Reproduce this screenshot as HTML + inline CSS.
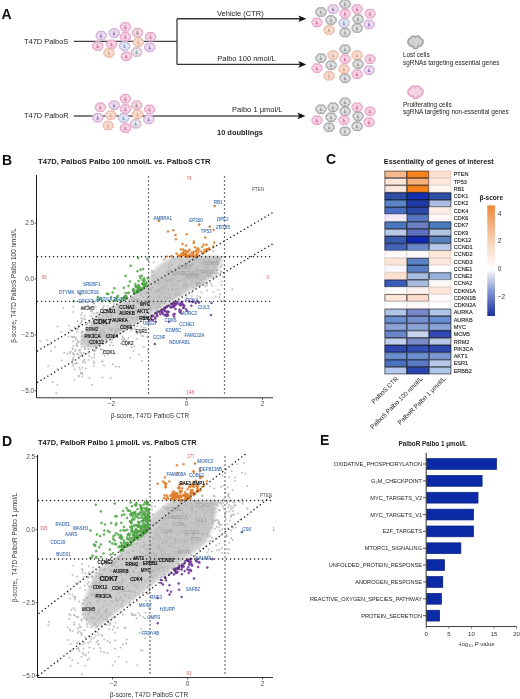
<!DOCTYPE html>
<html><head><meta charset="utf-8"><style>
html,body{margin:0;padding:0;background:#fff;width:520px;height:699px;overflow:hidden}
svg{display:block;filter:blur(0.35px)}
text{font-family:"Liberation Sans",sans-serif}
</style></head><body>
<svg width="520" height="699" viewBox="0 0 520 699">
<defs><filter id="blur1" x="-10%" y="-10%" width="120%" height="120%"><feGaussianBlur stdDeviation="1.6"/></filter></defs>
<rect width="520" height="699" fill="#fff"/>
<text x="1.50" y="19.30" font-size="14" fill="#111" font-weight="bold" text-anchor="start" >A</text><text x="24.00" y="44.00" font-size="7.45" fill="#222" font-weight="normal" text-anchor="start" >T47D PalboS</text><text x="24.00" y="118.30" font-size="7.45" fill="#222" font-weight="normal" text-anchor="start" >T47D PalboR</text><line x1="73.70" y1="41.30" x2="177.00" y2="41.30" stroke="#444" stroke-width="1.3" /><line x1="177.00" y1="18.70" x2="177.00" y2="64.40" stroke="#444" stroke-width="1.35" /><line x1="177.00" y1="18.70" x2="300.00" y2="18.70" stroke="#333" stroke-width="1.35" /><line x1="177.00" y1="64.40" x2="300.00" y2="64.40" stroke="#333" stroke-width="1.35" /><line x1="73.70" y1="115.90" x2="299.00" y2="115.90" stroke="#555" stroke-width="1.5" /><path d="M306.3 18.7 L298.3 15.399999999999999 L300.1 18.7 L298.3 22.0 Z" fill="#111"/><path d="M306.3 64.4 L298.3 61.10000000000001 L300.1 64.4 L298.3 67.7 Z" fill="#111"/><path d="M305.4 115.9 L297.4 112.60000000000001 L299.2 115.9 L297.4 119.2 Z" fill="#111"/><text x="217.00" y="15.90" font-size="7.5" fill="#222" font-weight="normal" text-anchor="start" >Vehicle (CTR)</text><text x="217.30" y="60.60" font-size="7.5" fill="#222" font-weight="normal" text-anchor="start" >Palbo 100 nmol/L</text><text x="232.00" y="112.10" font-size="7.55" fill="#222" font-weight="normal" text-anchor="start" >Palbo 1 μmol/L</text><text x="217.00" y="135.30" font-size="7.46" fill="#222" font-weight="bold" text-anchor="start" >10 doublings</text><path d="M415.50 37.40 A2.60 2.60 0 0 1 420.39 38.43 A2.60 2.60 0 0 1 422.98 41.04 A2.60 2.60 0 0 1 422.08 44.00 A2.60 2.60 0 0 1 418.10 45.93 A2.60 2.60 0 0 1 412.90 45.93 A2.60 2.60 0 0 1 408.92 44.00 A2.60 2.60 0 0 1 408.02 41.04 A2.60 2.60 0 0 1 410.61 38.43 A2.60 2.60 0 0 1 415.50 37.40Z" fill="#d2d2d2" stroke="#a4a4a4" stroke-width="1.6"/><path d="M415.50 87.40 A2.60 2.60 0 0 1 420.39 88.43 A2.60 2.60 0 0 1 422.98 91.04 A2.60 2.60 0 0 1 422.08 94.00 A2.60 2.60 0 0 1 418.10 95.93 A2.60 2.60 0 0 1 412.90 95.93 A2.60 2.60 0 0 1 408.92 94.00 A2.60 2.60 0 0 1 408.02 91.04 A2.60 2.60 0 0 1 410.61 88.43 A2.60 2.60 0 0 1 415.50 87.40Z" fill="#f4d4e4" stroke="#e4a6c6" stroke-width="1.6"/><text x="403.00" y="57.40" font-size="6.4" fill="#222" font-weight="normal" text-anchor="start" >Lost cells</text><text x="403.00" y="64.90" font-size="6.41" fill="#222" font-weight="normal" text-anchor="start" >sgRNAs targeting essential genes</text><text x="403.00" y="106.90" font-size="6.4" fill="#222" font-weight="normal" text-anchor="start" >Proliferating cells</text><text x="403.00" y="114.40" font-size="6.41" fill="#222" font-weight="normal" text-anchor="start" >sgRNA targeting non-essential genes</text><path d="M125.50 23.30 A2.05 2.05 0 0 1 129.04 24.35 A2.05 2.05 0 0 1 130.50 26.90 A2.05 2.05 0 0 1 129.04 29.45 A2.05 2.05 0 0 1 125.50 30.50 A2.05 2.05 0 0 1 121.96 29.45 A2.05 2.05 0 0 1 120.50 26.90 A2.05 2.05 0 0 1 121.96 24.35 A2.05 2.05 0 0 1 125.50 23.30Z" fill="#f6d4e4" stroke="#e8aacb" stroke-width="1.3"/><path d="M125.20 25.20 L124.90 28.20 M124.10 28.30 L126.80 28.30 M125.40 26.80 L126.20 27.50" stroke="#c8488a" stroke-width="0.75" fill="none" stroke-opacity="0.85"/><path d="M101.20 32.00 A2.05 2.05 0 0 1 104.74 33.05 A2.05 2.05 0 0 1 106.20 35.60 A2.05 2.05 0 0 1 104.74 38.15 A2.05 2.05 0 0 1 101.20 39.20 A2.05 2.05 0 0 1 97.66 38.15 A2.05 2.05 0 0 1 96.20 35.60 A2.05 2.05 0 0 1 97.66 33.05 A2.05 2.05 0 0 1 101.20 32.00Z" fill="#eedcf0" stroke="#d4b2da" stroke-width="1.3"/><path d="M100.90 33.90 L100.60 36.90 M99.80 37.00 L102.50 37.00 M101.10 35.50 L101.90 36.20" stroke="#6a4aa8" stroke-width="0.75" fill="none" stroke-opacity="0.85"/><path d="M114.20 29.40 A2.05 2.05 0 0 1 117.74 30.45 A2.05 2.05 0 0 1 119.20 33.00 A2.05 2.05 0 0 1 117.74 35.55 A2.05 2.05 0 0 1 114.20 36.60 A2.05 2.05 0 0 1 110.66 35.55 A2.05 2.05 0 0 1 109.20 33.00 A2.05 2.05 0 0 1 110.66 30.45 A2.05 2.05 0 0 1 114.20 29.40Z" fill="#eedcf0" stroke="#d4b2da" stroke-width="1.3"/><path d="M113.90 31.30 L113.60 34.30 M112.80 34.40 L115.50 34.40 M114.10 32.90 L114.90 33.60" stroke="#6a4aa8" stroke-width="0.75" fill="none" stroke-opacity="0.85"/><path d="M137.60 28.90 A2.05 2.05 0 0 1 141.14 29.95 A2.05 2.05 0 0 1 142.60 32.50 A2.05 2.05 0 0 1 141.14 35.05 A2.05 2.05 0 0 1 137.60 36.10 A2.05 2.05 0 0 1 134.06 35.05 A2.05 2.05 0 0 1 132.60 32.50 A2.05 2.05 0 0 1 134.06 29.95 A2.05 2.05 0 0 1 137.60 28.90Z" fill="#f4d8e2" stroke="#dcb2c6" stroke-width="1.3"/><path d="M137.30 30.80 L137.00 33.80 M136.20 33.90 L138.90 33.90 M137.50 32.40 L138.30 33.10" stroke="#7a5a5a" stroke-width="0.75" fill="none" stroke-opacity="0.85"/><path d="M150.60 33.20 A2.05 2.05 0 0 1 154.14 34.25 A2.05 2.05 0 0 1 155.60 36.80 A2.05 2.05 0 0 1 154.14 39.35 A2.05 2.05 0 0 1 150.60 40.40 A2.05 2.05 0 0 1 147.06 39.35 A2.05 2.05 0 0 1 145.60 36.80 A2.05 2.05 0 0 1 147.06 34.25 A2.05 2.05 0 0 1 150.60 33.20Z" fill="#f6d4e4" stroke="#e8aacb" stroke-width="1.3"/><path d="M150.30 35.10 L150.00 38.10 M149.20 38.20 L151.90 38.20 M150.50 36.70 L151.30 37.40" stroke="#c8488a" stroke-width="0.75" fill="none" stroke-opacity="0.85"/><path d="M125.50 33.20 A2.05 2.05 0 0 1 129.04 34.25 A2.05 2.05 0 0 1 130.50 36.80 A2.05 2.05 0 0 1 129.04 39.35 A2.05 2.05 0 0 1 125.50 40.40 A2.05 2.05 0 0 1 121.96 39.35 A2.05 2.05 0 0 1 120.50 36.80 A2.05 2.05 0 0 1 121.96 34.25 A2.05 2.05 0 0 1 125.50 33.20Z" fill="#f6d4e4" stroke="#e8aacb" stroke-width="1.3"/><path d="M125.20 35.10 L124.90 38.10 M124.10 38.20 L126.80 38.20 M125.40 36.70 L126.20 37.40" stroke="#c8488a" stroke-width="0.75" fill="none" stroke-opacity="0.85"/><path d="M97.80 42.40 A2.05 2.05 0 0 1 101.34 43.45 A2.05 2.05 0 0 1 102.80 46.00 A2.05 2.05 0 0 1 101.34 48.55 A2.05 2.05 0 0 1 97.80 49.60 A2.05 2.05 0 0 1 94.26 48.55 A2.05 2.05 0 0 1 92.80 46.00 A2.05 2.05 0 0 1 94.26 43.45 A2.05 2.05 0 0 1 97.80 42.40Z" fill="#f6d4e4" stroke="#e8aacb" stroke-width="1.3"/><path d="M97.50 44.30 L97.20 47.30 M96.40 47.40 L99.10 47.40 M97.70 45.90 L98.50 46.60" stroke="#c8488a" stroke-width="0.75" fill="none" stroke-opacity="0.85"/><path d="M111.60 40.60 A2.05 2.05 0 0 1 115.14 41.65 A2.05 2.05 0 0 1 116.60 44.20 A2.05 2.05 0 0 1 115.14 46.75 A2.05 2.05 0 0 1 111.60 47.80 A2.05 2.05 0 0 1 108.06 46.75 A2.05 2.05 0 0 1 106.60 44.20 A2.05 2.05 0 0 1 108.06 41.65 A2.05 2.05 0 0 1 111.60 40.60Z" fill="#f6d4e4" stroke="#e8aacb" stroke-width="1.3"/><path d="M111.30 42.50 L111.00 45.50 M110.20 45.60 L112.90 45.60 M111.50 44.10 L112.30 44.80" stroke="#c8488a" stroke-width="0.75" fill="none" stroke-opacity="0.85"/><path d="M124.60 42.40 A2.05 2.05 0 0 1 128.14 43.45 A2.05 2.05 0 0 1 129.60 46.00 A2.05 2.05 0 0 1 128.14 48.55 A2.05 2.05 0 0 1 124.60 49.60 A2.05 2.05 0 0 1 121.06 48.55 A2.05 2.05 0 0 1 119.60 46.00 A2.05 2.05 0 0 1 121.06 43.45 A2.05 2.05 0 0 1 124.60 42.40Z" fill="#e2e6f4" stroke="#c8bcdc" stroke-width="1.3"/><path d="M124.30 44.30 L124.00 47.30 M123.20 47.40 L125.90 47.40 M124.50 45.90 L125.30 46.60" stroke="#4a88c0" stroke-width="0.75" fill="none" stroke-opacity="0.85"/><path d="M138.40 38.50 A2.05 2.05 0 0 1 141.94 39.55 A2.05 2.05 0 0 1 143.40 42.10 A2.05 2.05 0 0 1 141.94 44.65 A2.05 2.05 0 0 1 138.40 45.70 A2.05 2.05 0 0 1 134.86 44.65 A2.05 2.05 0 0 1 133.40 42.10 A2.05 2.05 0 0 1 134.86 39.55 A2.05 2.05 0 0 1 138.40 38.50Z" fill="#f8dcd0" stroke="#ecbcaa" stroke-width="1.3"/><path d="M138.10 40.40 L137.80 43.40 M137.00 43.50 L139.70 43.50 M138.30 42.00 L139.10 42.70" stroke="#c89070" stroke-width="0.75" fill="none" stroke-opacity="0.85"/><path d="M149.70 43.70 A2.05 2.05 0 0 1 153.24 44.75 A2.05 2.05 0 0 1 154.70 47.30 A2.05 2.05 0 0 1 153.24 49.85 A2.05 2.05 0 0 1 149.70 50.90 A2.05 2.05 0 0 1 146.16 49.85 A2.05 2.05 0 0 1 144.70 47.30 A2.05 2.05 0 0 1 146.16 44.75 A2.05 2.05 0 0 1 149.70 43.70Z" fill="#eedcf0" stroke="#d4b2da" stroke-width="1.3"/><path d="M149.40 45.60 L149.10 48.60 M148.30 48.70 L151.00 48.70 M149.60 47.20 L150.40 47.90" stroke="#6a4aa8" stroke-width="0.75" fill="none" stroke-opacity="0.85"/><path d="M109.00 49.30 A2.05 2.05 0 0 1 112.54 50.35 A2.05 2.05 0 0 1 114.00 52.90 A2.05 2.05 0 0 1 112.54 55.45 A2.05 2.05 0 0 1 109.00 56.50 A2.05 2.05 0 0 1 105.46 55.45 A2.05 2.05 0 0 1 104.00 52.90 A2.05 2.05 0 0 1 105.46 50.35 A2.05 2.05 0 0 1 109.00 49.30Z" fill="#f8dcd0" stroke="#ecbcaa" stroke-width="1.3"/><path d="M108.70 51.20 L108.40 54.20 M107.60 54.30 L110.30 54.30 M108.90 52.80 L109.70 53.50" stroke="#c89070" stroke-width="0.75" fill="none" stroke-opacity="0.85"/><path d="M126.30 52.70 A2.05 2.05 0 0 1 129.84 53.75 A2.05 2.05 0 0 1 131.30 56.30 A2.05 2.05 0 0 1 129.84 58.85 A2.05 2.05 0 0 1 126.30 59.90 A2.05 2.05 0 0 1 122.76 58.85 A2.05 2.05 0 0 1 121.30 56.30 A2.05 2.05 0 0 1 122.76 53.75 A2.05 2.05 0 0 1 126.30 52.70Z" fill="#f6d4e4" stroke="#e8aacb" stroke-width="1.3"/><path d="M126.00 54.60 L125.70 57.60 M124.90 57.70 L127.60 57.70 M126.20 56.20 L127.00 56.90" stroke="#c8488a" stroke-width="0.75" fill="none" stroke-opacity="0.85"/><path d="M136.70 48.40 A2.05 2.05 0 0 1 140.24 49.45 A2.05 2.05 0 0 1 141.70 52.00 A2.05 2.05 0 0 1 140.24 54.55 A2.05 2.05 0 0 1 136.70 55.60 A2.05 2.05 0 0 1 133.16 54.55 A2.05 2.05 0 0 1 131.70 52.00 A2.05 2.05 0 0 1 133.16 49.45 A2.05 2.05 0 0 1 136.70 48.40Z" fill="#ece4ee" stroke="#d4b6cc" stroke-width="1.3"/><path d="M136.40 50.30 L136.10 53.30 M135.30 53.40 L138.00 53.40 M136.60 51.90 L137.40 52.60" stroke="#3a8a90" stroke-width="0.75" fill="none" stroke-opacity="0.85"/><path d="M125.50 95.10 A2.05 2.05 0 0 1 129.04 96.15 A2.05 2.05 0 0 1 130.50 98.70 A2.05 2.05 0 0 1 129.04 101.25 A2.05 2.05 0 0 1 125.50 102.30 A2.05 2.05 0 0 1 121.96 101.25 A2.05 2.05 0 0 1 120.50 98.70 A2.05 2.05 0 0 1 121.96 96.15 A2.05 2.05 0 0 1 125.50 95.10Z" fill="#f6d4e4" stroke="#e8aacb" stroke-width="1.3"/><path d="M125.20 97.00 L124.90 100.00 M124.10 100.10 L126.80 100.10 M125.40 98.60 L126.20 99.30" stroke="#c8488a" stroke-width="0.75" fill="none" stroke-opacity="0.85"/><path d="M100.40 103.70 A2.05 2.05 0 0 1 103.94 104.75 A2.05 2.05 0 0 1 105.40 107.30 A2.05 2.05 0 0 1 103.94 109.85 A2.05 2.05 0 0 1 100.40 110.90 A2.05 2.05 0 0 1 96.86 109.85 A2.05 2.05 0 0 1 95.40 107.30 A2.05 2.05 0 0 1 96.86 104.75 A2.05 2.05 0 0 1 100.40 103.70Z" fill="#f6d4e4" stroke="#e8aacb" stroke-width="1.3"/><path d="M100.10 105.60 L99.80 108.60 M99.00 108.70 L101.70 108.70 M100.30 107.20 L101.10 107.90" stroke="#c8488a" stroke-width="0.75" fill="none" stroke-opacity="0.85"/><path d="M114.20 101.60 A2.05 2.05 0 0 1 117.74 102.65 A2.05 2.05 0 0 1 119.20 105.20 A2.05 2.05 0 0 1 117.74 107.75 A2.05 2.05 0 0 1 114.20 108.80 A2.05 2.05 0 0 1 110.66 107.75 A2.05 2.05 0 0 1 109.20 105.20 A2.05 2.05 0 0 1 110.66 102.65 A2.05 2.05 0 0 1 114.20 101.60Z" fill="#eedcf0" stroke="#d4b2da" stroke-width="1.3"/><path d="M113.90 103.50 L113.60 106.50 M112.80 106.60 L115.50 106.60 M114.10 105.10 L114.90 105.80" stroke="#6a4aa8" stroke-width="0.75" fill="none" stroke-opacity="0.85"/><path d="M136.70 101.60 A2.05 2.05 0 0 1 140.24 102.65 A2.05 2.05 0 0 1 141.70 105.20 A2.05 2.05 0 0 1 140.24 107.75 A2.05 2.05 0 0 1 136.70 108.80 A2.05 2.05 0 0 1 133.16 107.75 A2.05 2.05 0 0 1 131.70 105.20 A2.05 2.05 0 0 1 133.16 102.65 A2.05 2.05 0 0 1 136.70 101.60Z" fill="#f4d8e2" stroke="#dcb2c6" stroke-width="1.3"/><path d="M136.40 103.50 L136.10 106.50 M135.30 106.60 L138.00 106.60 M136.60 105.10 L137.40 105.80" stroke="#7a5a5a" stroke-width="0.75" fill="none" stroke-opacity="0.85"/><path d="M149.70 105.80 A2.05 2.05 0 0 1 153.24 106.85 A2.05 2.05 0 0 1 154.70 109.40 A2.05 2.05 0 0 1 153.24 111.95 A2.05 2.05 0 0 1 149.70 113.00 A2.05 2.05 0 0 1 146.16 111.95 A2.05 2.05 0 0 1 144.70 109.40 A2.05 2.05 0 0 1 146.16 106.85 A2.05 2.05 0 0 1 149.70 105.80Z" fill="#f6d4e4" stroke="#e8aacb" stroke-width="1.3"/><path d="M149.40 107.70 L149.10 110.70 M148.30 110.80 L151.00 110.80 M149.60 109.30 L150.40 110.00" stroke="#c8488a" stroke-width="0.75" fill="none" stroke-opacity="0.85"/><path d="M125.50 105.40 A2.05 2.05 0 0 1 129.04 106.45 A2.05 2.05 0 0 1 130.50 109.00 A2.05 2.05 0 0 1 129.04 111.55 A2.05 2.05 0 0 1 125.50 112.60 A2.05 2.05 0 0 1 121.96 111.55 A2.05 2.05 0 0 1 120.50 109.00 A2.05 2.05 0 0 1 121.96 106.45 A2.05 2.05 0 0 1 125.50 105.40Z" fill="#f6d4e4" stroke="#e8aacb" stroke-width="1.3"/><path d="M125.20 107.30 L124.90 110.30 M124.10 110.40 L126.80 110.40 M125.40 108.90 L126.20 109.60" stroke="#c8488a" stroke-width="0.75" fill="none" stroke-opacity="0.85"/><path d="M97.80 114.10 A2.05 2.05 0 0 1 101.34 115.15 A2.05 2.05 0 0 1 102.80 117.70 A2.05 2.05 0 0 1 101.34 120.25 A2.05 2.05 0 0 1 97.80 121.30 A2.05 2.05 0 0 1 94.26 120.25 A2.05 2.05 0 0 1 92.80 117.70 A2.05 2.05 0 0 1 94.26 115.15 A2.05 2.05 0 0 1 97.80 114.10Z" fill="#eedcf0" stroke="#d4b2da" stroke-width="1.3"/><path d="M97.50 116.00 L97.20 119.00 M96.40 119.10 L99.10 119.10 M97.70 117.60 L98.50 118.30" stroke="#6a4aa8" stroke-width="0.75" fill="none" stroke-opacity="0.85"/><path d="M110.80 111.50 A2.05 2.05 0 0 1 114.34 112.55 A2.05 2.05 0 0 1 115.80 115.10 A2.05 2.05 0 0 1 114.34 117.65 A2.05 2.05 0 0 1 110.80 118.70 A2.05 2.05 0 0 1 107.26 117.65 A2.05 2.05 0 0 1 105.80 115.10 A2.05 2.05 0 0 1 107.26 112.55 A2.05 2.05 0 0 1 110.80 111.50Z" fill="#f8dcd0" stroke="#ecbcaa" stroke-width="1.3"/><path d="M110.50 113.40 L110.20 116.40 M109.40 116.50 L112.10 116.50 M110.70 115.00 L111.50 115.70" stroke="#c89070" stroke-width="0.75" fill="none" stroke-opacity="0.85"/><path d="M123.70 114.40 A2.05 2.05 0 0 1 127.24 115.45 A2.05 2.05 0 0 1 128.70 118.00 A2.05 2.05 0 0 1 127.24 120.55 A2.05 2.05 0 0 1 123.70 121.60 A2.05 2.05 0 0 1 120.16 120.55 A2.05 2.05 0 0 1 118.70 118.00 A2.05 2.05 0 0 1 120.16 115.45 A2.05 2.05 0 0 1 123.70 114.40Z" fill="#e2e6f4" stroke="#c8bcdc" stroke-width="1.3"/><path d="M123.40 116.30 L123.10 119.30 M122.30 119.40 L125.00 119.40 M123.60 117.90 L124.40 118.60" stroke="#4a88c0" stroke-width="0.75" fill="none" stroke-opacity="0.85"/><path d="M137.60 110.60 A2.05 2.05 0 0 1 141.14 111.65 A2.05 2.05 0 0 1 142.60 114.20 A2.05 2.05 0 0 1 141.14 116.75 A2.05 2.05 0 0 1 137.60 117.80 A2.05 2.05 0 0 1 134.06 116.75 A2.05 2.05 0 0 1 132.60 114.20 A2.05 2.05 0 0 1 134.06 111.65 A2.05 2.05 0 0 1 137.60 110.60Z" fill="#f8dcd0" stroke="#ecbcaa" stroke-width="1.3"/><path d="M137.30 112.50 L137.00 115.50 M136.20 115.60 L138.90 115.60 M137.50 114.10 L138.30 114.80" stroke="#c89070" stroke-width="0.75" fill="none" stroke-opacity="0.85"/><path d="M148.80 115.80 A2.05 2.05 0 0 1 152.34 116.85 A2.05 2.05 0 0 1 153.80 119.40 A2.05 2.05 0 0 1 152.34 121.95 A2.05 2.05 0 0 1 148.80 123.00 A2.05 2.05 0 0 1 145.26 121.95 A2.05 2.05 0 0 1 143.80 119.40 A2.05 2.05 0 0 1 145.26 116.85 A2.05 2.05 0 0 1 148.80 115.80Z" fill="#eedcf0" stroke="#d4b2da" stroke-width="1.3"/><path d="M148.50 117.70 L148.20 120.70 M147.40 120.80 L150.10 120.80 M148.70 119.30 L149.50 120.00" stroke="#6a4aa8" stroke-width="0.75" fill="none" stroke-opacity="0.85"/><path d="M108.20 121.90 A2.05 2.05 0 0 1 111.74 122.95 A2.05 2.05 0 0 1 113.20 125.50 A2.05 2.05 0 0 1 111.74 128.05 A2.05 2.05 0 0 1 108.20 129.10 A2.05 2.05 0 0 1 104.66 128.05 A2.05 2.05 0 0 1 103.20 125.50 A2.05 2.05 0 0 1 104.66 122.95 A2.05 2.05 0 0 1 108.20 121.90Z" fill="#f8dcd0" stroke="#ecbcaa" stroke-width="1.3"/><path d="M107.90 123.80 L107.60 126.80 M106.80 126.90 L109.50 126.90 M108.10 125.40 L108.90 126.10" stroke="#c89070" stroke-width="0.75" fill="none" stroke-opacity="0.85"/><path d="M125.50 124.40 A2.05 2.05 0 0 1 129.04 125.45 A2.05 2.05 0 0 1 130.50 128.00 A2.05 2.05 0 0 1 129.04 130.55 A2.05 2.05 0 0 1 125.50 131.60 A2.05 2.05 0 0 1 121.96 130.55 A2.05 2.05 0 0 1 120.50 128.00 A2.05 2.05 0 0 1 121.96 125.45 A2.05 2.05 0 0 1 125.50 124.40Z" fill="#f6d4e4" stroke="#e8aacb" stroke-width="1.3"/><path d="M125.20 126.30 L124.90 129.30 M124.10 129.40 L126.80 129.40 M125.40 127.90 L126.20 128.60" stroke="#c8488a" stroke-width="0.75" fill="none" stroke-opacity="0.85"/><path d="M135.80 120.10 A2.05 2.05 0 0 1 139.34 121.15 A2.05 2.05 0 0 1 140.80 123.70 A2.05 2.05 0 0 1 139.34 126.25 A2.05 2.05 0 0 1 135.80 127.30 A2.05 2.05 0 0 1 132.26 126.25 A2.05 2.05 0 0 1 130.80 123.70 A2.05 2.05 0 0 1 132.26 121.15 A2.05 2.05 0 0 1 135.80 120.10Z" fill="#ece4ee" stroke="#d4b6cc" stroke-width="1.3"/><path d="M135.50 122.00 L135.20 125.00 M134.40 125.10 L137.10 125.10 M135.70 123.60 L136.50 124.30" stroke="#3a8a90" stroke-width="0.75" fill="none" stroke-opacity="0.85"/><path d="M345.10 0.40 A2.05 2.05 0 0 1 348.64 1.45 A2.05 2.05 0 0 1 350.10 4.00 A2.05 2.05 0 0 1 348.64 6.55 A2.05 2.05 0 0 1 345.10 7.60 A2.05 2.05 0 0 1 341.56 6.55 A2.05 2.05 0 0 1 340.10 4.00 A2.05 2.05 0 0 1 341.56 1.45 A2.05 2.05 0 0 1 345.10 0.40Z" fill="#dedede" stroke="#aaaaaa" stroke-width="1.3"/><path d="M344.80 2.30 L344.50 5.30 M343.70 5.40 L346.40 5.40 M345.00 3.90 L345.80 4.60" stroke="#808080" stroke-width="0.75" fill="none" stroke-opacity="0.85"/><path d="M321.00 8.40 A2.05 2.05 0 0 1 324.54 9.45 A2.05 2.05 0 0 1 326.00 12.00 A2.05 2.05 0 0 1 324.54 14.55 A2.05 2.05 0 0 1 321.00 15.60 A2.05 2.05 0 0 1 317.46 14.55 A2.05 2.05 0 0 1 316.00 12.00 A2.05 2.05 0 0 1 317.46 9.45 A2.05 2.05 0 0 1 321.00 8.40Z" fill="#dedede" stroke="#aaaaaa" stroke-width="1.3"/><path d="M320.70 10.30 L320.40 13.30 M319.60 13.40 L322.30 13.40 M320.90 11.90 L321.70 12.60" stroke="#808080" stroke-width="0.75" fill="none" stroke-opacity="0.85"/><path d="M333.10 5.40 A2.05 2.05 0 0 1 336.64 6.45 A2.05 2.05 0 0 1 338.10 9.00 A2.05 2.05 0 0 1 336.64 11.55 A2.05 2.05 0 0 1 333.10 12.60 A2.05 2.05 0 0 1 329.56 11.55 A2.05 2.05 0 0 1 328.10 9.00 A2.05 2.05 0 0 1 329.56 6.45 A2.05 2.05 0 0 1 333.10 5.40Z" fill="#eedcf0" stroke="#d4b2da" stroke-width="1.3"/><path d="M332.80 7.30 L332.50 10.30 M331.70 10.40 L334.40 10.40 M333.00 8.90 L333.80 9.60" stroke="#6a4aa8" stroke-width="0.75" fill="none" stroke-opacity="0.85"/><path d="M345.10 10.00 A2.05 2.05 0 0 1 348.64 11.05 A2.05 2.05 0 0 1 350.10 13.60 A2.05 2.05 0 0 1 348.64 16.15 A2.05 2.05 0 0 1 345.10 17.20 A2.05 2.05 0 0 1 341.56 16.15 A2.05 2.05 0 0 1 340.10 13.60 A2.05 2.05 0 0 1 341.56 11.05 A2.05 2.05 0 0 1 345.10 10.00Z" fill="#f6d4e4" stroke="#e8aacb" stroke-width="1.3"/><path d="M344.80 11.90 L344.50 14.90 M343.70 15.00 L346.40 15.00 M345.00 13.50 L345.80 14.20" stroke="#c8488a" stroke-width="0.75" fill="none" stroke-opacity="0.85"/><path d="M357.10 5.40 A2.05 2.05 0 0 1 360.64 6.45 A2.05 2.05 0 0 1 362.10 9.00 A2.05 2.05 0 0 1 360.64 11.55 A2.05 2.05 0 0 1 357.10 12.60 A2.05 2.05 0 0 1 353.56 11.55 A2.05 2.05 0 0 1 352.10 9.00 A2.05 2.05 0 0 1 353.56 6.45 A2.05 2.05 0 0 1 357.10 5.40Z" fill="#f6d4e4" stroke="#e8aacb" stroke-width="1.3"/><path d="M356.80 7.30 L356.50 10.30 M355.70 10.40 L358.40 10.40 M357.00 8.90 L357.80 9.60" stroke="#c8488a" stroke-width="0.75" fill="none" stroke-opacity="0.85"/><path d="M370.10 10.00 A2.05 2.05 0 0 1 373.64 11.05 A2.05 2.05 0 0 1 375.10 13.60 A2.05 2.05 0 0 1 373.64 16.15 A2.05 2.05 0 0 1 370.10 17.20 A2.05 2.05 0 0 1 366.56 16.15 A2.05 2.05 0 0 1 365.10 13.60 A2.05 2.05 0 0 1 366.56 11.05 A2.05 2.05 0 0 1 370.10 10.00Z" fill="#f6d4e4" stroke="#e8aacb" stroke-width="1.3"/><path d="M369.80 11.90 L369.50 14.90 M368.70 15.00 L371.40 15.00 M370.00 13.50 L370.80 14.20" stroke="#c8488a" stroke-width="0.75" fill="none" stroke-opacity="0.85"/><path d="M317.00 18.80 A2.05 2.05 0 0 1 320.54 19.85 A2.05 2.05 0 0 1 322.00 22.40 A2.05 2.05 0 0 1 320.54 24.95 A2.05 2.05 0 0 1 317.00 26.00 A2.05 2.05 0 0 1 313.46 24.95 A2.05 2.05 0 0 1 312.00 22.40 A2.05 2.05 0 0 1 313.46 19.85 A2.05 2.05 0 0 1 317.00 18.80Z" fill="#f6d4e4" stroke="#e8aacb" stroke-width="1.3"/><path d="M316.70 20.70 L316.40 23.70 M315.60 23.80 L318.30 23.80 M316.90 22.30 L317.70 23.00" stroke="#c8488a" stroke-width="0.75" fill="none" stroke-opacity="0.85"/><path d="M331.10 16.40 A2.05 2.05 0 0 1 334.64 17.45 A2.05 2.05 0 0 1 336.10 20.00 A2.05 2.05 0 0 1 334.64 22.55 A2.05 2.05 0 0 1 331.10 23.60 A2.05 2.05 0 0 1 327.56 22.55 A2.05 2.05 0 0 1 326.10 20.00 A2.05 2.05 0 0 1 327.56 17.45 A2.05 2.05 0 0 1 331.10 16.40Z" fill="#dedede" stroke="#aaaaaa" stroke-width="1.3"/><path d="M330.80 18.30 L330.50 21.30 M329.70 21.40 L332.40 21.40 M331.00 19.90 L331.80 20.60" stroke="#808080" stroke-width="0.75" fill="none" stroke-opacity="0.85"/><path d="M344.10 19.40 A2.05 2.05 0 0 1 347.64 20.45 A2.05 2.05 0 0 1 349.10 23.00 A2.05 2.05 0 0 1 347.64 25.55 A2.05 2.05 0 0 1 344.10 26.60 A2.05 2.05 0 0 1 340.56 25.55 A2.05 2.05 0 0 1 339.10 23.00 A2.05 2.05 0 0 1 340.56 20.45 A2.05 2.05 0 0 1 344.10 19.40Z" fill="#e2e6f4" stroke="#c8bcdc" stroke-width="1.3"/><path d="M343.80 21.30 L343.50 24.30 M342.70 24.40 L345.40 24.40 M344.00 22.90 L344.80 23.60" stroke="#4a88c0" stroke-width="0.75" fill="none" stroke-opacity="0.85"/><path d="M358.10 15.40 A2.05 2.05 0 0 1 361.64 16.45 A2.05 2.05 0 0 1 363.10 19.00 A2.05 2.05 0 0 1 361.64 21.55 A2.05 2.05 0 0 1 358.10 22.60 A2.05 2.05 0 0 1 354.56 21.55 A2.05 2.05 0 0 1 353.10 19.00 A2.05 2.05 0 0 1 354.56 16.45 A2.05 2.05 0 0 1 358.10 15.40Z" fill="#dedede" stroke="#aaaaaa" stroke-width="1.3"/><path d="M357.80 17.30 L357.50 20.30 M356.70 20.40 L359.40 20.40 M358.00 18.90 L358.80 19.60" stroke="#808080" stroke-width="0.75" fill="none" stroke-opacity="0.85"/><path d="M369.10 20.80 A2.05 2.05 0 0 1 372.64 21.85 A2.05 2.05 0 0 1 374.10 24.40 A2.05 2.05 0 0 1 372.64 26.95 A2.05 2.05 0 0 1 369.10 28.00 A2.05 2.05 0 0 1 365.56 26.95 A2.05 2.05 0 0 1 364.10 24.40 A2.05 2.05 0 0 1 365.56 21.85 A2.05 2.05 0 0 1 369.10 20.80Z" fill="#eedcf0" stroke="#d4b2da" stroke-width="1.3"/><path d="M368.80 22.70 L368.50 25.70 M367.70 25.80 L370.40 25.80 M369.00 24.30 L369.80 25.00" stroke="#6a4aa8" stroke-width="0.75" fill="none" stroke-opacity="0.85"/><path d="M329.10 26.40 A2.05 2.05 0 0 1 332.64 27.45 A2.05 2.05 0 0 1 334.10 30.00 A2.05 2.05 0 0 1 332.64 32.55 A2.05 2.05 0 0 1 329.10 33.60 A2.05 2.05 0 0 1 325.56 32.55 A2.05 2.05 0 0 1 324.10 30.00 A2.05 2.05 0 0 1 325.56 27.45 A2.05 2.05 0 0 1 329.10 26.40Z" fill="#f8dcd0" stroke="#ecbcaa" stroke-width="1.3"/><path d="M328.80 28.30 L328.50 31.30 M327.70 31.40 L330.40 31.40 M329.00 29.90 L329.80 30.60" stroke="#c89070" stroke-width="0.75" fill="none" stroke-opacity="0.85"/><path d="M345.10 28.90 A2.05 2.05 0 0 1 348.64 29.95 A2.05 2.05 0 0 1 350.10 32.50 A2.05 2.05 0 0 1 348.64 35.05 A2.05 2.05 0 0 1 345.10 36.10 A2.05 2.05 0 0 1 341.56 35.05 A2.05 2.05 0 0 1 340.10 32.50 A2.05 2.05 0 0 1 341.56 29.95 A2.05 2.05 0 0 1 345.10 28.90Z" fill="#dedede" stroke="#aaaaaa" stroke-width="1.3"/><path d="M344.80 30.80 L344.50 33.80 M343.70 33.90 L346.40 33.90 M345.00 32.40 L345.80 33.10" stroke="#808080" stroke-width="0.75" fill="none" stroke-opacity="0.85"/><path d="M357.10 24.40 A2.05 2.05 0 0 1 360.64 25.45 A2.05 2.05 0 0 1 362.10 28.00 A2.05 2.05 0 0 1 360.64 30.55 A2.05 2.05 0 0 1 357.10 31.60 A2.05 2.05 0 0 1 353.56 30.55 A2.05 2.05 0 0 1 352.10 28.00 A2.05 2.05 0 0 1 353.56 25.45 A2.05 2.05 0 0 1 357.10 24.40Z" fill="#dedede" stroke="#aaaaaa" stroke-width="1.3"/><path d="M356.80 26.30 L356.50 29.30 M355.70 29.40 L358.40 29.40 M357.00 27.90 L357.80 28.60" stroke="#808080" stroke-width="0.75" fill="none" stroke-opacity="0.85"/><path d="M345.10 45.50 A2.05 2.05 0 0 1 348.64 46.55 A2.05 2.05 0 0 1 350.10 49.10 A2.05 2.05 0 0 1 348.64 51.65 A2.05 2.05 0 0 1 345.10 52.70 A2.05 2.05 0 0 1 341.56 51.65 A2.05 2.05 0 0 1 340.10 49.10 A2.05 2.05 0 0 1 341.56 46.55 A2.05 2.05 0 0 1 345.10 45.50Z" fill="#dedede" stroke="#aaaaaa" stroke-width="1.3"/><path d="M344.80 47.40 L344.50 50.40 M343.70 50.50 L346.40 50.50 M345.00 49.00 L345.80 49.70" stroke="#808080" stroke-width="0.75" fill="none" stroke-opacity="0.85"/><path d="M321.00 54.50 A2.05 2.05 0 0 1 324.54 55.55 A2.05 2.05 0 0 1 326.00 58.10 A2.05 2.05 0 0 1 324.54 60.65 A2.05 2.05 0 0 1 321.00 61.70 A2.05 2.05 0 0 1 317.46 60.65 A2.05 2.05 0 0 1 316.00 58.10 A2.05 2.05 0 0 1 317.46 55.55 A2.05 2.05 0 0 1 321.00 54.50Z" fill="#dedede" stroke="#aaaaaa" stroke-width="1.3"/><path d="M320.70 56.40 L320.40 59.40 M319.60 59.50 L322.30 59.50 M320.90 58.00 L321.70 58.70" stroke="#808080" stroke-width="0.75" fill="none" stroke-opacity="0.85"/><path d="M333.10 51.50 A2.05 2.05 0 0 1 336.64 52.55 A2.05 2.05 0 0 1 338.10 55.10 A2.05 2.05 0 0 1 336.64 57.65 A2.05 2.05 0 0 1 333.10 58.70 A2.05 2.05 0 0 1 329.56 57.65 A2.05 2.05 0 0 1 328.10 55.10 A2.05 2.05 0 0 1 329.56 52.55 A2.05 2.05 0 0 1 333.10 51.50Z" fill="#f8dcd0" stroke="#ecbcaa" stroke-width="1.3"/><path d="M332.80 53.40 L332.50 56.40 M331.70 56.50 L334.40 56.50 M333.00 55.00 L333.80 55.70" stroke="#c89070" stroke-width="0.75" fill="none" stroke-opacity="0.85"/><path d="M345.10 55.50 A2.05 2.05 0 0 1 348.64 56.55 A2.05 2.05 0 0 1 350.10 59.10 A2.05 2.05 0 0 1 348.64 61.65 A2.05 2.05 0 0 1 345.10 62.70 A2.05 2.05 0 0 1 341.56 61.65 A2.05 2.05 0 0 1 340.10 59.10 A2.05 2.05 0 0 1 341.56 56.55 A2.05 2.05 0 0 1 345.10 55.50Z" fill="#f6d4e4" stroke="#e8aacb" stroke-width="1.3"/><path d="M344.80 57.40 L344.50 60.40 M343.70 60.50 L346.40 60.50 M345.00 59.00 L345.80 59.70" stroke="#c8488a" stroke-width="0.75" fill="none" stroke-opacity="0.85"/><path d="M357.10 51.50 A2.05 2.05 0 0 1 360.64 52.55 A2.05 2.05 0 0 1 362.10 55.10 A2.05 2.05 0 0 1 360.64 57.65 A2.05 2.05 0 0 1 357.10 58.70 A2.05 2.05 0 0 1 353.56 57.65 A2.05 2.05 0 0 1 352.10 55.10 A2.05 2.05 0 0 1 353.56 52.55 A2.05 2.05 0 0 1 357.10 51.50Z" fill="#f8dcd0" stroke="#ecbcaa" stroke-width="1.3"/><path d="M356.80 53.40 L356.50 56.40 M355.70 56.50 L358.40 56.50 M357.00 55.00 L357.80 55.70" stroke="#c89070" stroke-width="0.75" fill="none" stroke-opacity="0.85"/><path d="M370.10 55.50 A2.05 2.05 0 0 1 373.64 56.55 A2.05 2.05 0 0 1 375.10 59.10 A2.05 2.05 0 0 1 373.64 61.65 A2.05 2.05 0 0 1 370.10 62.70 A2.05 2.05 0 0 1 366.56 61.65 A2.05 2.05 0 0 1 365.10 59.10 A2.05 2.05 0 0 1 366.56 56.55 A2.05 2.05 0 0 1 370.10 55.50Z" fill="#f6d4e4" stroke="#e8aacb" stroke-width="1.3"/><path d="M369.80 57.40 L369.50 60.40 M368.70 60.50 L371.40 60.50 M370.00 59.00 L370.80 59.70" stroke="#c8488a" stroke-width="0.75" fill="none" stroke-opacity="0.85"/><path d="M317.00 64.50 A2.05 2.05 0 0 1 320.54 65.55 A2.05 2.05 0 0 1 322.00 68.10 A2.05 2.05 0 0 1 320.54 70.65 A2.05 2.05 0 0 1 317.00 71.70 A2.05 2.05 0 0 1 313.46 70.65 A2.05 2.05 0 0 1 312.00 68.10 A2.05 2.05 0 0 1 313.46 65.55 A2.05 2.05 0 0 1 317.00 64.50Z" fill="#f6d4e4" stroke="#e8aacb" stroke-width="1.3"/><path d="M316.70 66.40 L316.40 69.40 M315.60 69.50 L318.30 69.50 M316.90 68.00 L317.70 68.70" stroke="#c8488a" stroke-width="0.75" fill="none" stroke-opacity="0.85"/><path d="M331.10 61.50 A2.05 2.05 0 0 1 334.64 62.55 A2.05 2.05 0 0 1 336.10 65.10 A2.05 2.05 0 0 1 334.64 67.65 A2.05 2.05 0 0 1 331.10 68.70 A2.05 2.05 0 0 1 327.56 67.65 A2.05 2.05 0 0 1 326.10 65.10 A2.05 2.05 0 0 1 327.56 62.55 A2.05 2.05 0 0 1 331.10 61.50Z" fill="#dedede" stroke="#aaaaaa" stroke-width="1.3"/><path d="M330.80 63.40 L330.50 66.40 M329.70 66.50 L332.40 66.50 M331.00 65.00 L331.80 65.70" stroke="#808080" stroke-width="0.75" fill="none" stroke-opacity="0.85"/><path d="M344.10 65.50 A2.05 2.05 0 0 1 347.64 66.55 A2.05 2.05 0 0 1 349.10 69.10 A2.05 2.05 0 0 1 347.64 71.65 A2.05 2.05 0 0 1 344.10 72.70 A2.05 2.05 0 0 1 340.56 71.65 A2.05 2.05 0 0 1 339.10 69.10 A2.05 2.05 0 0 1 340.56 66.55 A2.05 2.05 0 0 1 344.10 65.50Z" fill="#f8dcd0" stroke="#ecbcaa" stroke-width="1.3"/><path d="M343.80 67.40 L343.50 70.40 M342.70 70.50 L345.40 70.50 M344.00 69.00 L344.80 69.70" stroke="#c89070" stroke-width="0.75" fill="none" stroke-opacity="0.85"/><path d="M358.10 60.50 A2.05 2.05 0 0 1 361.64 61.55 A2.05 2.05 0 0 1 363.10 64.10 A2.05 2.05 0 0 1 361.64 66.65 A2.05 2.05 0 0 1 358.10 67.70 A2.05 2.05 0 0 1 354.56 66.65 A2.05 2.05 0 0 1 353.10 64.10 A2.05 2.05 0 0 1 354.56 61.55 A2.05 2.05 0 0 1 358.10 60.50Z" fill="#dedede" stroke="#aaaaaa" stroke-width="1.3"/><path d="M357.80 62.40 L357.50 65.40 M356.70 65.50 L359.40 65.50 M358.00 64.00 L358.80 64.70" stroke="#808080" stroke-width="0.75" fill="none" stroke-opacity="0.85"/><path d="M369.10 66.50 A2.05 2.05 0 0 1 372.64 67.55 A2.05 2.05 0 0 1 374.10 70.10 A2.05 2.05 0 0 1 372.64 72.65 A2.05 2.05 0 0 1 369.10 73.70 A2.05 2.05 0 0 1 365.56 72.65 A2.05 2.05 0 0 1 364.10 70.10 A2.05 2.05 0 0 1 365.56 67.55 A2.05 2.05 0 0 1 369.10 66.50Z" fill="#eedcf0" stroke="#d4b2da" stroke-width="1.3"/><path d="M368.80 68.40 L368.50 71.40 M367.70 71.50 L370.40 71.50 M369.00 70.00 L369.80 70.70" stroke="#6a4aa8" stroke-width="0.75" fill="none" stroke-opacity="0.85"/><path d="M329.10 72.20 A2.05 2.05 0 0 1 332.64 73.25 A2.05 2.05 0 0 1 334.10 75.80 A2.05 2.05 0 0 1 332.64 78.35 A2.05 2.05 0 0 1 329.10 79.40 A2.05 2.05 0 0 1 325.56 78.35 A2.05 2.05 0 0 1 324.10 75.80 A2.05 2.05 0 0 1 325.56 73.25 A2.05 2.05 0 0 1 329.10 72.20Z" fill="#f8dcd0" stroke="#ecbcaa" stroke-width="1.3"/><path d="M328.80 74.10 L328.50 77.10 M327.70 77.20 L330.40 77.20 M329.00 75.70 L329.80 76.40" stroke="#c89070" stroke-width="0.75" fill="none" stroke-opacity="0.85"/><path d="M345.10 74.60 A2.05 2.05 0 0 1 348.64 75.65 A2.05 2.05 0 0 1 350.10 78.20 A2.05 2.05 0 0 1 348.64 80.75 A2.05 2.05 0 0 1 345.10 81.80 A2.05 2.05 0 0 1 341.56 80.75 A2.05 2.05 0 0 1 340.10 78.20 A2.05 2.05 0 0 1 341.56 75.65 A2.05 2.05 0 0 1 345.10 74.60Z" fill="#dedede" stroke="#aaaaaa" stroke-width="1.3"/><path d="M344.80 76.50 L344.50 79.50 M343.70 79.60 L346.40 79.60 M345.00 78.10 L345.80 78.80" stroke="#808080" stroke-width="0.75" fill="none" stroke-opacity="0.85"/><path d="M357.10 70.50 A2.05 2.05 0 0 1 360.64 71.55 A2.05 2.05 0 0 1 362.10 74.10 A2.05 2.05 0 0 1 360.64 76.65 A2.05 2.05 0 0 1 357.10 77.70 A2.05 2.05 0 0 1 353.56 76.65 A2.05 2.05 0 0 1 352.10 74.10 A2.05 2.05 0 0 1 353.56 71.55 A2.05 2.05 0 0 1 357.10 70.50Z" fill="#f6d4e4" stroke="#e8aacb" stroke-width="1.3"/><path d="M356.80 72.40 L356.50 75.40 M355.70 75.50 L358.40 75.50 M357.00 74.00 L357.80 74.70" stroke="#c8488a" stroke-width="0.75" fill="none" stroke-opacity="0.85"/><path d="M345.10 98.60 A2.05 2.05 0 0 1 348.64 99.65 A2.05 2.05 0 0 1 350.10 102.20 A2.05 2.05 0 0 1 348.64 104.75 A2.05 2.05 0 0 1 345.10 105.80 A2.05 2.05 0 0 1 341.56 104.75 A2.05 2.05 0 0 1 340.10 102.20 A2.05 2.05 0 0 1 341.56 99.65 A2.05 2.05 0 0 1 345.10 98.60Z" fill="#dedede" stroke="#aaaaaa" stroke-width="1.3"/><path d="M344.80 100.50 L344.50 103.50 M343.70 103.60 L346.40 103.60 M345.00 102.10 L345.80 102.80" stroke="#808080" stroke-width="0.75" fill="none" stroke-opacity="0.85"/><path d="M321.00 105.60 A2.05 2.05 0 0 1 324.54 106.65 A2.05 2.05 0 0 1 326.00 109.20 A2.05 2.05 0 0 1 324.54 111.75 A2.05 2.05 0 0 1 321.00 112.80 A2.05 2.05 0 0 1 317.46 111.75 A2.05 2.05 0 0 1 316.00 109.20 A2.05 2.05 0 0 1 317.46 106.65 A2.05 2.05 0 0 1 321.00 105.60Z" fill="#dedede" stroke="#aaaaaa" stroke-width="1.3"/><path d="M320.70 107.50 L320.40 110.50 M319.60 110.60 L322.30 110.60 M320.90 109.10 L321.70 109.80" stroke="#808080" stroke-width="0.75" fill="none" stroke-opacity="0.85"/><path d="M333.10 103.60 A2.05 2.05 0 0 1 336.64 104.65 A2.05 2.05 0 0 1 338.10 107.20 A2.05 2.05 0 0 1 336.64 109.75 A2.05 2.05 0 0 1 333.10 110.80 A2.05 2.05 0 0 1 329.56 109.75 A2.05 2.05 0 0 1 328.10 107.20 A2.05 2.05 0 0 1 329.56 104.65 A2.05 2.05 0 0 1 333.10 103.60Z" fill="#dedede" stroke="#aaaaaa" stroke-width="1.3"/><path d="M332.80 105.50 L332.50 108.50 M331.70 108.60 L334.40 108.60 M333.00 107.10 L333.80 107.80" stroke="#808080" stroke-width="0.75" fill="none" stroke-opacity="0.85"/><path d="M345.10 107.60 A2.05 2.05 0 0 1 348.64 108.65 A2.05 2.05 0 0 1 350.10 111.20 A2.05 2.05 0 0 1 348.64 113.75 A2.05 2.05 0 0 1 345.10 114.80 A2.05 2.05 0 0 1 341.56 113.75 A2.05 2.05 0 0 1 340.10 111.20 A2.05 2.05 0 0 1 341.56 108.65 A2.05 2.05 0 0 1 345.10 107.60Z" fill="#dedede" stroke="#aaaaaa" stroke-width="1.3"/><path d="M344.80 109.50 L344.50 112.50 M343.70 112.60 L346.40 112.60 M345.00 111.10 L345.80 111.80" stroke="#808080" stroke-width="0.75" fill="none" stroke-opacity="0.85"/><path d="M357.10 103.60 A2.05 2.05 0 0 1 360.64 104.65 A2.05 2.05 0 0 1 362.10 107.20 A2.05 2.05 0 0 1 360.64 109.75 A2.05 2.05 0 0 1 357.10 110.80 A2.05 2.05 0 0 1 353.56 109.75 A2.05 2.05 0 0 1 352.10 107.20 A2.05 2.05 0 0 1 353.56 104.65 A2.05 2.05 0 0 1 357.10 103.60Z" fill="#f6d4e4" stroke="#e8aacb" stroke-width="1.3"/><path d="M356.80 105.50 L356.50 108.50 M355.70 108.60 L358.40 108.60 M357.00 107.10 L357.80 107.80" stroke="#c8488a" stroke-width="0.75" fill="none" stroke-opacity="0.85"/><path d="M370.10 107.60 A2.05 2.05 0 0 1 373.64 108.65 A2.05 2.05 0 0 1 375.10 111.20 A2.05 2.05 0 0 1 373.64 113.75 A2.05 2.05 0 0 1 370.10 114.80 A2.05 2.05 0 0 1 366.56 113.75 A2.05 2.05 0 0 1 365.10 111.20 A2.05 2.05 0 0 1 366.56 108.65 A2.05 2.05 0 0 1 370.10 107.60Z" fill="#f6d4e4" stroke="#e8aacb" stroke-width="1.3"/><path d="M369.80 109.50 L369.50 112.50 M368.70 112.60 L371.40 112.60 M370.00 111.10 L370.80 111.80" stroke="#c8488a" stroke-width="0.75" fill="none" stroke-opacity="0.85"/><path d="M317.00 116.60 A2.05 2.05 0 0 1 320.54 117.65 A2.05 2.05 0 0 1 322.00 120.20 A2.05 2.05 0 0 1 320.54 122.75 A2.05 2.05 0 0 1 317.00 123.80 A2.05 2.05 0 0 1 313.46 122.75 A2.05 2.05 0 0 1 312.00 120.20 A2.05 2.05 0 0 1 313.46 117.65 A2.05 2.05 0 0 1 317.00 116.60Z" fill="#f6d4e4" stroke="#e8aacb" stroke-width="1.3"/><path d="M316.70 118.50 L316.40 121.50 M315.60 121.60 L318.30 121.60 M316.90 120.10 L317.70 120.80" stroke="#c8488a" stroke-width="0.75" fill="none" stroke-opacity="0.85"/><path d="M331.10 113.60 A2.05 2.05 0 0 1 334.64 114.65 A2.05 2.05 0 0 1 336.10 117.20 A2.05 2.05 0 0 1 334.64 119.75 A2.05 2.05 0 0 1 331.10 120.80 A2.05 2.05 0 0 1 327.56 119.75 A2.05 2.05 0 0 1 326.10 117.20 A2.05 2.05 0 0 1 327.56 114.65 A2.05 2.05 0 0 1 331.10 113.60Z" fill="#dedede" stroke="#aaaaaa" stroke-width="1.3"/><path d="M330.80 115.50 L330.50 118.50 M329.70 118.60 L332.40 118.60 M331.00 117.10 L331.80 117.80" stroke="#808080" stroke-width="0.75" fill="none" stroke-opacity="0.85"/><path d="M344.10 116.60 A2.05 2.05 0 0 1 347.64 117.65 A2.05 2.05 0 0 1 349.10 120.20 A2.05 2.05 0 0 1 347.64 122.75 A2.05 2.05 0 0 1 344.10 123.80 A2.05 2.05 0 0 1 340.56 122.75 A2.05 2.05 0 0 1 339.10 120.20 A2.05 2.05 0 0 1 340.56 117.65 A2.05 2.05 0 0 1 344.10 116.60Z" fill="#f6d4e4" stroke="#e8aacb" stroke-width="1.3"/><path d="M343.80 118.50 L343.50 121.50 M342.70 121.60 L345.40 121.60 M344.00 120.10 L344.80 120.80" stroke="#c8488a" stroke-width="0.75" fill="none" stroke-opacity="0.85"/><path d="M358.10 112.60 A2.05 2.05 0 0 1 361.64 113.65 A2.05 2.05 0 0 1 363.10 116.20 A2.05 2.05 0 0 1 361.64 118.75 A2.05 2.05 0 0 1 358.10 119.80 A2.05 2.05 0 0 1 354.56 118.75 A2.05 2.05 0 0 1 353.10 116.20 A2.05 2.05 0 0 1 354.56 113.65 A2.05 2.05 0 0 1 358.10 112.60Z" fill="#dedede" stroke="#aaaaaa" stroke-width="1.3"/><path d="M357.80 114.50 L357.50 117.50 M356.70 117.60 L359.40 117.60 M358.00 116.10 L358.80 116.80" stroke="#808080" stroke-width="0.75" fill="none" stroke-opacity="0.85"/><path d="M369.10 118.60 A2.05 2.05 0 0 1 372.64 119.65 A2.05 2.05 0 0 1 374.10 122.20 A2.05 2.05 0 0 1 372.64 124.75 A2.05 2.05 0 0 1 369.10 125.80 A2.05 2.05 0 0 1 365.56 124.75 A2.05 2.05 0 0 1 364.10 122.20 A2.05 2.05 0 0 1 365.56 119.65 A2.05 2.05 0 0 1 369.10 118.60Z" fill="#f6d4e4" stroke="#e8aacb" stroke-width="1.3"/><path d="M368.80 120.50 L368.50 123.50 M367.70 123.60 L370.40 123.60 M369.00 122.10 L369.80 122.80" stroke="#c8488a" stroke-width="0.75" fill="none" stroke-opacity="0.85"/><path d="M329.10 123.70 A2.05 2.05 0 0 1 332.64 124.75 A2.05 2.05 0 0 1 334.10 127.30 A2.05 2.05 0 0 1 332.64 129.85 A2.05 2.05 0 0 1 329.10 130.90 A2.05 2.05 0 0 1 325.56 129.85 A2.05 2.05 0 0 1 324.10 127.30 A2.05 2.05 0 0 1 325.56 124.75 A2.05 2.05 0 0 1 329.10 123.70Z" fill="#dedede" stroke="#aaaaaa" stroke-width="1.3"/><path d="M328.80 125.60 L328.50 128.60 M327.70 128.70 L330.40 128.70 M329.00 127.20 L329.80 127.90" stroke="#808080" stroke-width="0.75" fill="none" stroke-opacity="0.85"/><path d="M345.10 127.70 A2.05 2.05 0 0 1 348.64 128.75 A2.05 2.05 0 0 1 350.10 131.30 A2.05 2.05 0 0 1 348.64 133.85 A2.05 2.05 0 0 1 345.10 134.90 A2.05 2.05 0 0 1 341.56 133.85 A2.05 2.05 0 0 1 340.10 131.30 A2.05 2.05 0 0 1 341.56 128.75 A2.05 2.05 0 0 1 345.10 127.70Z" fill="#dedede" stroke="#aaaaaa" stroke-width="1.3"/><path d="M344.80 129.60 L344.50 132.60 M343.70 132.70 L346.40 132.70 M345.00 131.20 L345.80 131.90" stroke="#808080" stroke-width="0.75" fill="none" stroke-opacity="0.85"/><path d="M357.10 122.70 A2.05 2.05 0 0 1 360.64 123.75 A2.05 2.05 0 0 1 362.10 126.30 A2.05 2.05 0 0 1 360.64 128.85 A2.05 2.05 0 0 1 357.10 129.90 A2.05 2.05 0 0 1 353.56 128.85 A2.05 2.05 0 0 1 352.10 126.30 A2.05 2.05 0 0 1 353.56 123.75 A2.05 2.05 0 0 1 357.10 122.70Z" fill="#dedede" stroke="#aaaaaa" stroke-width="1.3"/><path d="M356.80 124.60 L356.50 127.60 M355.70 127.70 L358.40 127.70 M357.00 126.20 L357.80 126.90" stroke="#808080" stroke-width="0.75" fill="none" stroke-opacity="0.85"/><text x="2.00" y="164.60" font-size="14" fill="#111" font-weight="bold" text-anchor="start" >B</text><text x="38.00" y="163.80" font-size="7.67" fill="#1a1a1a" font-weight="bold" text-anchor="start" >T47D, PalboS Palbo 100 nmol/L vs. PalboS CTR</text><defs><clipPath id="clipB"><path d="M36.5 397.8 L36.5 301.4 L121.9 301.4 L148.5 285.7 L148.5 256.6 L197.9 256.6 L273.0 212.5 L273.0 301.4 L175.1 301.4 L148.5 317.0 L148.5 397.8 Z"/></clipPath></defs><g clip-path="url(#clipB)"><g filter="url(#blur1)"><path d="M80.1 339.3 L83.7 332.9 L87.2 327.4 L90.8 322.5 L94.4 318.0 L97.9 315.9 L101.5 313.8 L105.0 311.7 L108.6 309.6 L112.2 307.5 L115.7 305.4 L119.3 303.3 L122.9 301.2 L126.4 299.1 L130.0 297.0 L133.5 295.0 L137.1 292.9 L140.7 289.8 L144.2 285.2 L147.8 279.8 L151.4 274.2 L154.9 269.2 L158.5 265.5 L162.0 263.2 L165.6 261.1 L169.2 259.0 L172.7 256.9 L176.3 256.2 L179.8 256.2 L183.4 256.2 L187.0 256.2 L190.5 256.2 L194.1 256.2 L197.7 256.2 L201.2 256.2 L204.8 256.2 L208.4 256.2 L211.9 256.2 L215.5 256.2 L219.0 256.2 L222.6 256.2 L222.6 259.8 L219.0 267.3 L215.5 273.3 L211.9 277.9 L208.4 280.0 L204.8 282.1 L201.2 284.2 L197.7 286.3 L194.1 288.4 L190.5 290.5 L187.0 292.6 L183.4 294.7 L179.8 296.8 L176.3 298.9 L172.7 301.0 L169.2 303.1 L165.6 305.1 L162.0 307.2 L158.5 309.4 L154.9 311.6 L151.4 314.0 L147.8 316.4 L144.2 318.8 L140.7 321.1 L137.1 323.3 L133.5 325.3 L130.0 327.4 L126.4 329.5 L122.9 331.6 L119.3 333.7 L115.7 335.8 L112.2 337.9 L108.6 340.0 L105.0 342.1 L101.5 344.2 L97.9 346.3 L94.4 348.4 L90.8 348.1 L87.2 347.4 L83.7 346.1 L80.1 343.9 Z" fill="#cdcdcd"/><path d="M148.5 299.7 L150.3 295.5 L152.0 291.9 L153.8 288.7 L155.5 285.5 L157.3 283.9 L159.0 282.0 L160.8 280.1 L162.6 278.2 L164.3 276.2 L166.1 274.4 L167.8 272.7 L169.6 271.2 L171.3 270.0 L173.1 269.0 L174.9 268.0 L176.6 266.9 L178.4 265.9 L180.1 264.9 L181.9 263.8 L183.7 262.8 L185.4 261.8 L187.2 260.7 L188.9 259.7 L190.7 258.7 L192.4 257.6 L194.2 256.6 L196.0 256.6 L197.7 256.6 L199.5 256.6 L201.2 256.6 L203.0 256.6 L204.7 256.6 L206.5 256.6 L208.3 256.6 L210.0 256.6 L211.8 256.6 L213.5 256.6 L215.3 256.6 L217.0 256.6 L218.8 257.3 L218.8 261.5 L217.0 266.5 L215.3 270.3 L213.5 273.2 L211.8 274.2 L210.0 275.2 L208.3 276.3 L206.5 277.3 L204.7 278.3 L203.0 279.4 L201.2 280.4 L199.5 281.4 L197.7 282.5 L196.0 283.5 L194.2 284.5 L192.4 285.6 L190.7 286.6 L188.9 287.6 L187.2 288.7 L185.4 289.7 L183.7 290.7 L181.9 291.8 L180.1 292.8 L178.4 293.8 L176.6 294.9 L174.9 295.9 L173.1 296.9 L171.3 298.0 L169.6 299.0 L167.8 300.0 L166.1 301.1 L164.3 302.1 L162.6 303.1 L160.8 304.2 L159.0 305.2 L157.3 306.2 L155.5 307.3 L153.8 306.7 L152.0 305.9 L150.3 304.7 L148.5 302.9 Z" fill="#c5c5c5"/></g></g><g fill="#b5b5b5" fill-opacity="0.85"><circle cx="121.7" cy="324.4" r="1.0"/><circle cx="154.0" cy="303.8" r="1.0"/><circle cx="81.3" cy="322.3" r="1.0"/><circle cx="83.1" cy="331.8" r="1.0"/><circle cx="137.0" cy="299.0" r="1.0"/><circle cx="167.9" cy="281.0" r="1.0"/><circle cx="160.2" cy="289.0" r="1.0"/><circle cx="203.0" cy="270.1" r="1.0"/><circle cx="94.4" cy="354.4" r="1.0"/><circle cx="169.6" cy="295.1" r="1.0"/><circle cx="81.6" cy="344.1" r="1.0"/><circle cx="175.9" cy="294.5" r="1.0"/><circle cx="193.2" cy="274.2" r="1.0"/><circle cx="152.3" cy="275.7" r="1.0"/><circle cx="183.4" cy="271.9" r="1.0"/><circle cx="136.1" cy="309.8" r="1.0"/><circle cx="95.6" cy="306.7" r="1.0"/><circle cx="188.7" cy="271.2" r="1.0"/><circle cx="205.6" cy="275.9" r="1.0"/><circle cx="200.2" cy="297.0" r="1.0"/><circle cx="81.7" cy="336.3" r="1.0"/><circle cx="170.9" cy="281.8" r="1.0"/><circle cx="131.1" cy="324.7" r="1.0"/><circle cx="75.9" cy="339.6" r="1.0"/><circle cx="81.5" cy="333.0" r="1.0"/><circle cx="92.2" cy="385.0" r="1.0"/><circle cx="84.7" cy="315.9" r="1.0"/><circle cx="156.0" cy="281.9" r="1.0"/><circle cx="114.8" cy="353.5" r="1.0"/><circle cx="127.0" cy="304.1" r="1.0"/><circle cx="99.3" cy="335.1" r="1.0"/><circle cx="108.0" cy="337.0" r="1.0"/><circle cx="73.1" cy="353.1" r="1.0"/><circle cx="150.9" cy="307.9" r="1.0"/><circle cx="205.4" cy="286.2" r="1.0"/><circle cx="82.0" cy="312.8" r="1.0"/><circle cx="104.2" cy="333.1" r="1.0"/><circle cx="72.5" cy="337.1" r="1.0"/><circle cx="165.8" cy="280.7" r="1.0"/><circle cx="110.8" cy="329.5" r="1.0"/><circle cx="201.5" cy="263.3" r="1.0"/><circle cx="143.3" cy="297.3" r="1.0"/><circle cx="124.6" cy="311.2" r="1.0"/><circle cx="152.8" cy="287.4" r="1.0"/><circle cx="203.7" cy="277.6" r="1.0"/><circle cx="112.2" cy="307.4" r="1.0"/><circle cx="153.5" cy="271.8" r="1.0"/><circle cx="196.9" cy="269.7" r="1.0"/><circle cx="76.7" cy="345.1" r="1.0"/><circle cx="106.0" cy="334.9" r="1.0"/><circle cx="102.4" cy="377.6" r="1.0"/><circle cx="200.2" cy="297.9" r="1.0"/><circle cx="171.8" cy="265.0" r="1.0"/><circle cx="186.5" cy="265.3" r="1.0"/><circle cx="220.2" cy="294.4" r="1.0"/><circle cx="94.7" cy="351.2" r="1.0"/><circle cx="221.5" cy="271.7" r="1.0"/><circle cx="92.4" cy="301.6" r="1.0"/><circle cx="220.1" cy="300.3" r="1.0"/><circle cx="138.4" cy="314.2" r="1.0"/><circle cx="198.1" cy="272.5" r="1.0"/><circle cx="109.1" cy="309.7" r="1.0"/><circle cx="148.8" cy="282.1" r="1.0"/><circle cx="73.1" cy="341.5" r="1.0"/><circle cx="98.7" cy="334.2" r="1.0"/><circle cx="122.0" cy="339.4" r="1.0"/><circle cx="156.9" cy="278.4" r="1.0"/><circle cx="110.3" cy="309.7" r="1.0"/><circle cx="211.2" cy="275.9" r="1.0"/><circle cx="141.3" cy="307.7" r="1.0"/><circle cx="145.2" cy="314.8" r="1.0"/><circle cx="215.7" cy="296.5" r="1.0"/><circle cx="157.5" cy="290.8" r="1.0"/><circle cx="91.0" cy="343.4" r="1.0"/><circle cx="191.7" cy="264.2" r="1.0"/><circle cx="96.0" cy="337.6" r="1.0"/><circle cx="206.7" cy="275.5" r="1.0"/><circle cx="105.9" cy="343.0" r="1.0"/><circle cx="97.0" cy="347.8" r="1.0"/><circle cx="102.3" cy="330.1" r="1.0"/><circle cx="75.2" cy="350.9" r="1.0"/><circle cx="88.4" cy="306.6" r="1.0"/><circle cx="113.6" cy="308.1" r="1.0"/><circle cx="136.7" cy="302.5" r="1.0"/><circle cx="95.2" cy="345.2" r="1.0"/><circle cx="159.2" cy="289.8" r="1.0"/><circle cx="177.1" cy="281.2" r="1.0"/><circle cx="83.5" cy="360.9" r="1.0"/><circle cx="85.2" cy="362.6" r="1.0"/><circle cx="82.6" cy="355.7" r="1.0"/><circle cx="156.6" cy="291.9" r="1.0"/><circle cx="113.2" cy="345.5" r="1.0"/><circle cx="89.1" cy="340.3" r="1.0"/><circle cx="80.2" cy="352.0" r="1.0"/><circle cx="187.9" cy="264.0" r="1.0"/><circle cx="148.5" cy="304.9" r="1.0"/><circle cx="110.6" cy="318.6" r="1.0"/><circle cx="183.9" cy="273.0" r="1.0"/><circle cx="132.2" cy="309.8" r="1.0"/><circle cx="134.0" cy="301.0" r="1.0"/><circle cx="83.2" cy="336.6" r="1.0"/><circle cx="115.4" cy="330.4" r="1.0"/><circle cx="96.4" cy="312.9" r="1.0"/><circle cx="109.7" cy="328.0" r="1.0"/><circle cx="144.6" cy="303.5" r="1.0"/><circle cx="103.0" cy="314.1" r="1.0"/><circle cx="86.1" cy="337.6" r="1.0"/><circle cx="78.8" cy="350.2" r="1.0"/><circle cx="161.5" cy="281.4" r="1.0"/><circle cx="186.6" cy="286.7" r="1.0"/><circle cx="131.7" cy="347.1" r="1.0"/><circle cx="222.2" cy="265.5" r="1.0"/><circle cx="79.2" cy="367.5" r="1.0"/><circle cx="208.1" cy="269.6" r="1.0"/><circle cx="93.7" cy="366.1" r="1.0"/><circle cx="149.2" cy="289.7" r="1.0"/><circle cx="176.3" cy="284.4" r="1.0"/><circle cx="92.7" cy="329.7" r="1.0"/><circle cx="88.4" cy="360.1" r="1.0"/><circle cx="167.7" cy="299.1" r="1.0"/><circle cx="172.7" cy="289.1" r="1.0"/><circle cx="83.8" cy="353.0" r="1.0"/><circle cx="183.4" cy="286.5" r="1.0"/><circle cx="147.6" cy="350.6" r="1.0"/><circle cx="145.3" cy="300.6" r="1.0"/><circle cx="94.9" cy="333.5" r="1.0"/><circle cx="81.7" cy="353.5" r="1.0"/><circle cx="151.0" cy="308.7" r="1.0"/><circle cx="208.3" cy="262.8" r="1.0"/><circle cx="197.1" cy="270.6" r="1.0"/><circle cx="140.8" cy="295.1" r="1.0"/><circle cx="94.0" cy="324.3" r="1.0"/><circle cx="197.2" cy="275.5" r="1.0"/><circle cx="207.3" cy="262.3" r="1.0"/><circle cx="73.0" cy="360.2" r="1.0"/><circle cx="93.9" cy="328.9" r="1.0"/><circle cx="200.0" cy="270.4" r="1.0"/><circle cx="213.3" cy="251.2" r="1.0"/><circle cx="129.1" cy="321.4" r="1.0"/><circle cx="224.3" cy="268.9" r="1.0"/><circle cx="88.0" cy="346.3" r="1.0"/><circle cx="168.4" cy="268.6" r="1.0"/><circle cx="181.9" cy="296.5" r="1.0"/><circle cx="183.8" cy="280.1" r="1.0"/><circle cx="116.0" cy="366.7" r="1.0"/><circle cx="213.4" cy="292.3" r="1.0"/><circle cx="117.8" cy="316.6" r="1.0"/><circle cx="220.9" cy="267.2" r="1.0"/><circle cx="157.2" cy="308.8" r="1.0"/><circle cx="97.9" cy="312.8" r="1.0"/><circle cx="210.3" cy="274.4" r="1.0"/><circle cx="101.7" cy="323.4" r="1.0"/><circle cx="124.5" cy="313.8" r="1.0"/><circle cx="159.1" cy="281.3" r="1.0"/><circle cx="186.4" cy="297.7" r="1.0"/><circle cx="129.8" cy="301.1" r="1.0"/><circle cx="81.9" cy="331.4" r="1.0"/><circle cx="149.0" cy="302.9" r="1.0"/><circle cx="203.7" cy="272.1" r="1.0"/><circle cx="133.3" cy="296.9" r="1.0"/><circle cx="217.5" cy="258.1" r="1.0"/><circle cx="77.4" cy="345.9" r="1.0"/><circle cx="208.6" cy="266.3" r="1.0"/><circle cx="132.0" cy="311.2" r="1.0"/><circle cx="198.0" cy="258.9" r="1.0"/><circle cx="89.1" cy="340.5" r="1.0"/><circle cx="151.9" cy="272.7" r="1.0"/><circle cx="170.9" cy="298.5" r="1.0"/><circle cx="107.9" cy="317.6" r="1.0"/><circle cx="170.6" cy="278.9" r="1.0"/><circle cx="169.2" cy="279.4" r="1.0"/><circle cx="89.5" cy="378.1" r="1.0"/><circle cx="131.5" cy="317.9" r="1.0"/><circle cx="163.9" cy="303.7" r="1.0"/><circle cx="206.8" cy="265.8" r="1.0"/><circle cx="119.2" cy="366.8" r="1.0"/><circle cx="136.3" cy="308.2" r="1.0"/><circle cx="173.9" cy="285.7" r="1.0"/><circle cx="123.9" cy="311.2" r="1.0"/><circle cx="176.3" cy="269.7" r="1.0"/><circle cx="106.2" cy="338.0" r="1.0"/><circle cx="117.3" cy="331.2" r="1.0"/><circle cx="106.4" cy="325.8" r="1.0"/><circle cx="173.6" cy="275.7" r="1.0"/><circle cx="104.9" cy="312.8" r="1.0"/><circle cx="94.1" cy="303.5" r="1.0"/><circle cx="209.0" cy="259.2" r="1.0"/><circle cx="183.9" cy="266.0" r="1.0"/><circle cx="100.7" cy="336.1" r="1.0"/><circle cx="185.9" cy="295.4" r="1.0"/><circle cx="129.3" cy="327.6" r="1.0"/><circle cx="98.2" cy="336.5" r="1.0"/><circle cx="219.1" cy="296.9" r="1.0"/><circle cx="80.0" cy="369.6" r="1.0"/><circle cx="77.8" cy="321.2" r="1.0"/><circle cx="186.1" cy="285.9" r="1.0"/><circle cx="112.4" cy="329.1" r="1.0"/><circle cx="211.8" cy="263.4" r="1.0"/><circle cx="215.9" cy="258.0" r="1.0"/><circle cx="131.3" cy="330.4" r="1.0"/><circle cx="194.5" cy="260.7" r="1.0"/><circle cx="121.1" cy="316.0" r="1.0"/><circle cx="102.5" cy="335.5" r="1.0"/><circle cx="122.0" cy="312.1" r="1.0"/><circle cx="206.8" cy="267.8" r="1.0"/><circle cx="87.2" cy="330.0" r="1.0"/><circle cx="180.4" cy="280.8" r="1.0"/><circle cx="166.8" cy="272.1" r="1.0"/><circle cx="186.2" cy="283.8" r="1.0"/><circle cx="200.3" cy="278.7" r="1.0"/><circle cx="158.7" cy="296.3" r="1.0"/><circle cx="110.1" cy="345.3" r="1.0"/><circle cx="95.8" cy="346.4" r="1.0"/><circle cx="132.7" cy="318.1" r="1.0"/><circle cx="149.6" cy="283.9" r="1.0"/><circle cx="223.1" cy="301.2" r="1.0"/><circle cx="78.6" cy="375.8" r="1.0"/><circle cx="213.9" cy="266.9" r="1.0"/><circle cx="204.2" cy="270.6" r="1.0"/><circle cx="163.1" cy="289.3" r="1.0"/><circle cx="94.0" cy="303.2" r="1.0"/><circle cx="111.2" cy="330.2" r="1.0"/><circle cx="74.2" cy="354.9" r="1.0"/><circle cx="175.6" cy="293.7" r="1.0"/><circle cx="193.4" cy="263.8" r="1.0"/><circle cx="82.1" cy="372.6" r="1.0"/><circle cx="169.7" cy="264.0" r="1.0"/><circle cx="97.4" cy="343.7" r="1.0"/><circle cx="119.3" cy="310.7" r="1.0"/><circle cx="120.0" cy="329.7" r="1.0"/><circle cx="127.8" cy="316.5" r="1.0"/><circle cx="73.4" cy="357.5" r="1.0"/><circle cx="136.9" cy="338.9" r="1.0"/><circle cx="74.8" cy="369.6" r="1.0"/><circle cx="86.0" cy="368.4" r="1.0"/><circle cx="128.9" cy="304.0" r="1.0"/><circle cx="151.7" cy="287.9" r="1.0"/><circle cx="89.0" cy="320.6" r="1.0"/><circle cx="215.8" cy="267.6" r="1.0"/><circle cx="213.3" cy="262.6" r="1.0"/><circle cx="209.9" cy="260.4" r="1.0"/><circle cx="191.9" cy="292.8" r="1.0"/><circle cx="134.0" cy="304.5" r="1.0"/><circle cx="105.7" cy="336.5" r="1.0"/><circle cx="151.2" cy="290.1" r="1.0"/><circle cx="182.7" cy="271.8" r="1.0"/><circle cx="78.7" cy="342.1" r="1.0"/><circle cx="199.9" cy="280.1" r="1.0"/><circle cx="163.6" cy="303.1" r="1.0"/><circle cx="136.4" cy="319.4" r="1.0"/><circle cx="137.2" cy="326.1" r="1.0"/><circle cx="76.1" cy="337.7" r="1.0"/><circle cx="146.9" cy="297.5" r="1.0"/><circle cx="142.2" cy="360.9" r="1.0"/><circle cx="86.4" cy="324.1" r="1.0"/><circle cx="150.0" cy="309.2" r="1.0"/><circle cx="184.0" cy="286.1" r="1.0"/><circle cx="217.0" cy="261.8" r="1.0"/><circle cx="202.8" cy="273.1" r="1.0"/><circle cx="101.9" cy="361.4" r="1.0"/><circle cx="147.3" cy="292.8" r="1.0"/><circle cx="192.3" cy="281.0" r="1.0"/><circle cx="82.5" cy="339.8" r="1.0"/><circle cx="208.8" cy="276.4" r="1.0"/><circle cx="104.2" cy="328.0" r="1.0"/><circle cx="149.4" cy="289.8" r="1.0"/><circle cx="97.0" cy="329.0" r="1.0"/><circle cx="175.8" cy="270.0" r="1.0"/><circle cx="90.0" cy="308.4" r="1.0"/><circle cx="169.2" cy="273.3" r="1.0"/><circle cx="88.4" cy="349.0" r="1.0"/><circle cx="193.7" cy="287.8" r="1.0"/><circle cx="223.1" cy="276.9" r="1.0"/><circle cx="185.5" cy="269.1" r="1.0"/><circle cx="169.7" cy="301.3" r="1.0"/><circle cx="161.6" cy="294.1" r="1.0"/><circle cx="77.6" cy="341.2" r="1.0"/><circle cx="92.6" cy="339.7" r="1.0"/><circle cx="171.8" cy="257.5" r="1.0"/><circle cx="88.7" cy="336.3" r="1.0"/><circle cx="106.6" cy="336.2" r="1.0"/><circle cx="167.3" cy="296.7" r="1.0"/><circle cx="93.0" cy="333.6" r="1.0"/><circle cx="87.1" cy="327.3" r="1.0"/><circle cx="204.9" cy="279.6" r="1.0"/><circle cx="74.2" cy="336.9" r="1.0"/><circle cx="158.0" cy="307.6" r="1.0"/><circle cx="214.9" cy="277.6" r="1.0"/><circle cx="110.3" cy="302.7" r="1.0"/><circle cx="134.2" cy="298.9" r="1.0"/><circle cx="81.4" cy="318.3" r="1.0"/><circle cx="215.5" cy="258.8" r="1.0"/><circle cx="102.8" cy="353.8" r="1.0"/><circle cx="196.1" cy="275.3" r="1.0"/><circle cx="191.5" cy="264.8" r="1.0"/><circle cx="73.5" cy="346.1" r="1.0"/><circle cx="185.2" cy="299.7" r="1.0"/><circle cx="106.8" cy="324.8" r="1.0"/><circle cx="123.5" cy="311.1" r="1.0"/><circle cx="178.2" cy="287.3" r="1.0"/><circle cx="156.7" cy="310.2" r="1.0"/><circle cx="192.3" cy="278.0" r="1.0"/><circle cx="206.3" cy="268.9" r="1.0"/><circle cx="185.6" cy="266.5" r="1.0"/><circle cx="185.9" cy="267.7" r="1.0"/><circle cx="108.9" cy="335.6" r="1.0"/><circle cx="143.9" cy="346.9" r="1.0"/><circle cx="159.2" cy="284.0" r="1.0"/><circle cx="88.7" cy="342.1" r="1.0"/><circle cx="76.9" cy="328.7" r="1.0"/><circle cx="177.8" cy="293.7" r="1.0"/><circle cx="82.5" cy="367.8" r="1.0"/><circle cx="82.5" cy="374.3" r="1.0"/><circle cx="89.5" cy="322.4" r="1.0"/><circle cx="201.4" cy="292.5" r="1.0"/><circle cx="87.7" cy="336.1" r="1.0"/><circle cx="121.0" cy="329.6" r="1.0"/><circle cx="75.7" cy="349.9" r="1.0"/><circle cx="77.2" cy="363.2" r="1.0"/><circle cx="138.8" cy="323.0" r="1.0"/><circle cx="154.3" cy="256.7" r="1.0"/><circle cx="203.6" cy="260.6" r="1.0"/><circle cx="72.7" cy="363.7" r="1.0"/><circle cx="188.4" cy="257.1" r="1.0"/><circle cx="147.2" cy="301.5" r="1.0"/><circle cx="100.5" cy="348.9" r="1.0"/><circle cx="115.6" cy="332.5" r="1.0"/><circle cx="89.2" cy="356.2" r="1.0"/><circle cx="84.8" cy="349.1" r="1.0"/><circle cx="133.5" cy="304.3" r="1.0"/><circle cx="207.5" cy="275.3" r="1.0"/><circle cx="103.8" cy="310.5" r="1.0"/><circle cx="130.2" cy="324.4" r="1.0"/><circle cx="108.0" cy="354.5" r="1.0"/><circle cx="187.0" cy="284.6" r="1.0"/><circle cx="173.1" cy="258.4" r="1.0"/><circle cx="98.3" cy="327.4" r="1.0"/><circle cx="91.7" cy="358.1" r="1.0"/><circle cx="207.0" cy="257.1" r="1.0"/><circle cx="179.4" cy="269.0" r="1.0"/><circle cx="96.0" cy="331.8" r="1.0"/><circle cx="151.9" cy="270.8" r="1.0"/><circle cx="88.0" cy="341.4" r="1.0"/><circle cx="87.9" cy="305.3" r="1.0"/><circle cx="184.0" cy="283.7" r="1.0"/><circle cx="102.3" cy="319.0" r="1.0"/><circle cx="131.5" cy="297.7" r="1.0"/><circle cx="133.2" cy="317.7" r="1.0"/><circle cx="94.1" cy="357.6" r="1.0"/><circle cx="159.7" cy="306.1" r="1.0"/><circle cx="182.3" cy="275.4" r="1.0"/><circle cx="190.2" cy="260.7" r="1.0"/><circle cx="120.1" cy="302.8" r="1.0"/><circle cx="191.4" cy="265.3" r="1.0"/><circle cx="167.0" cy="281.4" r="1.0"/><circle cx="175.1" cy="275.0" r="1.0"/><circle cx="96.9" cy="326.4" r="1.0"/><circle cx="154.7" cy="283.8" r="1.0"/><circle cx="150.4" cy="289.9" r="1.0"/><circle cx="134.9" cy="328.5" r="1.0"/><circle cx="104.4" cy="350.9" r="1.0"/><circle cx="91.1" cy="316.1" r="1.0"/><circle cx="126.5" cy="319.2" r="1.0"/><circle cx="74.5" cy="327.0" r="1.0"/><circle cx="136.4" cy="316.9" r="1.0"/><circle cx="106.6" cy="314.7" r="1.0"/><circle cx="92.2" cy="325.2" r="1.0"/><circle cx="143.8" cy="327.7" r="1.0"/><circle cx="106.8" cy="341.2" r="1.0"/><circle cx="143.7" cy="313.0" r="1.0"/><circle cx="199.2" cy="274.3" r="1.0"/><circle cx="201.8" cy="279.7" r="1.0"/><circle cx="72.9" cy="348.4" r="1.0"/><circle cx="118.4" cy="305.9" r="1.0"/><circle cx="137.6" cy="316.9" r="1.0"/><circle cx="213.7" cy="277.3" r="1.0"/><circle cx="81.2" cy="315.0" r="1.0"/><circle cx="93.8" cy="351.0" r="1.0"/><circle cx="172.2" cy="284.2" r="1.0"/><circle cx="87.9" cy="331.3" r="1.0"/><circle cx="165.0" cy="258.9" r="1.0"/><circle cx="174.1" cy="278.2" r="1.0"/><circle cx="102.5" cy="361.6" r="1.0"/><circle cx="156.9" cy="282.5" r="1.0"/><circle cx="108.1" cy="336.3" r="1.0"/><circle cx="143.5" cy="303.8" r="1.0"/><circle cx="147.2" cy="336.7" r="1.0"/><circle cx="73.5" cy="354.2" r="1.0"/><circle cx="143.6" cy="321.6" r="1.0"/><circle cx="129.5" cy="342.1" r="1.0"/><circle cx="218.5" cy="290.0" r="1.0"/><circle cx="76.8" cy="362.8" r="1.0"/><circle cx="208.9" cy="274.8" r="1.0"/><circle cx="124.0" cy="340.3" r="1.0"/><circle cx="128.2" cy="343.6" r="1.0"/><circle cx="104.5" cy="332.1" r="1.0"/><circle cx="136.7" cy="301.4" r="1.0"/><circle cx="198.3" cy="285.2" r="1.0"/><circle cx="172.0" cy="289.5" r="1.0"/><circle cx="122.8" cy="323.7" r="1.0"/><circle cx="169.0" cy="266.7" r="1.0"/><circle cx="78.6" cy="325.6" r="1.0"/><circle cx="80.1" cy="356.4" r="1.0"/><circle cx="73.4" cy="306.7" r="1.0"/><circle cx="172.5" cy="298.8" r="1.0"/><circle cx="210.8" cy="283.4" r="1.0"/><circle cx="178.4" cy="300.6" r="1.0"/><circle cx="100.1" cy="318.9" r="1.0"/><circle cx="197.5" cy="285.3" r="1.0"/><circle cx="118.4" cy="324.3" r="1.0"/><circle cx="120.9" cy="343.8" r="1.0"/><circle cx="80.8" cy="373.6" r="1.0"/><circle cx="78.5" cy="326.9" r="1.0"/><circle cx="212.1" cy="285.7" r="1.0"/><circle cx="74.6" cy="380.1" r="1.0"/><circle cx="221.6" cy="281.4" r="1.0"/><circle cx="135.2" cy="322.9" r="1.0"/><circle cx="95.6" cy="350.0" r="1.0"/><circle cx="73.2" cy="312.0" r="1.0"/><circle cx="85.9" cy="305.9" r="1.0"/><circle cx="92.1" cy="339.1" r="1.0"/><circle cx="80.1" cy="349.6" r="1.0"/><circle cx="111.1" cy="313.2" r="1.0"/><circle cx="196.7" cy="268.7" r="1.0"/><circle cx="128.4" cy="338.1" r="1.0"/><circle cx="94.5" cy="323.0" r="1.0"/><circle cx="127.7" cy="326.3" r="1.0"/><circle cx="131.1" cy="325.1" r="1.0"/><circle cx="216.1" cy="275.2" r="1.0"/><circle cx="81.7" cy="346.7" r="1.0"/><circle cx="179.4" cy="295.2" r="1.0"/><circle cx="164.0" cy="287.1" r="1.0"/><circle cx="72.8" cy="359.6" r="1.0"/><circle cx="136.7" cy="293.2" r="1.0"/><circle cx="78.9" cy="376.5" r="1.0"/><circle cx="195.9" cy="286.3" r="1.0"/><circle cx="201.9" cy="276.2" r="1.0"/><circle cx="176.6" cy="289.2" r="1.0"/><circle cx="156.7" cy="290.4" r="1.0"/><circle cx="103.0" cy="316.3" r="1.0"/><circle cx="164.7" cy="297.2" r="1.0"/><circle cx="143.2" cy="306.0" r="1.0"/><circle cx="85.8" cy="336.4" r="1.0"/><circle cx="160.6" cy="307.1" r="1.0"/><circle cx="207.0" cy="290.5" r="1.0"/><circle cx="101.3" cy="322.8" r="1.0"/><circle cx="100.0" cy="344.9" r="1.0"/><circle cx="95.1" cy="301.6" r="1.0"/><circle cx="88.6" cy="336.9" r="1.0"/><circle cx="192.2" cy="299.9" r="1.0"/><circle cx="77.6" cy="329.3" r="1.0"/><circle cx="158.7" cy="310.7" r="1.0"/><circle cx="197.0" cy="282.9" r="1.0"/><circle cx="111.1" cy="317.2" r="1.0"/><circle cx="85.2" cy="319.2" r="1.0"/><circle cx="163.4" cy="259.6" r="1.0"/><circle cx="169.9" cy="297.4" r="1.0"/><circle cx="140.6" cy="334.1" r="1.0"/><circle cx="219.3" cy="258.8" r="1.0"/><circle cx="111.4" cy="318.2" r="1.0"/><circle cx="209.7" cy="262.5" r="1.0"/><circle cx="192.0" cy="280.5" r="1.0"/><circle cx="170.8" cy="278.8" r="1.0"/><circle cx="187.3" cy="275.1" r="1.0"/><circle cx="88.5" cy="353.0" r="1.0"/><circle cx="111.6" cy="342.5" r="1.0"/><circle cx="108.7" cy="322.4" r="1.0"/><circle cx="175.5" cy="289.8" r="1.0"/><circle cx="78.0" cy="354.4" r="1.0"/><circle cx="93.7" cy="361.4" r="1.0"/><circle cx="87.2" cy="323.6" r="1.0"/><circle cx="141.3" cy="326.7" r="1.0"/><circle cx="197.6" cy="279.3" r="1.0"/><circle cx="106.2" cy="339.1" r="1.0"/><circle cx="181.0" cy="260.0" r="1.0"/><circle cx="96.2" cy="323.5" r="1.0"/><circle cx="98.0" cy="344.7" r="1.0"/><circle cx="81.1" cy="308.4" r="1.0"/><circle cx="111.7" cy="319.3" r="1.0"/><circle cx="87.3" cy="337.8" r="1.0"/><circle cx="208.7" cy="269.9" r="1.0"/><circle cx="221.3" cy="285.1" r="1.0"/><circle cx="195.2" cy="273.2" r="1.0"/><circle cx="199.0" cy="270.8" r="1.0"/><circle cx="100.7" cy="318.8" r="1.0"/><circle cx="159.3" cy="306.8" r="1.0"/><circle cx="99.9" cy="332.8" r="1.0"/><circle cx="84.5" cy="359.6" r="1.0"/><circle cx="165.0" cy="293.5" r="1.0"/><circle cx="165.6" cy="279.3" r="1.0"/><circle cx="195.9" cy="271.5" r="1.0"/><circle cx="183.9" cy="274.2" r="1.0"/><circle cx="182.2" cy="270.7" r="1.0"/><circle cx="200.5" cy="285.8" r="1.0"/><circle cx="205.0" cy="279.0" r="1.0"/><circle cx="100.8" cy="336.6" r="1.0"/><circle cx="128.9" cy="304.9" r="1.0"/><circle cx="73.2" cy="365.9" r="1.0"/><circle cx="90.9" cy="328.1" r="1.0"/><circle cx="196.6" cy="285.2" r="1.0"/><circle cx="81.8" cy="320.5" r="1.0"/><circle cx="150.5" cy="306.1" r="1.0"/><circle cx="154.2" cy="275.6" r="1.0"/><circle cx="100.2" cy="334.4" r="1.0"/><circle cx="110.6" cy="315.7" r="1.0"/><circle cx="178.7" cy="280.8" r="1.0"/><circle cx="75.2" cy="363.8" r="1.0"/><circle cx="179.3" cy="301.3" r="1.0"/><circle cx="204.7" cy="259.5" r="1.0"/><circle cx="147.5" cy="299.4" r="1.0"/><circle cx="115.0" cy="335.5" r="1.0"/><circle cx="162.5" cy="287.7" r="1.0"/><circle cx="94.9" cy="333.1" r="1.0"/><circle cx="198.1" cy="282.9" r="1.0"/><circle cx="131.6" cy="299.6" r="1.0"/><circle cx="132.6" cy="329.1" r="1.0"/><circle cx="190.6" cy="275.6" r="1.0"/><circle cx="194.8" cy="260.4" r="1.0"/><circle cx="80.6" cy="373.1" r="1.0"/><circle cx="218.1" cy="260.3" r="1.0"/><circle cx="168.7" cy="270.8" r="1.0"/><circle cx="75.7" cy="328.6" r="1.0"/><circle cx="195.5" cy="283.5" r="1.0"/><circle cx="207.0" cy="282.9" r="1.0"/><circle cx="175.6" cy="296.3" r="1.0"/><circle cx="154.9" cy="307.4" r="1.0"/><circle cx="151.6" cy="308.9" r="1.0"/><circle cx="217.0" cy="269.9" r="1.0"/><circle cx="90.8" cy="311.0" r="1.0"/><circle cx="217.8" cy="262.9" r="1.0"/><circle cx="153.6" cy="262.5" r="1.0"/><circle cx="91.3" cy="343.9" r="1.0"/><circle cx="85.9" cy="325.1" r="1.0"/><circle cx="103.1" cy="349.9" r="1.0"/><circle cx="165.6" cy="285.8" r="1.0"/><circle cx="119.7" cy="311.4" r="1.0"/><circle cx="74.3" cy="336.5" r="1.0"/><circle cx="157.1" cy="306.4" r="1.0"/><circle cx="115.8" cy="329.3" r="1.0"/><circle cx="139.4" cy="300.0" r="1.0"/><circle cx="96.0" cy="339.6" r="1.0"/><circle cx="126.1" cy="340.5" r="1.0"/><circle cx="197.3" cy="295.9" r="1.0"/><circle cx="184.8" cy="278.8" r="1.0"/><circle cx="191.8" cy="296.1" r="1.0"/><circle cx="211.5" cy="262.2" r="1.0"/><circle cx="188.9" cy="278.8" r="1.0"/><circle cx="148.2" cy="318.3" r="1.0"/><circle cx="191.6" cy="284.1" r="1.0"/><circle cx="182.4" cy="275.6" r="1.0"/><circle cx="80.7" cy="323.2" r="1.0"/><circle cx="76.9" cy="343.3" r="1.0"/><circle cx="111.0" cy="311.6" r="1.0"/><circle cx="103.9" cy="332.3" r="1.0"/><circle cx="142.9" cy="308.5" r="1.0"/><circle cx="122.8" cy="319.9" r="1.0"/><circle cx="77.2" cy="353.7" r="1.0"/><circle cx="125.0" cy="342.6" r="1.0"/><circle cx="72.5" cy="349.0" r="1.0"/><circle cx="90.6" cy="321.9" r="1.0"/><circle cx="63.3" cy="307.7" r="1.0"/><circle cx="101.0" cy="330.9" r="1.0"/><circle cx="78.5" cy="325.8" r="1.0"/><circle cx="68.6" cy="336.8" r="1.0"/><circle cx="92.3" cy="311.5" r="1.0"/><circle cx="139.0" cy="354.5" r="1.0"/><circle cx="197.5" cy="275.4" r="1.0"/><circle cx="135.5" cy="293.6" r="1.0"/><circle cx="93.6" cy="334.5" r="1.0"/><circle cx="82.8" cy="362.2" r="1.0"/><circle cx="172.1" cy="290.0" r="1.0"/><circle cx="61.3" cy="331.9" r="1.0"/><circle cx="116.9" cy="321.8" r="1.0"/><circle cx="145.7" cy="327.8" r="1.0"/><circle cx="167.8" cy="290.5" r="1.0"/><circle cx="134.1" cy="300.8" r="1.0"/><circle cx="131.8" cy="298.4" r="1.0"/><circle cx="48.1" cy="366.3" r="1.0"/><circle cx="122.8" cy="331.4" r="1.0"/><circle cx="122.4" cy="336.3" r="1.0"/><circle cx="104.0" cy="305.9" r="1.0"/><circle cx="93.9" cy="313.6" r="1.0"/><circle cx="193.4" cy="259.1" r="1.0"/><circle cx="157.7" cy="302.0" r="1.0"/><circle cx="118.1" cy="312.5" r="1.0"/><circle cx="138.3" cy="322.7" r="1.0"/><circle cx="131.1" cy="329.0" r="1.0"/><circle cx="161.2" cy="300.4" r="1.0"/><circle cx="51.0" cy="350.9" r="1.0"/><circle cx="149.1" cy="304.3" r="1.0"/><circle cx="153.3" cy="280.3" r="1.0"/><circle cx="106.6" cy="316.6" r="1.0"/><circle cx="134.3" cy="346.6" r="1.0"/><circle cx="172.9" cy="279.8" r="1.0"/><circle cx="50.3" cy="344.3" r="1.0"/><circle cx="98.9" cy="327.1" r="1.0"/><circle cx="98.8" cy="318.2" r="1.0"/><circle cx="70.7" cy="351.7" r="1.0"/><circle cx="123.2" cy="338.1" r="1.0"/><circle cx="88.2" cy="344.8" r="1.0"/><circle cx="138.4" cy="300.1" r="1.0"/><circle cx="84.8" cy="346.9" r="1.0"/><circle cx="114.0" cy="313.7" r="1.0"/><circle cx="121.0" cy="306.0" r="1.0"/><circle cx="110.3" cy="301.6" r="1.0"/><circle cx="130.4" cy="357.7" r="1.0"/><circle cx="94.1" cy="363.2" r="1.0"/><circle cx="70.6" cy="330.1" r="1.0"/><circle cx="101.5" cy="349.5" r="1.0"/><circle cx="128.6" cy="309.8" r="1.0"/><circle cx="149.9" cy="295.8" r="1.0"/><circle cx="149.2" cy="262.3" r="1.0"/><circle cx="112.0" cy="339.6" r="1.0"/><circle cx="104.0" cy="365.5" r="1.0"/><circle cx="190.0" cy="265.3" r="1.0"/><circle cx="145.3" cy="293.4" r="1.0"/><circle cx="124.8" cy="330.1" r="1.0"/><circle cx="118.1" cy="328.7" r="1.0"/><circle cx="68.6" cy="325.4" r="1.0"/><circle cx="114.9" cy="311.6" r="1.0"/><circle cx="40.2" cy="341.3" r="1.0"/><circle cx="113.0" cy="364.2" r="1.0"/><circle cx="106.0" cy="324.2" r="1.0"/><circle cx="77.1" cy="331.7" r="1.0"/><circle cx="90.4" cy="344.8" r="1.0"/><circle cx="110.5" cy="312.5" r="1.0"/><circle cx="104.7" cy="356.0" r="1.0"/><circle cx="77.1" cy="345.7" r="1.0"/><circle cx="99.0" cy="315.3" r="1.0"/><circle cx="148.8" cy="278.8" r="1.0"/><circle cx="137.2" cy="333.8" r="1.0"/><circle cx="55.2" cy="347.0" r="1.0"/><circle cx="141.7" cy="293.2" r="1.0"/><circle cx="121.7" cy="301.9" r="1.0"/><circle cx="143.6" cy="291.3" r="1.0"/><circle cx="103.1" cy="307.5" r="1.0"/><circle cx="170.3" cy="270.7" r="1.0"/><circle cx="101.3" cy="333.3" r="1.0"/><circle cx="95.5" cy="326.7" r="1.0"/><circle cx="203.3" cy="266.5" r="1.0"/><circle cx="56.3" cy="393.2" r="1.0"/><circle cx="182.7" cy="274.6" r="1.0"/><circle cx="111.1" cy="309.6" r="1.0"/><circle cx="133.5" cy="351.3" r="1.0"/><circle cx="106.9" cy="313.2" r="1.0"/><circle cx="102.6" cy="309.0" r="1.0"/><circle cx="165.6" cy="283.9" r="1.0"/><circle cx="143.3" cy="336.1" r="1.0"/><circle cx="159.8" cy="303.5" r="1.0"/><circle cx="157.7" cy="284.0" r="1.0"/><circle cx="117.6" cy="321.2" r="1.0"/><circle cx="87.7" cy="327.5" r="1.0"/><circle cx="82.3" cy="376.4" r="1.0"/><circle cx="85.7" cy="354.3" r="1.0"/><circle cx="147.0" cy="292.2" r="1.0"/><circle cx="199.9" cy="279.9" r="1.0"/><circle cx="214.0" cy="272.0" r="1.0"/><circle cx="123.1" cy="323.6" r="1.0"/><circle cx="93.4" cy="345.6" r="1.0"/><circle cx="159.7" cy="302.2" r="1.0"/><circle cx="107.5" cy="306.0" r="1.0"/><circle cx="142.3" cy="302.5" r="1.0"/><circle cx="102.9" cy="325.1" r="1.0"/><circle cx="83.3" cy="318.4" r="1.0"/><circle cx="69.9" cy="352.9" r="1.0"/><circle cx="136.2" cy="299.3" r="1.0"/><circle cx="100.4" cy="332.9" r="1.0"/><circle cx="117.7" cy="309.5" r="1.0"/><circle cx="67.6" cy="353.8" r="1.0"/><circle cx="105.7" cy="321.8" r="1.0"/><circle cx="118.9" cy="329.8" r="1.0"/><circle cx="115.0" cy="331.3" r="1.0"/><circle cx="100.0" cy="321.3" r="1.0"/><circle cx="57.5" cy="384.6" r="1.0"/><circle cx="120.2" cy="333.2" r="1.0"/><circle cx="113.5" cy="319.1" r="1.0"/><circle cx="46.9" cy="340.1" r="1.0"/><circle cx="134.0" cy="319.7" r="1.0"/><circle cx="83.0" cy="308.0" r="1.0"/><circle cx="127.0" cy="324.2" r="1.0"/><circle cx="110.7" cy="377.8" r="1.0"/><circle cx="167.9" cy="273.5" r="1.0"/><circle cx="52.8" cy="382.0" r="1.0"/><circle cx="101.8" cy="339.5" r="1.0"/><circle cx="88.5" cy="342.8" r="1.0"/><circle cx="102.6" cy="319.9" r="1.0"/><circle cx="61.7" cy="360.6" r="1.0"/><circle cx="124.1" cy="316.9" r="1.0"/><circle cx="121.3" cy="328.8" r="1.0"/><circle cx="142.0" cy="335.9" r="1.0"/><circle cx="96.1" cy="330.2" r="1.0"/><circle cx="57.6" cy="326.6" r="1.0"/><circle cx="84.8" cy="349.1" r="1.0"/><circle cx="168.1" cy="288.7" r="1.0"/><circle cx="159.9" cy="291.5" r="1.0"/><circle cx="138.6" cy="303.7" r="1.0"/><circle cx="113.8" cy="304.1" r="1.0"/><circle cx="232.2" cy="289.3" r="1.0"/><circle cx="57.5" cy="369.1" r="1.0"/><circle cx="126.3" cy="345.7" r="1.0"/><circle cx="98.0" cy="317.3" r="1.0"/><circle cx="64.2" cy="352.7" r="1.0"/><circle cx="81.3" cy="355.2" r="1.0"/><circle cx="100.6" cy="312.7" r="1.0"/><circle cx="82.0" cy="335.5" r="1.0"/><circle cx="194.9" cy="272.0" r="1.0"/><circle cx="71.7" cy="336.8" r="1.0"/><circle cx="125.0" cy="308.0" r="1.0"/><circle cx="150.1" cy="308.2" r="1.0"/><circle cx="104.7" cy="336.3" r="1.0"/><circle cx="124.2" cy="339.0" r="1.0"/></g><g fill="#f08c30" stroke="#cf7426" stroke-width="0.45"><circle cx="186.0" cy="253.6" r="1.0"/><circle cx="196.7" cy="250.0" r="1.0"/><circle cx="187.7" cy="252.2" r="1.0"/><circle cx="186.1" cy="245.6" r="1.0"/><circle cx="188.5" cy="251.1" r="1.0"/><circle cx="189.5" cy="249.7" r="1.0"/><circle cx="188.9" cy="256.0" r="1.0"/><circle cx="197.4" cy="254.1" r="1.0"/><circle cx="203.8" cy="244.6" r="1.0"/><circle cx="180.7" cy="255.9" r="1.0"/><circle cx="183.4" cy="253.1" r="1.0"/><circle cx="209.0" cy="248.4" r="1.0"/><circle cx="187.7" cy="256.5" r="1.0"/><circle cx="182.9" cy="254.9" r="1.0"/><circle cx="207.5" cy="249.6" r="1.0"/><circle cx="196.7" cy="254.4" r="1.0"/><circle cx="185.0" cy="254.6" r="1.0"/><circle cx="187.1" cy="256.6" r="1.0"/><circle cx="205.3" cy="237.6" r="1.0"/><circle cx="185.6" cy="256.5" r="1.0"/><circle cx="178.4" cy="255.3" r="1.0"/><circle cx="180.2" cy="256.3" r="1.0"/><circle cx="195.7" cy="251.8" r="1.0"/><circle cx="197.5" cy="256.3" r="1.0"/><circle cx="196.9" cy="254.1" r="1.0"/><circle cx="181.2" cy="253.7" r="1.0"/><circle cx="176.5" cy="253.6" r="1.0"/><circle cx="186.5" cy="255.3" r="1.0"/><circle cx="191.7" cy="252.5" r="1.0"/><circle cx="183.4" cy="251.8" r="1.0"/><circle cx="193.8" cy="251.7" r="1.0"/><circle cx="182.5" cy="243.9" r="1.0"/><circle cx="183.4" cy="254.2" r="1.0"/><circle cx="194.9" cy="247.2" r="1.0"/><circle cx="193.2" cy="254.5" r="1.0"/><circle cx="193.3" cy="253.1" r="1.0"/><circle cx="193.8" cy="241.4" r="1.0"/><circle cx="181.5" cy="255.8" r="1.0"/><circle cx="192.4" cy="256.6" r="1.0"/><circle cx="187.3" cy="256.2" r="1.0"/><circle cx="204.7" cy="249.9" r="1.0"/><circle cx="197.2" cy="256.0" r="1.0"/><circle cx="202.3" cy="253.5" r="1.0"/><circle cx="188.2" cy="256.0" r="1.0"/><circle cx="190.2" cy="256.1" r="1.0"/><circle cx="166.6" cy="256.6" r="1.0"/><circle cx="193.7" cy="243.1" r="1.0"/><circle cx="183.8" cy="254.3" r="1.0"/><circle cx="185.3" cy="251.2" r="1.0"/><circle cx="184.3" cy="254.6" r="1.0"/><circle cx="181.2" cy="256.3" r="1.0"/><circle cx="214.2" cy="242.6" r="1.0"/><circle cx="207.2" cy="249.4" r="1.0"/><circle cx="198.8" cy="249.5" r="1.0"/><circle cx="205.9" cy="250.2" r="1.0"/><circle cx="197.6" cy="248.2" r="1.0"/><circle cx="207.3" cy="250.3" r="1.0"/><circle cx="186.8" cy="255.7" r="1.0"/><circle cx="191.3" cy="255.8" r="1.0"/><circle cx="204.3" cy="252.1" r="1.0"/><circle cx="193.1" cy="255.5" r="1.0"/><circle cx="175.9" cy="239.3" r="1.0"/><circle cx="195.3" cy="256.1" r="1.0"/><circle cx="206.7" cy="244.8" r="1.0"/><circle cx="198.3" cy="251.7" r="1.0"/><circle cx="185.6" cy="250.8" r="1.0"/><circle cx="190.1" cy="254.4" r="1.0"/><circle cx="202.2" cy="246.7" r="1.0"/><circle cx="201.3" cy="251.6" r="1.0"/><circle cx="206.9" cy="249.3" r="1.0"/><circle cx="171.5" cy="255.9" r="1.0"/><circle cx="180.9" cy="249.4" r="1.0"/><circle cx="186.7" cy="234.3" r="1.0"/><circle cx="213.4" cy="246.3" r="1.0"/><circle cx="213.5" cy="229.9" r="1.0"/><circle cx="183.3" cy="249.5" r="1.0"/><circle cx="173.4" cy="230.3" r="1.0"/><circle cx="168.0" cy="231.6" r="1.0"/><circle cx="175.5" cy="235.1" r="1.0"/></g><g fill="#6cc45e" stroke="#3a8a36" stroke-width="0.45"><circle cx="145.8" cy="286.2" r="1.0"/><circle cx="125.9" cy="298.4" r="1.0"/><circle cx="139.9" cy="276.2" r="1.0"/><circle cx="123.8" cy="287.8" r="1.0"/><circle cx="73.7" cy="301.2" r="1.0"/><circle cx="142.7" cy="280.0" r="1.0"/><circle cx="125.5" cy="299.0" r="1.0"/><circle cx="134.4" cy="292.5" r="1.0"/><circle cx="137.0" cy="291.8" r="1.0"/><circle cx="147.4" cy="259.1" r="1.0"/><circle cx="140.5" cy="278.2" r="1.0"/><circle cx="145.3" cy="283.7" r="1.0"/><circle cx="145.0" cy="284.5" r="1.0"/><circle cx="144.0" cy="281.6" r="1.0"/><circle cx="144.7" cy="280.2" r="1.0"/><circle cx="134.5" cy="293.2" r="1.0"/><circle cx="139.5" cy="287.0" r="1.0"/><circle cx="100.1" cy="298.9" r="1.0"/><circle cx="143.1" cy="268.9" r="1.0"/><circle cx="106.9" cy="293.7" r="1.0"/><circle cx="141.7" cy="288.6" r="1.0"/><circle cx="141.9" cy="289.2" r="1.0"/><circle cx="146.9" cy="282.5" r="1.0"/><circle cx="137.8" cy="287.3" r="1.0"/><circle cx="139.2" cy="291.1" r="1.0"/><circle cx="125.6" cy="293.0" r="1.0"/><circle cx="132.8" cy="290.3" r="1.0"/><circle cx="125.5" cy="275.8" r="1.0"/><circle cx="108.4" cy="294.0" r="1.0"/><circle cx="138.1" cy="289.6" r="1.0"/><circle cx="137.4" cy="271.2" r="1.0"/><circle cx="138.4" cy="288.8" r="1.0"/><circle cx="137.7" cy="291.2" r="1.0"/><circle cx="130.0" cy="281.5" r="1.0"/><circle cx="142.2" cy="284.0" r="1.0"/><circle cx="138.8" cy="289.8" r="1.0"/><circle cx="143.5" cy="287.9" r="1.0"/><circle cx="112.6" cy="292.4" r="1.0"/><circle cx="102.3" cy="301.1" r="1.0"/><circle cx="125.2" cy="297.1" r="1.0"/><circle cx="128.0" cy="293.1" r="1.0"/><circle cx="140.5" cy="269.7" r="1.0"/><circle cx="147.7" cy="278.2" r="1.0"/><circle cx="111.2" cy="297.2" r="1.0"/><circle cx="130.7" cy="265.7" r="1.0"/><circle cx="142.7" cy="283.4" r="1.0"/><circle cx="121.9" cy="298.6" r="1.0"/><circle cx="124.1" cy="297.2" r="1.0"/><circle cx="133.5" cy="289.0" r="1.0"/><circle cx="126.3" cy="296.5" r="1.0"/><circle cx="128.9" cy="292.7" r="1.0"/><circle cx="142.9" cy="283.5" r="1.0"/><circle cx="141.9" cy="275.7" r="1.0"/><circle cx="135.6" cy="285.9" r="1.0"/><circle cx="133.7" cy="290.6" r="1.0"/><circle cx="143.0" cy="288.1" r="1.0"/><circle cx="97.9" cy="297.0" r="1.0"/><circle cx="133.6" cy="290.1" r="1.0"/><circle cx="115.8" cy="299.8" r="1.0"/><circle cx="144.1" cy="278.2" r="1.0"/><circle cx="136.0" cy="287.1" r="1.0"/><circle cx="114.4" cy="288.3" r="1.0"/><circle cx="109.3" cy="301.1" r="1.0"/><circle cx="138.6" cy="281.1" r="1.0"/><circle cx="115.4" cy="300.6" r="1.0"/><circle cx="144.6" cy="286.3" r="1.0"/><circle cx="145.7" cy="284.8" r="1.0"/><circle cx="116.9" cy="297.1" r="1.0"/><circle cx="136.3" cy="292.4" r="1.0"/><circle cx="138.2" cy="258.1" r="1.0"/><circle cx="125.2" cy="296.0" r="1.0"/><circle cx="135.4" cy="284.1" r="1.0"/><circle cx="120.7" cy="300.4" r="1.0"/><circle cx="126.1" cy="296.2" r="1.0"/><circle cx="133.8" cy="292.8" r="1.0"/><circle cx="138.9" cy="288.9" r="1.0"/><circle cx="138.6" cy="291.4" r="1.0"/><circle cx="143.5" cy="283.7" r="1.0"/><circle cx="146.6" cy="285.7" r="1.0"/><circle cx="123.7" cy="298.4" r="1.0"/><circle cx="140.3" cy="288.9" r="1.0"/><circle cx="113.6" cy="300.8" r="1.0"/><circle cx="128.5" cy="286.1" r="1.0"/><circle cx="143.5" cy="285.5" r="1.0"/><circle cx="117.9" cy="295.8" r="1.0"/><circle cx="138.9" cy="291.1" r="1.0"/><circle cx="136.6" cy="290.0" r="1.0"/><circle cx="124.1" cy="298.1" r="1.0"/><circle cx="137.8" cy="285.9" r="1.0"/><circle cx="116.1" cy="298.8" r="1.0"/><circle cx="138.5" cy="286.6" r="1.0"/><circle cx="98.6" cy="300.1" r="1.0"/><circle cx="80.2" cy="294.1" r="1.0"/><circle cx="138.9" cy="285.0" r="1.0"/><circle cx="140.1" cy="290.2" r="1.0"/></g><g fill="#8e44b4" stroke="#5a2a80" stroke-width="0.45"><circle cx="171.0" cy="307.4" r="1.0"/><circle cx="157.2" cy="315.3" r="1.0"/><circle cx="189.3" cy="301.5" r="1.0"/><circle cx="157.2" cy="316.3" r="1.0"/><circle cx="155.7" cy="321.7" r="1.0"/><circle cx="174.1" cy="304.6" r="1.0"/><circle cx="175.3" cy="304.7" r="1.0"/><circle cx="168.7" cy="311.8" r="1.0"/><circle cx="167.3" cy="311.5" r="1.0"/><circle cx="172.8" cy="306.7" r="1.0"/><circle cx="173.4" cy="303.0" r="1.0"/><circle cx="192.9" cy="301.9" r="1.0"/><circle cx="182.3" cy="301.8" r="1.0"/><circle cx="170.9" cy="304.1" r="1.0"/><circle cx="152.9" cy="320.0" r="1.0"/><circle cx="166.7" cy="306.5" r="1.0"/><circle cx="155.3" cy="318.8" r="1.0"/><circle cx="154.8" cy="344.1" r="1.0"/><circle cx="179.5" cy="309.7" r="1.0"/><circle cx="175.9" cy="303.4" r="1.0"/><circle cx="165.0" cy="310.9" r="1.0"/><circle cx="211.5" cy="302.9" r="1.0"/><circle cx="172.1" cy="304.6" r="1.0"/><circle cx="166.5" cy="316.0" r="1.0"/><circle cx="180.2" cy="305.3" r="1.0"/><circle cx="156.3" cy="312.7" r="1.0"/><circle cx="169.6" cy="306.4" r="1.0"/><circle cx="187.0" cy="310.9" r="1.0"/><circle cx="152.3" cy="316.2" r="1.0"/><circle cx="171.9" cy="307.0" r="1.0"/><circle cx="174.8" cy="303.8" r="1.0"/><circle cx="155.1" cy="317.4" r="1.0"/><circle cx="174.1" cy="304.2" r="1.0"/><circle cx="173.4" cy="314.7" r="1.0"/><circle cx="161.9" cy="313.1" r="1.0"/><circle cx="181.8" cy="305.1" r="1.0"/><circle cx="174.3" cy="304.4" r="1.0"/><circle cx="159.4" cy="312.1" r="1.0"/><circle cx="165.7" cy="314.7" r="1.0"/><circle cx="165.0" cy="315.3" r="1.0"/><circle cx="191.4" cy="305.8" r="1.0"/><circle cx="179.5" cy="311.7" r="1.0"/><circle cx="184.2" cy="306.4" r="1.0"/><circle cx="175.7" cy="301.6" r="1.0"/><circle cx="174.0" cy="306.5" r="1.0"/><circle cx="166.5" cy="307.4" r="1.0"/><circle cx="186.0" cy="309.3" r="1.0"/><circle cx="162.3" cy="312.3" r="1.0"/><circle cx="161.1" cy="311.3" r="1.0"/><circle cx="152.3" cy="315.9" r="1.0"/><circle cx="174.6" cy="313.9" r="1.0"/><circle cx="164.0" cy="309.0" r="1.0"/><circle cx="175.5" cy="308.9" r="1.0"/><circle cx="174.2" cy="316.7" r="1.0"/><circle cx="153.3" cy="315.6" r="1.0"/><circle cx="180.8" cy="313.0" r="1.0"/><circle cx="167.4" cy="306.1" r="1.0"/><circle cx="163.2" cy="314.2" r="1.0"/><circle cx="195.7" cy="303.1" r="1.0"/><circle cx="177.3" cy="302.7" r="1.0"/><circle cx="160.1" cy="314.2" r="1.0"/><circle cx="164.6" cy="308.3" r="1.0"/><circle cx="180.8" cy="310.4" r="1.0"/><circle cx="164.2" cy="308.6" r="1.0"/><circle cx="182.2" cy="303.8" r="1.0"/><circle cx="156.3" cy="313.7" r="1.0"/><circle cx="183.9" cy="305.2" r="1.0"/><circle cx="183.3" cy="307.8" r="1.0"/><circle cx="179.0" cy="304.1" r="1.0"/><circle cx="167.6" cy="314.4" r="1.0"/><circle cx="164.5" cy="308.2" r="1.0"/><circle cx="210.9" cy="315.1" r="1.0"/><circle cx="149.4" cy="320.1" r="1.0"/><circle cx="167.3" cy="312.7" r="1.0"/><circle cx="182.8" cy="304.7" r="1.0"/><circle cx="176.0" cy="304.6" r="1.0"/><circle cx="168.0" cy="315.4" r="1.0"/><circle cx="156.6" cy="312.7" r="1.0"/><circle cx="160.7" cy="310.6" r="1.0"/><circle cx="166.7" cy="315.5" r="1.0"/><circle cx="199.2" cy="302.6" r="1.0"/><circle cx="173.7" cy="306.7" r="1.0"/><circle cx="168.9" cy="321.8" r="1.0"/><circle cx="152.2" cy="320.1" r="1.0"/><circle cx="197.8" cy="301.6" r="1.0"/><circle cx="163.1" cy="309.8" r="1.0"/><circle cx="183.5" cy="308.0" r="1.0"/><circle cx="181.0" cy="303.1" r="1.0"/><circle cx="192.3" cy="301.7" r="1.0"/><circle cx="164.8" cy="311.3" r="1.0"/></g><circle cx="214.6" cy="206" r="1.1" fill="#ee8a2a" stroke="#555" stroke-width="0.3"/><circle cx="199.2" cy="224.6" r="1.1" fill="#ee8a2a" stroke="#555" stroke-width="0.3"/><circle cx="209.7" cy="226.6" r="1.1" fill="#ee8a2a" stroke="#555" stroke-width="0.3"/><circle cx="159" cy="221" r="1.1" fill="#ee8a2a" stroke="#555" stroke-width="0.3"/><line x1="37.50" y1="350.99" x2="273.00" y2="212.48" stroke="#222" stroke-width="1.45" stroke-dasharray="0.1 3.9" stroke-linecap="round"/><line x1="37.50" y1="382.28" x2="273.00" y2="243.77" stroke="#222" stroke-width="1.45" stroke-dasharray="0.1 3.9" stroke-linecap="round"/><line x1="37.50" y1="256.65" x2="273.00" y2="256.65" stroke="#222" stroke-width="1.45" stroke-dasharray="0.1 3.9" stroke-linecap="round"/><line x1="37.50" y1="301.35" x2="273.00" y2="301.35" stroke="#222" stroke-width="1.45" stroke-dasharray="0.1 3.9" stroke-linecap="round"/><line x1="148.50" y1="177.00" x2="148.50" y2="396.80" stroke="#222" stroke-width="1.45" stroke-dasharray="0.1 3.9" stroke-linecap="round"/><line x1="224.50" y1="177.00" x2="224.50" y2="396.80" stroke="#222" stroke-width="1.45" stroke-dasharray="0.1 3.9" stroke-linecap="round"/><text x="186.50" y="179.62" font-size="4.5" fill="#e35a5a" font-weight="normal" text-anchor="start" >74</text><text x="252.00" y="190.62" font-size="4.5" fill="#555" font-weight="normal" text-anchor="start" >PTEN</text><text x="213.80" y="203.92" font-size="4.5" fill="#3568ae" font-weight="normal" text-anchor="start" stroke="#3568ae" stroke-width="0.08">RB1</text><text x="153.50" y="219.62" font-size="4.5" fill="#3568ae" font-weight="normal" text-anchor="start" stroke="#3568ae" stroke-width="0.08">AMBRA1</text><text x="189.20" y="222.12" font-size="4.5" fill="#3568ae" font-weight="normal" text-anchor="start" stroke="#3568ae" stroke-width="0.08">EP300</text><text x="217.00" y="220.62" font-size="4.5" fill="#3568ae" font-weight="normal" text-anchor="start" stroke="#3568ae" stroke-width="0.08">DPF2</text><text x="216.00" y="228.62" font-size="4.5" fill="#3568ae" font-weight="normal" text-anchor="start" stroke="#3568ae" stroke-width="0.08">ZBTB5</text><text x="200.80" y="232.82" font-size="4.5" fill="#3568ae" font-weight="normal" text-anchor="start" stroke="#3568ae" stroke-width="0.08">TP53</text><text x="41.80" y="279.02" font-size="4.5" fill="#e35a5a" font-weight="normal" text-anchor="start" >95</text><text x="266.50" y="279.12" font-size="4.5" fill="#e35a5a" font-weight="normal" text-anchor="start" >0</text><text x="82.90" y="285.92" font-size="4.5" fill="#3568ae" font-weight="normal" text-anchor="start" stroke="#3568ae" stroke-width="0.08">SREBF1</text><text x="58.70" y="293.62" font-size="4.5" fill="#3568ae" font-weight="normal" text-anchor="start" stroke="#3568ae" stroke-width="0.08">DTYMK</text><text x="77.10" y="293.62" font-size="4.5" fill="#3568ae" font-weight="normal" text-anchor="start" stroke="#3568ae" stroke-width="0.08">WBSCR16</text><text x="78.50" y="302.82" font-size="4.5" fill="#3568ae" font-weight="normal" text-anchor="start" stroke="#3568ae" stroke-width="0.08">ERGF3</text><text x="96.00" y="301.22" font-size="4.5" fill="#3568ae" font-weight="normal" text-anchor="start" stroke="#3568ae" stroke-width="0.08">ARID1A TSC2</text><text x="81.20" y="310.12" font-size="4.5" fill="#444" font-weight="normal" text-anchor="start" stroke="#444" stroke-width="0.18">MCM5</text><text x="100.00" y="313.12" font-size="4.5" fill="#0a0a0a" font-weight="normal" text-anchor="start" stroke="#0a0a0a" stroke-width="0.18">CCND1</text><text x="119.20" y="308.62" font-size="4.5" fill="#0a0a0a" font-weight="normal" text-anchor="start" stroke="#0a0a0a" stroke-width="0.18">CCNA2</text><text x="119.20" y="315.12" font-size="4.5" fill="#0a0a0a" font-weight="normal" text-anchor="start" stroke="#0a0a0a" stroke-width="0.18">AURKB</text><text x="93.00" y="323.95" font-size="6.8" fill="#111" font-weight="bold" text-anchor="start" stroke="#111" stroke-width="0.18">CDK7</text><text x="112.30" y="321.62" font-size="4.5" fill="#0a0a0a" font-weight="normal" text-anchor="start" stroke="#0a0a0a" stroke-width="0.18">AURKA</text><text x="120.00" y="329.32" font-size="4.5" fill="#0a0a0a" font-weight="normal" text-anchor="start" stroke="#0a0a0a" stroke-width="0.18">CDK9</text><text x="85.40" y="330.62" font-size="4.5" fill="#333" font-weight="normal" text-anchor="start" stroke="#333" stroke-width="0.18">RRM2</text><text x="84.60" y="337.62" font-size="4.5" fill="#0a0a0a" font-weight="normal" text-anchor="start" stroke="#0a0a0a" stroke-width="0.18">PIK3CA</text><text x="106.00" y="338.22" font-size="4.5" fill="#0a0a0a" font-weight="normal" text-anchor="start" stroke="#0a0a0a" stroke-width="0.18">CDK4</text><text x="89.20" y="344.42" font-size="4.5" fill="#0a0a0a" font-weight="normal" text-anchor="start" stroke="#0a0a0a" stroke-width="0.18">CDK12</text><text x="121.50" y="345.02" font-size="4.5" fill="#333" font-weight="normal" text-anchor="start" stroke="#333" stroke-width="0.18">CDK2</text><text x="103.00" y="353.92" font-size="4.5" fill="#333" font-weight="normal" text-anchor="start" stroke="#333" stroke-width="0.18">CDK1</text><text x="140.00" y="305.82" font-size="4.5" fill="#0a0a0a" font-weight="normal" text-anchor="start" stroke="#0a0a0a" stroke-width="0.18">MYC</text><text x="137.00" y="313.12" font-size="4.5" fill="#0a0a0a" font-weight="normal" text-anchor="start" stroke="#0a0a0a" stroke-width="0.18">AKT1</text><text x="139.20" y="319.62" font-size="4.5" fill="#0a0a0a" font-weight="normal" text-anchor="start" stroke="#0a0a0a" stroke-width="0.18">RBMX</text><text x="135.40" y="333.12" font-size="4.5" fill="#333" font-weight="normal" text-anchor="start" stroke="#333" stroke-width="0.18">ESR1</text><text x="180.80" y="315.42" font-size="4.5" fill="#3568ae" font-weight="normal" text-anchor="start" stroke="#3568ae" stroke-width="0.08">MORC2</text><text x="164.60" y="321.62" font-size="4.5" fill="#3568ae" font-weight="normal" text-anchor="start" stroke="#3568ae" stroke-width="0.08">CDK6</text><text x="179.20" y="326.22" font-size="4.5" fill="#3568ae" font-weight="normal" text-anchor="start" stroke="#3568ae" stroke-width="0.08">CCNE1</text><text x="165.40" y="332.42" font-size="4.5" fill="#3568ae" font-weight="normal" text-anchor="start" stroke="#3568ae" stroke-width="0.08">KDM5C</text><text x="153.00" y="339.32" font-size="4.5" fill="#3568ae" font-weight="normal" text-anchor="start" stroke="#3568ae" stroke-width="0.08">CCNF</text><text x="169.20" y="343.62" font-size="4.5" fill="#3568ae" font-weight="normal" text-anchor="start" stroke="#3568ae" stroke-width="0.08">NDUFAB1</text><text x="184.60" y="337.02" font-size="4.5" fill="#3568ae" font-weight="normal" text-anchor="start" stroke="#3568ae" stroke-width="0.08">FAM122A</text><text x="197.90" y="308.92" font-size="4.5" fill="#3568ae" font-weight="normal" text-anchor="start" stroke="#3568ae" stroke-width="0.08">CUL3</text><text x="186.00" y="301.62" font-size="4.5" fill="#2a4a8a" font-weight="normal" text-anchor="start" >PCNA</text><text x="143.00" y="325.42" font-size="4.5" fill="#3568ae" font-weight="normal" text-anchor="start" stroke="#3568ae" stroke-width="0.08">UBE2I</text><text x="186.50" y="394.42" font-size="4.5" fill="#e35a5a" font-weight="normal" text-anchor="start" >148</text><text x="177.70" y="268.62" font-size="4.5" fill="#9a9a9a" font-weight="normal" text-anchor="start" >ATXN7</text><text x="172.00" y="275.22" font-size="4.5" fill="#9a9a9a" font-weight="normal" text-anchor="start" >SMARCA4</text><text x="185.00" y="277.62" font-size="4.5" fill="#9a9a9a" font-weight="normal" text-anchor="start" >SAFB2</text><text x="200.00" y="273.62" font-size="4.5" fill="#9a9a9a" font-weight="normal" text-anchor="start" >SMARCE1</text><text x="203.00" y="264.62" font-size="4.5" fill="#9a9a9a" font-weight="normal" text-anchor="start" >CCND3</text><text x="195.00" y="285.62" font-size="4.5" fill="#9a9a9a" font-weight="normal" text-anchor="start" >TIMP3</text><line x1="36.50" y1="175.00" x2="36.50" y2="397.80" stroke="#1a1a1a" stroke-width="1.0" /><line x1="36.50" y1="397.80" x2="273.00" y2="397.80" stroke="#333" stroke-width="1.0" /><line x1="34.50" y1="223.12" x2="36.50" y2="223.12" stroke="#333" stroke-width="0.8" /><text x="34.10" y="225.43" font-size="6.4" fill="#4a4a4a" font-weight="normal" text-anchor="end" >2.5</text><line x1="34.50" y1="279.00" x2="36.50" y2="279.00" stroke="#333" stroke-width="0.8" /><text x="34.10" y="281.30" font-size="6.4" fill="#4a4a4a" font-weight="normal" text-anchor="end" >0.0</text><line x1="34.50" y1="334.88" x2="36.50" y2="334.88" stroke="#333" stroke-width="0.8" /><text x="34.10" y="337.18" font-size="6.4" fill="#4a4a4a" font-weight="normal" text-anchor="end" >−2.5</text><line x1="34.50" y1="390.75" x2="36.50" y2="390.75" stroke="#333" stroke-width="0.8" /><text x="34.10" y="393.05" font-size="6.4" fill="#4a4a4a" font-weight="normal" text-anchor="end" >−5.0</text><line x1="110.50" y1="397.80" x2="110.50" y2="399.80" stroke="#333" stroke-width="0.8" /><text x="111.50" y="406.20" font-size="6.4" fill="#4a4a4a" font-weight="normal" text-anchor="middle" >−2</text><line x1="186.50" y1="397.80" x2="186.50" y2="399.80" stroke="#333" stroke-width="0.8" /><text x="186.50" y="406.20" font-size="6.4" fill="#4a4a4a" font-weight="normal" text-anchor="middle" >0</text><line x1="262.50" y1="397.80" x2="262.50" y2="399.80" stroke="#333" stroke-width="0.8" /><text x="262.50" y="406.20" font-size="6.4" fill="#4a4a4a" font-weight="normal" text-anchor="middle" >2</text><text x="150.00" y="417.50" font-size="6.45" fill="#333" font-weight="normal" text-anchor="middle" >β-score, T47D PalboS CTR</text><text x="0" y="0" font-size="6.4" fill="#333" text-anchor="middle" xml:space="preserve" transform="translate(16.0,285.5) rotate(-90)">β-score, T47D PalboS Palbo 100 nmol/L</text><text x="2.00" y="446.00" font-size="14" fill="#111" font-weight="bold" text-anchor="start" >D</text><text x="38.00" y="445.40" font-size="7.38" fill="#1a1a1a" font-weight="bold" text-anchor="start" >T47D, PalboR Palbo 1 μmol/L vs. PalboS CTR</text><defs><clipPath id="clipD"><path d="M37.5 677.5 L37.5 558.9 L112.5 558.9 L150.0 529.7 L150.0 500.5 L187.5 500.5 L273.0 433.9 L273.0 558.9 L187.5 558.9 L150.0 588.1 L150.0 677.5 Z"/></clipPath></defs><g clip-path="url(#clipD)"><g filter="url(#blur1)"><path d="M82.5 607.1 L85.9 596.1 L89.2 587.0 L92.6 579.0 L95.9 571.8 L99.3 569.2 L102.6 566.6 L106.0 564.0 L109.4 561.4 L112.7 558.7 L116.1 556.1 L119.4 553.5 L122.8 550.9 L126.1 548.3 L129.5 545.7 L132.8 542.9 L136.2 539.2 L139.6 534.7 L142.9 529.7 L146.3 524.6 L149.6 519.7 L153.0 515.3 L156.3 511.7 L159.7 509.0 L163.1 506.4 L166.4 503.8 L169.8 501.2 L173.1 499.9 L176.5 499.9 L179.8 499.9 L183.2 499.9 L186.5 499.9 L189.9 499.9 L193.3 499.9 L196.6 499.9 L200.0 499.9 L203.3 499.9 L206.7 499.9 L210.0 499.9 L213.4 499.9 L216.8 500.6 L216.8 511.1 L213.4 524.5 L210.0 534.8 L206.7 542.5 L203.3 545.1 L200.0 547.7 L196.6 550.3 L193.3 553.0 L189.9 555.6 L186.5 558.2 L183.2 560.8 L179.8 563.4 L176.5 566.0 L173.1 568.6 L169.8 571.3 L166.4 573.9 L163.1 576.5 L159.7 579.1 L156.3 581.7 L153.0 584.3 L149.6 586.9 L146.3 589.5 L142.9 592.2 L139.6 594.8 L136.2 597.4 L132.8 600.0 L129.5 602.6 L126.1 605.2 L122.8 607.8 L119.4 610.5 L116.1 613.1 L112.7 615.7 L109.4 618.3 L106.0 620.9 L102.6 623.5 L99.3 626.1 L95.9 628.7 L92.6 627.0 L89.2 624.5 L85.9 620.9 L82.5 615.6 Z" fill="#cdcdcd"/><path d="M146.2 558.8 L148.0 551.6 L149.7 545.7 L151.4 540.5 L153.1 535.2 L154.8 532.8 L156.5 530.2 L158.2 527.3 L159.9 524.4 L161.6 521.5 L163.3 518.8 L165.0 516.3 L166.7 514.1 L168.4 512.4 L170.1 511.1 L171.8 509.8 L173.6 508.4 L175.3 507.1 L177.0 505.8 L178.7 504.5 L180.4 503.1 L182.1 501.8 L183.8 500.5 L185.5 500.5 L187.2 500.5 L188.9 500.5 L190.6 500.5 L192.3 500.5 L194.0 500.5 L195.7 500.5 L197.4 500.5 L199.1 500.5 L200.8 500.5 L202.6 500.5 L204.3 500.5 L206.0 500.5 L207.7 500.5 L209.4 500.5 L211.1 500.5 L212.8 500.5 L214.5 503.9 L214.5 511.7 L212.8 521.0 L211.1 528.0 L209.4 533.1 L207.7 534.4 L206.0 535.8 L204.3 537.1 L202.6 538.4 L200.8 539.7 L199.1 541.1 L197.4 542.4 L195.7 543.7 L194.0 545.1 L192.3 546.4 L190.6 547.7 L188.9 549.0 L187.2 550.4 L185.5 551.7 L183.8 553.0 L182.1 554.4 L180.4 555.7 L178.7 557.0 L177.0 558.3 L175.3 559.7 L173.6 561.0 L171.8 562.3 L170.1 563.7 L168.4 565.0 L166.7 566.3 L165.0 567.6 L163.3 569.0 L161.6 570.3 L159.9 571.6 L158.2 573.0 L156.5 574.3 L154.8 575.6 L153.1 576.9 L151.4 575.0 L149.7 572.6 L148.0 569.4 L146.2 564.9 Z" fill="#c5c5c5"/></g></g><g fill="#b5b5b5" fill-opacity="0.85"><circle cx="143.8" cy="534.6" r="1.0"/><circle cx="153.2" cy="571.4" r="1.0"/><circle cx="98.7" cy="634.4" r="1.0"/><circle cx="83.4" cy="648.5" r="1.0"/><circle cx="82.8" cy="614.2" r="1.0"/><circle cx="233.2" cy="502.1" r="1.0"/><circle cx="177.8" cy="534.4" r="1.0"/><circle cx="156.7" cy="546.5" r="1.0"/><circle cx="141.8" cy="559.1" r="1.0"/><circle cx="144.7" cy="563.0" r="1.0"/><circle cx="120.7" cy="647.4" r="1.0"/><circle cx="116.3" cy="580.0" r="1.0"/><circle cx="210.4" cy="541.3" r="1.0"/><circle cx="229.2" cy="477.2" r="1.0"/><circle cx="221.1" cy="503.5" r="1.0"/><circle cx="198.9" cy="502.6" r="1.0"/><circle cx="82.2" cy="563.7" r="1.0"/><circle cx="87.4" cy="626.4" r="1.0"/><circle cx="84.6" cy="600.8" r="1.0"/><circle cx="161.9" cy="567.1" r="1.0"/><circle cx="99.7" cy="569.6" r="1.0"/><circle cx="87.2" cy="577.1" r="1.0"/><circle cx="118.8" cy="592.7" r="1.0"/><circle cx="103.1" cy="569.9" r="1.0"/><circle cx="84.4" cy="643.1" r="1.0"/><circle cx="103.5" cy="591.4" r="1.0"/><circle cx="117.5" cy="628.1" r="1.0"/><circle cx="82.7" cy="609.6" r="1.0"/><circle cx="229.4" cy="549.4" r="1.0"/><circle cx="98.4" cy="644.1" r="1.0"/><circle cx="220.8" cy="503.7" r="1.0"/><circle cx="192.3" cy="507.0" r="1.0"/><circle cx="100.7" cy="568.0" r="1.0"/><circle cx="138.6" cy="613.3" r="1.0"/><circle cx="74.0" cy="614.7" r="1.0"/><circle cx="168.2" cy="523.7" r="1.0"/><circle cx="161.9" cy="567.5" r="1.0"/><circle cx="222.3" cy="529.1" r="1.0"/><circle cx="70.3" cy="630.7" r="1.0"/><circle cx="97.2" cy="596.5" r="1.0"/><circle cx="184.1" cy="527.4" r="1.0"/><circle cx="70.5" cy="614.8" r="1.0"/><circle cx="148.9" cy="554.2" r="1.0"/><circle cx="191.9" cy="509.6" r="1.0"/><circle cx="191.9" cy="508.9" r="1.0"/><circle cx="126.9" cy="639.4" r="1.0"/><circle cx="219.5" cy="549.6" r="1.0"/><circle cx="81.0" cy="632.5" r="1.0"/><circle cx="191.5" cy="555.2" r="1.0"/><circle cx="72.5" cy="594.8" r="1.0"/><circle cx="148.7" cy="578.5" r="1.0"/><circle cx="110.7" cy="613.1" r="1.0"/><circle cx="122.7" cy="558.2" r="1.0"/><circle cx="101.0" cy="574.8" r="1.0"/><circle cx="165.9" cy="524.1" r="1.0"/><circle cx="187.5" cy="532.7" r="1.0"/><circle cx="143.5" cy="546.4" r="1.0"/><circle cx="103.6" cy="619.0" r="1.0"/><circle cx="120.7" cy="605.9" r="1.0"/><circle cx="214.8" cy="502.8" r="1.0"/><circle cx="187.1" cy="548.8" r="1.0"/><circle cx="144.3" cy="545.8" r="1.0"/><circle cx="91.3" cy="636.7" r="1.0"/><circle cx="173.7" cy="569.6" r="1.0"/><circle cx="203.7" cy="548.1" r="1.0"/><circle cx="69.3" cy="618.9" r="1.0"/><circle cx="188.0" cy="535.7" r="1.0"/><circle cx="185.2" cy="504.9" r="1.0"/><circle cx="173.1" cy="517.6" r="1.0"/><circle cx="226.8" cy="534.9" r="1.0"/><circle cx="177.4" cy="553.6" r="1.0"/><circle cx="158.1" cy="562.4" r="1.0"/><circle cx="121.6" cy="564.4" r="1.0"/><circle cx="81.5" cy="633.5" r="1.0"/><circle cx="160.4" cy="557.8" r="1.0"/><circle cx="204.0" cy="515.9" r="1.0"/><circle cx="154.7" cy="531.3" r="1.0"/><circle cx="227.1" cy="536.6" r="1.0"/><circle cx="227.7" cy="487.6" r="1.0"/><circle cx="175.3" cy="518.4" r="1.0"/><circle cx="120.1" cy="613.3" r="1.0"/><circle cx="169.6" cy="556.7" r="1.0"/><circle cx="231.1" cy="538.3" r="1.0"/><circle cx="162.5" cy="518.5" r="1.0"/><circle cx="229.0" cy="504.7" r="1.0"/><circle cx="112.9" cy="566.0" r="1.0"/><circle cx="147.9" cy="546.0" r="1.0"/><circle cx="199.0" cy="508.5" r="1.0"/><circle cx="183.4" cy="513.2" r="1.0"/><circle cx="88.2" cy="578.0" r="1.0"/><circle cx="109.8" cy="642.4" r="1.0"/><circle cx="130.9" cy="579.7" r="1.0"/><circle cx="156.8" cy="533.7" r="1.0"/><circle cx="192.5" cy="542.4" r="1.0"/><circle cx="219.8" cy="530.8" r="1.0"/><circle cx="217.3" cy="501.2" r="1.0"/><circle cx="207.9" cy="510.0" r="1.0"/><circle cx="135.5" cy="584.9" r="1.0"/><circle cx="70.5" cy="665.9" r="1.0"/><circle cx="99.4" cy="599.6" r="1.0"/><circle cx="85.4" cy="665.8" r="1.0"/><circle cx="163.5" cy="567.5" r="1.0"/><circle cx="78.0" cy="663.3" r="1.0"/><circle cx="122.7" cy="568.5" r="1.0"/><circle cx="154.5" cy="559.3" r="1.0"/><circle cx="185.8" cy="533.9" r="1.0"/><circle cx="98.1" cy="601.3" r="1.0"/><circle cx="100.4" cy="648.0" r="1.0"/><circle cx="173.7" cy="568.5" r="1.0"/><circle cx="233.3" cy="514.3" r="1.0"/><circle cx="111.1" cy="591.0" r="1.0"/><circle cx="218.8" cy="522.3" r="1.0"/><circle cx="189.4" cy="558.6" r="1.0"/><circle cx="69.3" cy="594.2" r="1.0"/><circle cx="175.3" cy="531.3" r="1.0"/><circle cx="178.8" cy="564.8" r="1.0"/><circle cx="185.8" cy="524.8" r="1.0"/><circle cx="171.3" cy="543.1" r="1.0"/><circle cx="110.8" cy="571.1" r="1.0"/><circle cx="130.9" cy="563.6" r="1.0"/><circle cx="109.8" cy="623.2" r="1.0"/><circle cx="230.7" cy="506.8" r="1.0"/><circle cx="168.3" cy="555.4" r="1.0"/><circle cx="75.1" cy="599.5" r="1.0"/><circle cx="96.0" cy="573.1" r="1.0"/><circle cx="156.4" cy="564.2" r="1.0"/><circle cx="129.2" cy="596.1" r="1.0"/><circle cx="115.3" cy="616.9" r="1.0"/><circle cx="117.5" cy="583.8" r="1.0"/><circle cx="93.9" cy="593.9" r="1.0"/><circle cx="133.3" cy="572.0" r="1.0"/><circle cx="234.4" cy="502.6" r="1.0"/><circle cx="79.9" cy="643.5" r="1.0"/><circle cx="231.7" cy="471.0" r="1.0"/><circle cx="155.8" cy="560.0" r="1.0"/><circle cx="232.7" cy="526.9" r="1.0"/><circle cx="101.9" cy="634.9" r="1.0"/><circle cx="144.4" cy="548.0" r="1.0"/><circle cx="165.8" cy="540.4" r="1.0"/><circle cx="235.9" cy="527.4" r="1.0"/><circle cx="128.1" cy="590.9" r="1.0"/><circle cx="194.6" cy="523.2" r="1.0"/><circle cx="74.2" cy="624.8" r="1.0"/><circle cx="160.4" cy="528.1" r="1.0"/><circle cx="130.5" cy="567.5" r="1.0"/><circle cx="80.0" cy="588.2" r="1.0"/><circle cx="139.1" cy="557.1" r="1.0"/><circle cx="177.8" cy="563.3" r="1.0"/><circle cx="122.4" cy="582.0" r="1.0"/><circle cx="139.7" cy="632.7" r="1.0"/><circle cx="83.9" cy="599.7" r="1.0"/><circle cx="162.7" cy="543.2" r="1.0"/><circle cx="183.1" cy="531.2" r="1.0"/><circle cx="103.5" cy="606.6" r="1.0"/><circle cx="81.3" cy="619.4" r="1.0"/><circle cx="115.2" cy="661.4" r="1.0"/><circle cx="127.9" cy="585.9" r="1.0"/><circle cx="187.2" cy="519.1" r="1.0"/><circle cx="222.5" cy="475.6" r="1.0"/><circle cx="203.0" cy="533.9" r="1.0"/><circle cx="109.4" cy="615.2" r="1.0"/><circle cx="129.2" cy="598.0" r="1.0"/><circle cx="100.4" cy="579.9" r="1.0"/><circle cx="97.3" cy="632.1" r="1.0"/><circle cx="159.3" cy="546.7" r="1.0"/><circle cx="159.8" cy="561.3" r="1.0"/><circle cx="81.7" cy="620.7" r="1.0"/><circle cx="81.8" cy="674.3" r="1.0"/><circle cx="91.8" cy="617.2" r="1.0"/><circle cx="104.7" cy="611.8" r="1.0"/><circle cx="155.5" cy="575.5" r="1.0"/><circle cx="150.8" cy="566.6" r="1.0"/><circle cx="221.9" cy="548.0" r="1.0"/><circle cx="208.2" cy="555.7" r="1.0"/><circle cx="229.1" cy="542.7" r="1.0"/><circle cx="202.9" cy="524.6" r="1.0"/><circle cx="138.5" cy="576.3" r="1.0"/><circle cx="102.0" cy="616.4" r="1.0"/><circle cx="86.9" cy="605.1" r="1.0"/><circle cx="78.0" cy="633.1" r="1.0"/><circle cx="166.1" cy="532.8" r="1.0"/><circle cx="98.6" cy="593.5" r="1.0"/><circle cx="107.2" cy="609.4" r="1.0"/><circle cx="98.7" cy="610.5" r="1.0"/><circle cx="96.6" cy="614.4" r="1.0"/><circle cx="111.5" cy="566.0" r="1.0"/><circle cx="159.9" cy="564.9" r="1.0"/><circle cx="202.7" cy="496.1" r="1.0"/><circle cx="156.5" cy="567.5" r="1.0"/><circle cx="69.3" cy="657.8" r="1.0"/><circle cx="94.0" cy="619.2" r="1.0"/><circle cx="214.2" cy="488.6" r="1.0"/><circle cx="175.0" cy="543.2" r="1.0"/><circle cx="92.9" cy="567.4" r="1.0"/><circle cx="67.7" cy="592.1" r="1.0"/><circle cx="81.4" cy="657.0" r="1.0"/><circle cx="228.7" cy="493.5" r="1.0"/><circle cx="212.2" cy="503.1" r="1.0"/><circle cx="222.2" cy="552.7" r="1.0"/><circle cx="94.1" cy="612.0" r="1.0"/><circle cx="120.1" cy="560.1" r="1.0"/><circle cx="146.3" cy="550.3" r="1.0"/><circle cx="128.2" cy="552.9" r="1.0"/><circle cx="145.4" cy="544.4" r="1.0"/><circle cx="187.3" cy="526.1" r="1.0"/><circle cx="202.4" cy="508.0" r="1.0"/><circle cx="171.5" cy="568.1" r="1.0"/><circle cx="117.8" cy="558.4" r="1.0"/><circle cx="133.7" cy="572.4" r="1.0"/><circle cx="190.9" cy="507.5" r="1.0"/><circle cx="227.0" cy="503.3" r="1.0"/><circle cx="207.0" cy="558.4" r="1.0"/><circle cx="91.3" cy="638.8" r="1.0"/><circle cx="97.9" cy="640.7" r="1.0"/><circle cx="94.0" cy="583.4" r="1.0"/><circle cx="153.8" cy="570.7" r="1.0"/><circle cx="196.9" cy="542.1" r="1.0"/><circle cx="178.9" cy="542.2" r="1.0"/><circle cx="70.6" cy="643.9" r="1.0"/><circle cx="85.4" cy="573.7" r="1.0"/><circle cx="153.5" cy="537.9" r="1.0"/><circle cx="94.2" cy="638.1" r="1.0"/><circle cx="219.9" cy="525.2" r="1.0"/><circle cx="91.4" cy="577.0" r="1.0"/><circle cx="234.0" cy="505.4" r="1.0"/><circle cx="100.8" cy="651.4" r="1.0"/><circle cx="173.3" cy="508.5" r="1.0"/><circle cx="164.8" cy="536.5" r="1.0"/><circle cx="123.0" cy="600.8" r="1.0"/><circle cx="88.4" cy="581.9" r="1.0"/><circle cx="90.4" cy="641.4" r="1.0"/><circle cx="162.1" cy="559.6" r="1.0"/><circle cx="88.2" cy="643.1" r="1.0"/><circle cx="116.2" cy="583.0" r="1.0"/><circle cx="160.0" cy="520.5" r="1.0"/><circle cx="178.6" cy="559.3" r="1.0"/><circle cx="131.9" cy="615.0" r="1.0"/><circle cx="91.6" cy="573.2" r="1.0"/><circle cx="163.4" cy="551.3" r="1.0"/><circle cx="175.8" cy="552.0" r="1.0"/><circle cx="229.4" cy="511.4" r="1.0"/><circle cx="146.8" cy="593.2" r="1.0"/><circle cx="195.4" cy="554.9" r="1.0"/><circle cx="136.5" cy="618.2" r="1.0"/><circle cx="140.4" cy="572.1" r="1.0"/><circle cx="121.6" cy="597.3" r="1.0"/><circle cx="194.4" cy="533.6" r="1.0"/><circle cx="88.5" cy="612.9" r="1.0"/><circle cx="152.3" cy="514.5" r="1.0"/><circle cx="156.3" cy="529.5" r="1.0"/><circle cx="119.2" cy="581.9" r="1.0"/><circle cx="104.9" cy="569.0" r="1.0"/><circle cx="163.1" cy="506.5" r="1.0"/><circle cx="88.4" cy="576.8" r="1.0"/><circle cx="228.0" cy="496.6" r="1.0"/><circle cx="218.6" cy="527.4" r="1.0"/><circle cx="166.3" cy="518.2" r="1.0"/><circle cx="72.8" cy="631.2" r="1.0"/><circle cx="147.3" cy="592.6" r="1.0"/><circle cx="208.9" cy="530.7" r="1.0"/><circle cx="216.0" cy="504.5" r="1.0"/><circle cx="101.6" cy="575.0" r="1.0"/><circle cx="184.9" cy="542.8" r="1.0"/><circle cx="105.2" cy="589.8" r="1.0"/><circle cx="187.4" cy="514.5" r="1.0"/><circle cx="179.6" cy="516.4" r="1.0"/><circle cx="130.4" cy="545.0" r="1.0"/><circle cx="106.1" cy="618.9" r="1.0"/><circle cx="223.9" cy="508.4" r="1.0"/><circle cx="82.7" cy="570.2" r="1.0"/><circle cx="141.8" cy="574.0" r="1.0"/><circle cx="168.7" cy="546.1" r="1.0"/><circle cx="109.8" cy="569.7" r="1.0"/><circle cx="195.0" cy="502.7" r="1.0"/><circle cx="114.6" cy="562.2" r="1.0"/><circle cx="145.4" cy="612.8" r="1.0"/><circle cx="161.3" cy="577.3" r="1.0"/><circle cx="152.8" cy="570.9" r="1.0"/><circle cx="228.1" cy="553.2" r="1.0"/><circle cx="199.1" cy="549.0" r="1.0"/><circle cx="141.8" cy="578.7" r="1.0"/><circle cx="200.2" cy="516.8" r="1.0"/><circle cx="104.8" cy="560.4" r="1.0"/><circle cx="164.1" cy="574.3" r="1.0"/><circle cx="140.8" cy="562.2" r="1.0"/><circle cx="163.5" cy="520.4" r="1.0"/><circle cx="74.6" cy="597.5" r="1.0"/><circle cx="172.3" cy="545.1" r="1.0"/><circle cx="82.4" cy="572.8" r="1.0"/><circle cx="96.5" cy="576.6" r="1.0"/><circle cx="77.8" cy="628.5" r="1.0"/><circle cx="150.1" cy="542.6" r="1.0"/><circle cx="144.3" cy="564.7" r="1.0"/><circle cx="74.1" cy="596.8" r="1.0"/><circle cx="133.8" cy="581.8" r="1.0"/><circle cx="196.3" cy="502.1" r="1.0"/><circle cx="106.3" cy="613.5" r="1.0"/><circle cx="145.4" cy="569.4" r="1.0"/><circle cx="74.2" cy="622.6" r="1.0"/><circle cx="217.1" cy="550.6" r="1.0"/><circle cx="103.8" cy="579.9" r="1.0"/><circle cx="103.7" cy="606.4" r="1.0"/><circle cx="213.1" cy="524.1" r="1.0"/><circle cx="184.2" cy="524.7" r="1.0"/><circle cx="113.8" cy="571.0" r="1.0"/><circle cx="133.8" cy="550.8" r="1.0"/><circle cx="188.2" cy="540.0" r="1.0"/><circle cx="196.7" cy="517.6" r="1.0"/><circle cx="121.9" cy="584.1" r="1.0"/><circle cx="81.5" cy="635.0" r="1.0"/><circle cx="134.0" cy="543.9" r="1.0"/><circle cx="168.0" cy="537.7" r="1.0"/><circle cx="120.2" cy="597.3" r="1.0"/><circle cx="186.7" cy="534.6" r="1.0"/><circle cx="189.9" cy="515.9" r="1.0"/><circle cx="114.8" cy="570.5" r="1.0"/><circle cx="135.9" cy="556.0" r="1.0"/><circle cx="116.8" cy="600.4" r="1.0"/><circle cx="163.0" cy="542.5" r="1.0"/><circle cx="232.1" cy="526.3" r="1.0"/><circle cx="104.0" cy="652.2" r="1.0"/><circle cx="180.0" cy="521.1" r="1.0"/><circle cx="174.2" cy="566.7" r="1.0"/><circle cx="139.7" cy="540.2" r="1.0"/><circle cx="122.9" cy="569.4" r="1.0"/><circle cx="114.7" cy="632.5" r="1.0"/><circle cx="95.6" cy="582.2" r="1.0"/><circle cx="108.0" cy="620.0" r="1.0"/><circle cx="92.9" cy="577.7" r="1.0"/><circle cx="185.9" cy="532.9" r="1.0"/><circle cx="133.5" cy="577.7" r="1.0"/><circle cx="78.1" cy="582.7" r="1.0"/><circle cx="166.4" cy="534.7" r="1.0"/><circle cx="122.4" cy="553.7" r="1.0"/><circle cx="218.0" cy="502.0" r="1.0"/><circle cx="111.7" cy="575.9" r="1.0"/><circle cx="171.3" cy="512.0" r="1.0"/><circle cx="173.4" cy="558.5" r="1.0"/><circle cx="136.8" cy="578.1" r="1.0"/><circle cx="119.6" cy="556.4" r="1.0"/><circle cx="67.7" cy="640.0" r="1.0"/><circle cx="150.8" cy="544.9" r="1.0"/><circle cx="231.0" cy="516.4" r="1.0"/><circle cx="126.0" cy="595.5" r="1.0"/><circle cx="150.3" cy="524.4" r="1.0"/><circle cx="129.9" cy="574.8" r="1.0"/><circle cx="107.5" cy="653.3" r="1.0"/><circle cx="122.3" cy="606.1" r="1.0"/><circle cx="78.2" cy="617.1" r="1.0"/><circle cx="84.8" cy="585.4" r="1.0"/><circle cx="197.8" cy="500.9" r="1.0"/><circle cx="94.9" cy="595.2" r="1.0"/><circle cx="110.3" cy="596.8" r="1.0"/><circle cx="201.9" cy="523.2" r="1.0"/><circle cx="188.3" cy="550.8" r="1.0"/><circle cx="186.8" cy="504.7" r="1.0"/><circle cx="88.6" cy="652.5" r="1.0"/><circle cx="180.5" cy="531.9" r="1.0"/><circle cx="166.3" cy="541.8" r="1.0"/><circle cx="231.3" cy="515.4" r="1.0"/><circle cx="174.1" cy="568.3" r="1.0"/><circle cx="87.5" cy="583.9" r="1.0"/><circle cx="115.8" cy="570.8" r="1.0"/><circle cx="123.2" cy="580.8" r="1.0"/><circle cx="159.1" cy="569.4" r="1.0"/><circle cx="115.4" cy="622.6" r="1.0"/><circle cx="233.0" cy="527.8" r="1.0"/><circle cx="184.6" cy="526.8" r="1.0"/><circle cx="97.0" cy="626.7" r="1.0"/><circle cx="225.0" cy="515.2" r="1.0"/><circle cx="122.1" cy="578.8" r="1.0"/><circle cx="163.0" cy="576.8" r="1.0"/><circle cx="105.9" cy="609.8" r="1.0"/><circle cx="129.2" cy="565.0" r="1.0"/><circle cx="218.1" cy="502.5" r="1.0"/><circle cx="101.6" cy="586.2" r="1.0"/><circle cx="149.2" cy="549.2" r="1.0"/><circle cx="77.2" cy="643.0" r="1.0"/><circle cx="178.3" cy="548.5" r="1.0"/><circle cx="142.3" cy="567.7" r="1.0"/><circle cx="72.0" cy="650.1" r="1.0"/><circle cx="87.5" cy="660.1" r="1.0"/><circle cx="69.3" cy="614.6" r="1.0"/><circle cx="156.5" cy="555.0" r="1.0"/><circle cx="186.5" cy="539.6" r="1.0"/><circle cx="221.0" cy="535.2" r="1.0"/><circle cx="133.0" cy="581.8" r="1.0"/><circle cx="178.4" cy="564.3" r="1.0"/><circle cx="192.7" cy="500.7" r="1.0"/><circle cx="192.9" cy="533.2" r="1.0"/><circle cx="85.4" cy="637.3" r="1.0"/><circle cx="135.6" cy="568.1" r="1.0"/><circle cx="158.1" cy="535.7" r="1.0"/><circle cx="104.6" cy="562.4" r="1.0"/><circle cx="186.6" cy="541.3" r="1.0"/><circle cx="98.5" cy="582.5" r="1.0"/><circle cx="174.6" cy="540.8" r="1.0"/><circle cx="212.0" cy="551.4" r="1.0"/><circle cx="152.7" cy="514.8" r="1.0"/><circle cx="179.8" cy="551.5" r="1.0"/><circle cx="168.9" cy="530.2" r="1.0"/><circle cx="167.6" cy="568.0" r="1.0"/><circle cx="192.0" cy="508.2" r="1.0"/><circle cx="88.9" cy="572.6" r="1.0"/><circle cx="150.4" cy="520.0" r="1.0"/><circle cx="225.7" cy="535.6" r="1.0"/><circle cx="202.1" cy="507.6" r="1.0"/><circle cx="214.3" cy="509.2" r="1.0"/><circle cx="109.8" cy="624.9" r="1.0"/><circle cx="200.3" cy="503.1" r="1.0"/><circle cx="108.3" cy="560.6" r="1.0"/><circle cx="202.0" cy="533.6" r="1.0"/><circle cx="73.7" cy="608.3" r="1.0"/><circle cx="213.4" cy="495.8" r="1.0"/><circle cx="133.1" cy="559.6" r="1.0"/><circle cx="124.8" cy="594.7" r="1.0"/><circle cx="169.3" cy="561.1" r="1.0"/><circle cx="98.0" cy="618.7" r="1.0"/><circle cx="89.3" cy="658.4" r="1.0"/><circle cx="226.3" cy="511.6" r="1.0"/><circle cx="235.4" cy="477.4" r="1.0"/><circle cx="191.7" cy="537.5" r="1.0"/><circle cx="92.2" cy="576.1" r="1.0"/><circle cx="139.2" cy="594.5" r="1.0"/><circle cx="153.0" cy="539.1" r="1.0"/><circle cx="125.9" cy="574.0" r="1.0"/><circle cx="115.8" cy="599.8" r="1.0"/><circle cx="225.1" cy="529.3" r="1.0"/><circle cx="192.9" cy="535.6" r="1.0"/><circle cx="138.2" cy="564.7" r="1.0"/><circle cx="141.9" cy="577.2" r="1.0"/><circle cx="138.5" cy="581.5" r="1.0"/><circle cx="206.0" cy="546.2" r="1.0"/><circle cx="84.3" cy="629.9" r="1.0"/><circle cx="82.4" cy="644.5" r="1.0"/><circle cx="180.4" cy="502.0" r="1.0"/><circle cx="146.7" cy="555.5" r="1.0"/><circle cx="145.9" cy="581.1" r="1.0"/><circle cx="231.3" cy="530.6" r="1.0"/><circle cx="78.7" cy="649.1" r="1.0"/><circle cx="104.3" cy="569.7" r="1.0"/><circle cx="102.8" cy="577.4" r="1.0"/><circle cx="95.7" cy="635.6" r="1.0"/><circle cx="110.3" cy="623.4" r="1.0"/><circle cx="190.8" cy="503.1" r="1.0"/><circle cx="70.2" cy="598.6" r="1.0"/><circle cx="157.9" cy="548.6" r="1.0"/><circle cx="86.3" cy="619.6" r="1.0"/><circle cx="88.5" cy="573.8" r="1.0"/><circle cx="89.4" cy="647.4" r="1.0"/><circle cx="198.7" cy="524.2" r="1.0"/><circle cx="137.3" cy="557.8" r="1.0"/><circle cx="161.7" cy="518.5" r="1.0"/><circle cx="231.2" cy="509.3" r="1.0"/><circle cx="137.3" cy="665.3" r="1.0"/><circle cx="93.4" cy="607.4" r="1.0"/><circle cx="93.9" cy="648.5" r="1.0"/><circle cx="72.3" cy="659.9" r="1.0"/><circle cx="75.3" cy="597.1" r="1.0"/><circle cx="86.4" cy="597.7" r="1.0"/><circle cx="123.0" cy="614.5" r="1.0"/><circle cx="227.2" cy="549.0" r="1.0"/><circle cx="152.0" cy="576.7" r="1.0"/><circle cx="192.3" cy="510.8" r="1.0"/><circle cx="129.6" cy="602.0" r="1.0"/><circle cx="140.1" cy="562.6" r="1.0"/><circle cx="75.9" cy="583.5" r="1.0"/><circle cx="159.9" cy="537.7" r="1.0"/><circle cx="105.1" cy="623.8" r="1.0"/><circle cx="167.6" cy="571.4" r="1.0"/><circle cx="170.3" cy="556.7" r="1.0"/><circle cx="154.6" cy="523.9" r="1.0"/><circle cx="76.5" cy="616.7" r="1.0"/><circle cx="201.8" cy="495.4" r="1.0"/><circle cx="212.6" cy="520.0" r="1.0"/><circle cx="81.9" cy="568.9" r="1.0"/><circle cx="207.8" cy="536.1" r="1.0"/><circle cx="77.1" cy="576.6" r="1.0"/><circle cx="160.7" cy="538.5" r="1.0"/><circle cx="199.4" cy="520.2" r="1.0"/><circle cx="143.0" cy="592.8" r="1.0"/><circle cx="87.4" cy="608.7" r="1.0"/><circle cx="87.1" cy="619.1" r="1.0"/><circle cx="179.9" cy="524.5" r="1.0"/><circle cx="119.8" cy="572.8" r="1.0"/><circle cx="162.0" cy="542.2" r="1.0"/><circle cx="158.0" cy="523.3" r="1.0"/><circle cx="88.3" cy="614.2" r="1.0"/><circle cx="140.4" cy="565.1" r="1.0"/><circle cx="133.0" cy="570.4" r="1.0"/><circle cx="85.3" cy="589.9" r="1.0"/><circle cx="101.6" cy="563.0" r="1.0"/><circle cx="95.2" cy="631.3" r="1.0"/><circle cx="133.1" cy="591.3" r="1.0"/><circle cx="209.6" cy="541.4" r="1.0"/><circle cx="233.0" cy="511.1" r="1.0"/><circle cx="185.2" cy="537.2" r="1.0"/><circle cx="78.3" cy="648.0" r="1.0"/><circle cx="161.9" cy="522.5" r="1.0"/><circle cx="149.6" cy="588.6" r="1.0"/><circle cx="194.6" cy="557.7" r="1.0"/><circle cx="73.4" cy="565.4" r="1.0"/><circle cx="163.4" cy="556.8" r="1.0"/><circle cx="203.5" cy="509.9" r="1.0"/><circle cx="101.1" cy="617.0" r="1.0"/><circle cx="170.4" cy="536.9" r="1.0"/><circle cx="219.3" cy="543.4" r="1.0"/><circle cx="116.6" cy="599.0" r="1.0"/><circle cx="190.2" cy="527.6" r="1.0"/><circle cx="158.2" cy="546.6" r="1.0"/><circle cx="116.9" cy="561.9" r="1.0"/><circle cx="113.5" cy="562.6" r="1.0"/><circle cx="114.3" cy="574.6" r="1.0"/><circle cx="212.6" cy="522.5" r="1.0"/><circle cx="170.3" cy="546.7" r="1.0"/><circle cx="128.7" cy="552.5" r="1.0"/><circle cx="106.9" cy="624.9" r="1.0"/><circle cx="163.0" cy="540.8" r="1.0"/><circle cx="178.4" cy="518.0" r="1.0"/><circle cx="162.9" cy="562.2" r="1.0"/><circle cx="179.9" cy="548.3" r="1.0"/><circle cx="72.5" cy="575.1" r="1.0"/><circle cx="211.8" cy="515.5" r="1.0"/><circle cx="156.4" cy="557.1" r="1.0"/><circle cx="151.7" cy="571.9" r="1.0"/><circle cx="149.5" cy="608.8" r="1.0"/><circle cx="90.3" cy="611.9" r="1.0"/><circle cx="227.8" cy="528.2" r="1.0"/><circle cx="167.2" cy="541.2" r="1.0"/><circle cx="170.9" cy="531.3" r="1.0"/><circle cx="155.1" cy="560.0" r="1.0"/><circle cx="207.5" cy="552.3" r="1.0"/><circle cx="195.3" cy="528.4" r="1.0"/><circle cx="67.6" cy="586.0" r="1.0"/><circle cx="111.8" cy="584.0" r="1.0"/><circle cx="156.3" cy="568.6" r="1.0"/><circle cx="107.1" cy="621.0" r="1.0"/><circle cx="97.1" cy="601.3" r="1.0"/><circle cx="107.7" cy="594.1" r="1.0"/><circle cx="98.6" cy="613.0" r="1.0"/><circle cx="190.1" cy="502.9" r="1.0"/><circle cx="137.4" cy="587.6" r="1.0"/><circle cx="132.8" cy="550.9" r="1.0"/><circle cx="124.6" cy="628.1" r="1.0"/><circle cx="131.5" cy="613.3" r="1.0"/><circle cx="147.8" cy="587.2" r="1.0"/><circle cx="69.8" cy="629.2" r="1.0"/><circle cx="125.2" cy="594.8" r="1.0"/><circle cx="91.4" cy="586.5" r="1.0"/><circle cx="90.4" cy="611.7" r="1.0"/><circle cx="130.3" cy="591.3" r="1.0"/><circle cx="113.6" cy="570.5" r="1.0"/><circle cx="126.1" cy="563.7" r="1.0"/><circle cx="158.7" cy="527.2" r="1.0"/><circle cx="196.1" cy="511.6" r="1.0"/><circle cx="105.1" cy="600.5" r="1.0"/><circle cx="94.6" cy="617.9" r="1.0"/><circle cx="163.4" cy="527.6" r="1.0"/><circle cx="145.1" cy="638.2" r="1.0"/><circle cx="210.3" cy="486.5" r="1.0"/><circle cx="196.2" cy="506.4" r="1.0"/><circle cx="96.7" cy="594.8" r="1.0"/><circle cx="103.2" cy="578.5" r="1.0"/><circle cx="151.7" cy="506.2" r="1.0"/><circle cx="74.5" cy="615.3" r="1.0"/><circle cx="121.0" cy="574.6" r="1.0"/><circle cx="216.7" cy="538.6" r="1.0"/><circle cx="145.2" cy="544.5" r="1.0"/><circle cx="216.3" cy="545.4" r="1.0"/><circle cx="153.4" cy="560.6" r="1.0"/><circle cx="166.0" cy="508.1" r="1.0"/><circle cx="83.9" cy="618.1" r="1.0"/><circle cx="126.1" cy="643.6" r="1.0"/><circle cx="154.3" cy="554.4" r="1.0"/><circle cx="67.8" cy="627.5" r="1.0"/><circle cx="174.1" cy="502.2" r="1.0"/><circle cx="82.7" cy="652.9" r="1.0"/><circle cx="142.2" cy="553.8" r="1.0"/><circle cx="207.4" cy="534.5" r="1.0"/><circle cx="110.5" cy="620.4" r="1.0"/><circle cx="161.2" cy="551.0" r="1.0"/><circle cx="150.2" cy="572.9" r="1.0"/><circle cx="152.4" cy="502.8" r="1.0"/><circle cx="232.7" cy="540.0" r="1.0"/><circle cx="183.1" cy="545.8" r="1.0"/><circle cx="205.0" cy="513.7" r="1.0"/><circle cx="125.4" cy="627.4" r="1.0"/><circle cx="224.9" cy="541.7" r="1.0"/><circle cx="98.9" cy="594.4" r="1.0"/><circle cx="200.0" cy="556.8" r="1.0"/><circle cx="163.5" cy="570.2" r="1.0"/><circle cx="132.4" cy="598.7" r="1.0"/><circle cx="71.4" cy="610.0" r="1.0"/><circle cx="177.8" cy="557.4" r="1.0"/><circle cx="184.7" cy="541.3" r="1.0"/><circle cx="99.1" cy="577.2" r="1.0"/><circle cx="123.7" cy="591.1" r="1.0"/><circle cx="157.9" cy="539.9" r="1.0"/><circle cx="193.2" cy="504.8" r="1.0"/><circle cx="79.3" cy="651.3" r="1.0"/><circle cx="137.4" cy="565.7" r="1.0"/><circle cx="140.6" cy="563.3" r="1.0"/><circle cx="190.1" cy="523.2" r="1.0"/><circle cx="79.5" cy="624.5" r="1.0"/><circle cx="89.1" cy="635.8" r="1.0"/><circle cx="182.5" cy="509.4" r="1.0"/><circle cx="75.3" cy="610.3" r="1.0"/><circle cx="147.4" cy="548.9" r="1.0"/><circle cx="79.8" cy="627.1" r="1.0"/><circle cx="228.4" cy="495.1" r="1.0"/><circle cx="149.6" cy="592.7" r="1.0"/><circle cx="104.8" cy="624.1" r="1.0"/><circle cx="134.8" cy="572.4" r="1.0"/><circle cx="110.9" cy="597.6" r="1.0"/><circle cx="129.2" cy="605.8" r="1.0"/><circle cx="96.3" cy="592.6" r="1.0"/><circle cx="100.4" cy="583.0" r="1.0"/><circle cx="86.7" cy="598.1" r="1.0"/><circle cx="92.5" cy="594.9" r="1.0"/><circle cx="192.6" cy="534.1" r="1.0"/><circle cx="112.6" cy="665.6" r="1.0"/><circle cx="107.9" cy="621.6" r="1.0"/><circle cx="161.5" cy="553.6" r="1.0"/><circle cx="166.2" cy="542.8" r="1.0"/><circle cx="138.7" cy="573.5" r="1.0"/><circle cx="77.6" cy="642.5" r="1.0"/><circle cx="126.5" cy="661.7" r="1.0"/><circle cx="114.1" cy="626.4" r="1.0"/><circle cx="147.7" cy="562.1" r="1.0"/><circle cx="104.8" cy="593.5" r="1.0"/><circle cx="141.0" cy="628.9" r="1.0"/><circle cx="94.7" cy="624.0" r="1.0"/><circle cx="176.1" cy="540.9" r="1.0"/><circle cx="144.9" cy="618.3" r="1.0"/><circle cx="184.7" cy="502.6" r="1.0"/><circle cx="195.7" cy="512.9" r="1.0"/><circle cx="95.4" cy="596.9" r="1.0"/><circle cx="146.1" cy="600.5" r="1.0"/><circle cx="154.1" cy="559.4" r="1.0"/><circle cx="111.9" cy="601.1" r="1.0"/><circle cx="105.6" cy="564.4" r="1.0"/><circle cx="144.2" cy="537.0" r="1.0"/><circle cx="125.2" cy="588.0" r="1.0"/><circle cx="193.9" cy="501.1" r="1.0"/><circle cx="113.0" cy="602.1" r="1.0"/><circle cx="136.2" cy="587.2" r="1.0"/><circle cx="184.9" cy="518.7" r="1.0"/><circle cx="94.9" cy="613.1" r="1.0"/><circle cx="159.7" cy="548.6" r="1.0"/><circle cx="125.4" cy="562.5" r="1.0"/><circle cx="83.4" cy="603.3" r="1.0"/><circle cx="96.5" cy="642.1" r="1.0"/><circle cx="95.6" cy="584.7" r="1.0"/><circle cx="82.4" cy="603.8" r="1.0"/><circle cx="158.9" cy="544.4" r="1.0"/><circle cx="142.5" cy="650.4" r="1.0"/><circle cx="104.2" cy="639.6" r="1.0"/><circle cx="91.3" cy="595.5" r="1.0"/><circle cx="135.0" cy="592.3" r="1.0"/><circle cx="173.7" cy="547.7" r="1.0"/><circle cx="142.3" cy="565.6" r="1.0"/><circle cx="148.7" cy="558.4" r="1.0"/><circle cx="115.9" cy="597.4" r="1.0"/><circle cx="164.7" cy="560.2" r="1.0"/><circle cx="86.0" cy="655.1" r="1.0"/><circle cx="49.0" cy="622.1" r="1.0"/><circle cx="102.0" cy="560.2" r="1.0"/><circle cx="153.8" cy="553.4" r="1.0"/><circle cx="130.7" cy="561.7" r="1.0"/><circle cx="136.8" cy="566.2" r="1.0"/><circle cx="114.9" cy="563.8" r="1.0"/><circle cx="137.8" cy="572.2" r="1.0"/><circle cx="122.3" cy="600.6" r="1.0"/><circle cx="154.7" cy="564.6" r="1.0"/><circle cx="102.0" cy="635.8" r="1.0"/><circle cx="118.6" cy="656.7" r="1.0"/><circle cx="90.6" cy="603.5" r="1.0"/><circle cx="136.0" cy="567.5" r="1.0"/><circle cx="83.4" cy="610.8" r="1.0"/><circle cx="102.1" cy="615.1" r="1.0"/><circle cx="125.1" cy="591.1" r="1.0"/><circle cx="151.3" cy="553.6" r="1.0"/><circle cx="137.2" cy="601.2" r="1.0"/><circle cx="136.3" cy="567.8" r="1.0"/><circle cx="115.8" cy="566.9" r="1.0"/><circle cx="145.3" cy="555.2" r="1.0"/><circle cx="113.0" cy="617.8" r="1.0"/><circle cx="92.0" cy="617.9" r="1.0"/><circle cx="86.9" cy="623.9" r="1.0"/><circle cx="117.0" cy="583.2" r="1.0"/><circle cx="165.5" cy="574.6" r="1.0"/><circle cx="83.7" cy="576.8" r="1.0"/><circle cx="120.8" cy="555.5" r="1.0"/><circle cx="139.9" cy="615.4" r="1.0"/><circle cx="129.3" cy="590.7" r="1.0"/><circle cx="123.0" cy="644.2" r="1.0"/><circle cx="57.8" cy="662.1" r="1.0"/><circle cx="151.1" cy="532.4" r="1.0"/><circle cx="106.5" cy="611.6" r="1.0"/><circle cx="108.4" cy="604.3" r="1.0"/><circle cx="142.1" cy="582.4" r="1.0"/><circle cx="126.6" cy="574.6" r="1.0"/><circle cx="160.9" cy="549.7" r="1.0"/><circle cx="180.9" cy="539.8" r="1.0"/><circle cx="121.7" cy="603.8" r="1.0"/><circle cx="114.8" cy="648.7" r="1.0"/><circle cx="98.7" cy="585.5" r="1.0"/><circle cx="119.0" cy="600.0" r="1.0"/><circle cx="152.2" cy="561.7" r="1.0"/><circle cx="132.8" cy="565.0" r="1.0"/><circle cx="152.2" cy="509.6" r="1.0"/><circle cx="135.7" cy="565.0" r="1.0"/><circle cx="149.9" cy="607.7" r="1.0"/><circle cx="122.1" cy="592.0" r="1.0"/><circle cx="149.4" cy="552.3" r="1.0"/><circle cx="108.2" cy="594.7" r="1.0"/><circle cx="143.0" cy="617.1" r="1.0"/><circle cx="98.7" cy="644.5" r="1.0"/><circle cx="80.8" cy="626.9" r="1.0"/><circle cx="135.6" cy="615.0" r="1.0"/><circle cx="170.1" cy="538.3" r="1.0"/><circle cx="91.5" cy="627.2" r="1.0"/><circle cx="146.1" cy="555.8" r="1.0"/><circle cx="140.0" cy="597.0" r="1.0"/><circle cx="89.9" cy="602.4" r="1.0"/><circle cx="115.2" cy="578.3" r="1.0"/><circle cx="140.0" cy="551.9" r="1.0"/><circle cx="76.5" cy="648.8" r="1.0"/><circle cx="128.8" cy="570.7" r="1.0"/><circle cx="107.6" cy="588.2" r="1.0"/><circle cx="115.7" cy="605.5" r="1.0"/><circle cx="117.9" cy="590.2" r="1.0"/><circle cx="116.8" cy="569.3" r="1.0"/><circle cx="135.5" cy="564.6" r="1.0"/><circle cx="48.3" cy="625.2" r="1.0"/><circle cx="130.6" cy="564.6" r="1.0"/><circle cx="96.3" cy="595.7" r="1.0"/><circle cx="208.6" cy="549.5" r="1.0"/><circle cx="130.5" cy="583.0" r="1.0"/><circle cx="157.6" cy="521.9" r="1.0"/><circle cx="146.2" cy="580.1" r="1.0"/><circle cx="118.1" cy="565.9" r="1.0"/><circle cx="129.5" cy="603.9" r="1.0"/><circle cx="107.5" cy="640.9" r="1.0"/><circle cx="139.9" cy="547.3" r="1.0"/><circle cx="147.8" cy="594.0" r="1.0"/><circle cx="178.0" cy="551.0" r="1.0"/><circle cx="112.7" cy="629.4" r="1.0"/><circle cx="133.9" cy="615.1" r="1.0"/><circle cx="165.1" cy="553.3" r="1.0"/><circle cx="100.3" cy="574.1" r="1.0"/><circle cx="106.5" cy="616.7" r="1.0"/><circle cx="148.1" cy="586.8" r="1.0"/><circle cx="114.0" cy="564.7" r="1.0"/><circle cx="152.6" cy="577.7" r="1.0"/><circle cx="136.8" cy="543.8" r="1.0"/><circle cx="84.0" cy="654.6" r="1.0"/><circle cx="140.8" cy="650.3" r="1.0"/><circle cx="79.0" cy="601.6" r="1.0"/><circle cx="165.8" cy="539.3" r="1.0"/><circle cx="162.4" cy="554.5" r="1.0"/><circle cx="133.3" cy="585.0" r="1.0"/><circle cx="141.0" cy="557.8" r="1.0"/><circle cx="101.6" cy="625.4" r="1.0"/><circle cx="116.8" cy="601.2" r="1.0"/><circle cx="88.9" cy="586.5" r="1.0"/><circle cx="109.3" cy="629.3" r="1.0"/><circle cx="135.0" cy="595.8" r="1.0"/><circle cx="148.7" cy="554.4" r="1.0"/><circle cx="99.6" cy="608.4" r="1.0"/><circle cx="174.7" cy="539.1" r="1.0"/><circle cx="138.1" cy="584.4" r="1.0"/><circle cx="133.4" cy="614.5" r="1.0"/><circle cx="88.6" cy="566.2" r="1.0"/><circle cx="99.4" cy="592.5" r="1.0"/><circle cx="143.5" cy="542.3" r="1.0"/><circle cx="79.0" cy="631.6" r="1.0"/><circle cx="198.5" cy="526.1" r="1.0"/><circle cx="155.0" cy="506.5" r="1.0"/><circle cx="151.2" cy="574.9" r="1.0"/><circle cx="141.4" cy="545.6" r="1.0"/><circle cx="110.8" cy="570.4" r="1.0"/><circle cx="115.3" cy="640.5" r="1.0"/><circle cx="86.9" cy="598.4" r="1.0"/><circle cx="227.1" cy="501.7" r="1.0"/><circle cx="231.3" cy="516.0" r="1.0"/><circle cx="211.7" cy="513.0" r="1.0"/><circle cx="213.0" cy="507.2" r="1.0"/><circle cx="245.3" cy="473.4" r="1.0"/><circle cx="223.8" cy="499.3" r="1.0"/><circle cx="215.1" cy="501.3" r="1.0"/><circle cx="216.6" cy="526.7" r="1.0"/><circle cx="210.6" cy="509.2" r="1.0"/><circle cx="217.1" cy="504.1" r="1.0"/><circle cx="221.4" cy="524.7" r="1.0"/><circle cx="247.2" cy="486.3" r="1.0"/><circle cx="211.9" cy="522.4" r="1.0"/><circle cx="221.0" cy="487.1" r="1.0"/><circle cx="219.2" cy="510.1" r="1.0"/><circle cx="225.5" cy="513.8" r="1.0"/><circle cx="235.3" cy="505.3" r="1.0"/><circle cx="220.1" cy="503.1" r="1.0"/><circle cx="221.1" cy="501.1" r="1.0"/><circle cx="243.0" cy="501.6" r="1.0"/><circle cx="210.9" cy="501.5" r="1.0"/><circle cx="239.5" cy="501.3" r="1.0"/><circle cx="235.3" cy="505.6" r="1.0"/><circle cx="230.0" cy="520.6" r="1.0"/><circle cx="238.2" cy="513.6" r="1.0"/><circle cx="211.9" cy="527.4" r="1.0"/><circle cx="228.3" cy="507.5" r="1.0"/><circle cx="213.0" cy="520.2" r="1.0"/><circle cx="237.4" cy="464.2" r="1.0"/><circle cx="211.3" cy="517.6" r="1.0"/><circle cx="214.7" cy="528.8" r="1.0"/><circle cx="225.4" cy="492.7" r="1.0"/><circle cx="218.6" cy="523.8" r="1.0"/><circle cx="232.7" cy="489.8" r="1.0"/><circle cx="217.9" cy="505.4" r="1.0"/><circle cx="238.0" cy="500.8" r="1.0"/><circle cx="229.7" cy="497.5" r="1.0"/><circle cx="231.3" cy="500.8" r="1.0"/><circle cx="241.4" cy="532.4" r="1.0"/><circle cx="212.3" cy="538.1" r="1.0"/><circle cx="234.0" cy="514.7" r="1.0"/><circle cx="217.7" cy="520.0" r="1.0"/><circle cx="218.5" cy="523.0" r="1.0"/><circle cx="210.8" cy="528.1" r="1.0"/><circle cx="233.0" cy="507.7" r="1.0"/><circle cx="222.7" cy="506.3" r="1.0"/><circle cx="235.0" cy="480.8" r="1.0"/><circle cx="240.5" cy="519.6" r="1.0"/><circle cx="227.2" cy="524.2" r="1.0"/><circle cx="242.4" cy="499.3" r="1.0"/><circle cx="223.6" cy="485.5" r="1.0"/><circle cx="242.0" cy="472.7" r="1.0"/><circle cx="210.4" cy="536.2" r="1.0"/><circle cx="214.7" cy="496.2" r="1.0"/><circle cx="225.9" cy="519.1" r="1.0"/><circle cx="218.5" cy="521.6" r="1.0"/><circle cx="229.6" cy="501.6" r="1.0"/><circle cx="223.1" cy="503.0" r="1.0"/><circle cx="242.5" cy="503.7" r="1.0"/><circle cx="212.1" cy="511.2" r="1.0"/><circle cx="247.1" cy="508.4" r="1.0"/><circle cx="215.9" cy="520.3" r="1.0"/><circle cx="215.0" cy="520.9" r="1.0"/><circle cx="212.6" cy="511.7" r="1.0"/><circle cx="219.7" cy="510.4" r="1.0"/><circle cx="243.9" cy="463.0" r="1.0"/><circle cx="219.5" cy="523.8" r="1.0"/><circle cx="213.4" cy="504.2" r="1.0"/><circle cx="212.3" cy="510.2" r="1.0"/></g><g fill="#f08c30" stroke="#cf7426" stroke-width="0.45"><circle cx="186.7" cy="495.0" r="1.0"/><circle cx="187.3" cy="494.2" r="1.0"/><circle cx="189.2" cy="498.3" r="1.0"/><circle cx="164.3" cy="498.3" r="1.0"/><circle cx="190.5" cy="498.0" r="1.0"/><circle cx="192.6" cy="484.1" r="1.0"/><circle cx="175.1" cy="496.4" r="1.0"/><circle cx="165.6" cy="485.6" r="1.0"/><circle cx="193.0" cy="486.1" r="1.0"/><circle cx="166.0" cy="499.0" r="1.0"/><circle cx="181.0" cy="491.6" r="1.0"/><circle cx="186.0" cy="496.6" r="1.0"/><circle cx="191.7" cy="493.8" r="1.0"/><circle cx="182.3" cy="488.2" r="1.0"/><circle cx="200.3" cy="477.4" r="1.0"/><circle cx="179.6" cy="484.7" r="1.0"/><circle cx="181.0" cy="500.1" r="1.0"/><circle cx="197.4" cy="485.9" r="1.0"/><circle cx="194.9" cy="493.8" r="1.0"/><circle cx="179.3" cy="495.3" r="1.0"/><circle cx="193.7" cy="495.2" r="1.0"/><circle cx="187.7" cy="497.1" r="1.0"/><circle cx="190.1" cy="486.7" r="1.0"/><circle cx="167.3" cy="496.8" r="1.0"/><circle cx="179.7" cy="491.0" r="1.0"/><circle cx="184.3" cy="495.3" r="1.0"/><circle cx="178.1" cy="496.7" r="1.0"/><circle cx="186.2" cy="500.1" r="1.0"/><circle cx="186.1" cy="497.1" r="1.0"/><circle cx="185.9" cy="499.6" r="1.0"/><circle cx="189.7" cy="486.4" r="1.0"/><circle cx="170.3" cy="495.6" r="1.0"/><circle cx="187.5" cy="489.2" r="1.0"/><circle cx="190.1" cy="493.1" r="1.0"/><circle cx="174.0" cy="500.2" r="1.0"/><circle cx="171.2" cy="499.1" r="1.0"/><circle cx="164.6" cy="482.9" r="1.0"/><circle cx="191.4" cy="491.9" r="1.0"/><circle cx="182.8" cy="495.5" r="1.0"/><circle cx="186.2" cy="497.3" r="1.0"/><circle cx="189.5" cy="497.6" r="1.0"/><circle cx="180.0" cy="500.4" r="1.0"/><circle cx="201.8" cy="476.8" r="1.0"/><circle cx="186.4" cy="499.5" r="1.0"/><circle cx="196.7" cy="491.6" r="1.0"/><circle cx="184.3" cy="494.7" r="1.0"/><circle cx="197.8" cy="490.5" r="1.0"/><circle cx="173.8" cy="494.8" r="1.0"/><circle cx="178.6" cy="498.7" r="1.0"/><circle cx="200.2" cy="478.1" r="1.0"/><circle cx="173.4" cy="497.9" r="1.0"/><circle cx="163.1" cy="481.6" r="1.0"/><circle cx="176.0" cy="494.1" r="1.0"/><circle cx="179.0" cy="498.2" r="1.0"/><circle cx="185.3" cy="494.7" r="1.0"/><circle cx="185.0" cy="498.8" r="1.0"/><circle cx="197.7" cy="491.6" r="1.0"/><circle cx="193.7" cy="487.1" r="1.0"/><circle cx="181.6" cy="484.0" r="1.0"/><circle cx="192.9" cy="485.5" r="1.0"/><circle cx="197.9" cy="486.7" r="1.0"/><circle cx="157.6" cy="483.7" r="1.0"/><circle cx="173.0" cy="498.1" r="1.0"/><circle cx="173.3" cy="497.6" r="1.0"/><circle cx="175.8" cy="494.2" r="1.0"/><circle cx="179.6" cy="488.3" r="1.0"/><circle cx="181.6" cy="500.3" r="1.0"/><circle cx="175.6" cy="497.7" r="1.0"/><circle cx="164.4" cy="495.6" r="1.0"/><circle cx="191.2" cy="493.2" r="1.0"/><circle cx="172.5" cy="493.5" r="1.0"/><circle cx="174.8" cy="495.5" r="1.0"/><circle cx="175.7" cy="499.7" r="1.0"/><circle cx="180.5" cy="496.9" r="1.0"/><circle cx="202.2" cy="486.9" r="1.0"/><circle cx="166.4" cy="495.3" r="1.0"/><circle cx="171.5" cy="499.3" r="1.0"/><circle cx="181.7" cy="491.0" r="1.0"/><circle cx="189.5" cy="496.9" r="1.0"/><circle cx="186.9" cy="499.1" r="1.0"/><circle cx="184.5" cy="496.0" r="1.0"/><circle cx="187.0" cy="499.3" r="1.0"/><circle cx="174.1" cy="494.5" r="1.0"/><circle cx="171.9" cy="496.5" r="1.0"/><circle cx="176.3" cy="496.7" r="1.0"/><circle cx="177.3" cy="493.3" r="1.0"/><circle cx="186.7" cy="495.1" r="1.0"/><circle cx="199.7" cy="468.5" r="1.0"/><circle cx="173.1" cy="491.5" r="1.0"/><circle cx="174.2" cy="498.4" r="1.0"/><circle cx="175.2" cy="492.4" r="1.0"/><circle cx="191.0" cy="490.0" r="1.0"/><circle cx="193.3" cy="471.3" r="1.0"/><circle cx="206.9" cy="481.2" r="1.0"/><circle cx="197.6" cy="489.6" r="1.0"/><circle cx="182.6" cy="499.9" r="1.0"/><circle cx="197.0" cy="485.4" r="1.0"/><circle cx="184.5" cy="494.6" r="1.0"/><circle cx="185.3" cy="492.2" r="1.0"/><circle cx="172.0" cy="494.8" r="1.0"/><circle cx="174.2" cy="493.8" r="1.0"/><circle cx="173.1" cy="495.5" r="1.0"/><circle cx="196.3" cy="486.2" r="1.0"/><circle cx="191.5" cy="494.0" r="1.0"/><circle cx="194.8" cy="493.7" r="1.0"/><circle cx="180.7" cy="496.1" r="1.0"/><circle cx="179.0" cy="487.0" r="1.0"/><circle cx="187.9" cy="499.0" r="1.0"/><circle cx="181.5" cy="496.0" r="1.0"/><circle cx="176.8" cy="465.3" r="1.0"/><circle cx="200.6" cy="490.2" r="1.0"/><circle cx="194.0" cy="472.2" r="1.0"/><circle cx="192.6" cy="490.3" r="1.0"/><circle cx="176.8" cy="496.7" r="1.0"/><circle cx="188.1" cy="496.5" r="1.0"/><circle cx="191.4" cy="484.9" r="1.0"/><circle cx="192.9" cy="492.4" r="1.0"/><circle cx="191.6" cy="492.4" r="1.0"/><circle cx="186.7" cy="498.1" r="1.0"/><circle cx="169.3" cy="481.5" r="1.0"/><circle cx="176.2" cy="495.6" r="1.0"/><circle cx="178.1" cy="488.1" r="1.0"/><circle cx="197.5" cy="488.6" r="1.0"/><circle cx="187.4" cy="498.4" r="1.0"/><circle cx="187.1" cy="497.0" r="1.0"/><circle cx="189.4" cy="495.6" r="1.0"/><circle cx="176.3" cy="494.6" r="1.0"/><circle cx="178.0" cy="496.6" r="1.0"/><circle cx="188.4" cy="498.2" r="1.0"/><circle cx="164.8" cy="477.4" r="1.0"/><circle cx="173.9" cy="498.7" r="1.0"/><circle cx="180.3" cy="492.9" r="1.0"/><circle cx="168.3" cy="498.7" r="1.0"/><circle cx="189.2" cy="487.1" r="1.0"/><circle cx="181.1" cy="497.0" r="1.0"/><circle cx="204.1" cy="484.4" r="1.0"/><circle cx="171.7" cy="495.6" r="1.0"/><circle cx="177.0" cy="495.5" r="1.0"/><circle cx="199.5" cy="490.6" r="1.0"/><circle cx="177.7" cy="473.4" r="1.0"/><circle cx="165.6" cy="487.3" r="1.0"/><circle cx="195.7" cy="480.8" r="1.0"/><circle cx="166.1" cy="483.7" r="1.0"/><circle cx="183.6" cy="464.2" r="1.0"/><circle cx="165.7" cy="484.0" r="1.0"/><circle cx="165.5" cy="487.3" r="1.0"/></g><g fill="#6cc45e" stroke="#3a8a36" stroke-width="0.45"><circle cx="142.2" cy="521.0" r="1.0"/><circle cx="113.1" cy="538.9" r="1.0"/><circle cx="104.0" cy="534.4" r="1.0"/><circle cx="144.1" cy="524.1" r="1.0"/><circle cx="137.0" cy="537.3" r="1.0"/><circle cx="100.9" cy="544.5" r="1.0"/><circle cx="145.1" cy="518.7" r="1.0"/><circle cx="118.6" cy="547.2" r="1.0"/><circle cx="132.6" cy="541.1" r="1.0"/><circle cx="144.1" cy="529.8" r="1.0"/><circle cx="136.0" cy="515.1" r="1.0"/><circle cx="144.4" cy="508.5" r="1.0"/><circle cx="132.7" cy="512.7" r="1.0"/><circle cx="135.9" cy="536.4" r="1.0"/><circle cx="147.6" cy="508.9" r="1.0"/><circle cx="147.2" cy="531.1" r="1.0"/><circle cx="147.6" cy="514.4" r="1.0"/><circle cx="145.2" cy="526.8" r="1.0"/><circle cx="121.9" cy="538.6" r="1.0"/><circle cx="146.3" cy="507.7" r="1.0"/><circle cx="138.2" cy="522.0" r="1.0"/><circle cx="126.5" cy="508.1" r="1.0"/><circle cx="120.4" cy="546.5" r="1.0"/><circle cx="120.9" cy="550.0" r="1.0"/><circle cx="146.7" cy="516.8" r="1.0"/><circle cx="145.4" cy="515.2" r="1.0"/><circle cx="94.9" cy="545.7" r="1.0"/><circle cx="121.8" cy="536.8" r="1.0"/><circle cx="139.7" cy="534.8" r="1.0"/><circle cx="127.4" cy="538.9" r="1.0"/><circle cx="135.3" cy="531.5" r="1.0"/><circle cx="139.9" cy="505.1" r="1.0"/><circle cx="149.1" cy="516.0" r="1.0"/><circle cx="135.8" cy="537.3" r="1.0"/><circle cx="124.5" cy="543.1" r="1.0"/><circle cx="139.6" cy="531.6" r="1.0"/><circle cx="132.2" cy="531.2" r="1.0"/><circle cx="127.7" cy="535.0" r="1.0"/><circle cx="120.5" cy="535.1" r="1.0"/><circle cx="147.2" cy="517.1" r="1.0"/><circle cx="143.8" cy="526.8" r="1.0"/><circle cx="93.8" cy="544.6" r="1.0"/><circle cx="124.1" cy="546.2" r="1.0"/><circle cx="130.6" cy="542.0" r="1.0"/><circle cx="144.6" cy="531.0" r="1.0"/><circle cx="128.9" cy="545.1" r="1.0"/><circle cx="122.0" cy="550.0" r="1.0"/><circle cx="121.9" cy="545.7" r="1.0"/><circle cx="135.9" cy="505.4" r="1.0"/><circle cx="131.9" cy="527.5" r="1.0"/><circle cx="145.4" cy="531.7" r="1.0"/><circle cx="145.3" cy="517.0" r="1.0"/><circle cx="132.3" cy="530.0" r="1.0"/><circle cx="130.3" cy="526.9" r="1.0"/><circle cx="129.8" cy="533.8" r="1.0"/><circle cx="114.6" cy="540.6" r="1.0"/><circle cx="116.3" cy="523.6" r="1.0"/><circle cx="127.3" cy="529.8" r="1.0"/><circle cx="143.9" cy="532.1" r="1.0"/><circle cx="129.0" cy="539.8" r="1.0"/><circle cx="131.5" cy="526.7" r="1.0"/><circle cx="131.7" cy="531.6" r="1.0"/><circle cx="144.1" cy="526.4" r="1.0"/><circle cx="142.1" cy="527.6" r="1.0"/><circle cx="138.1" cy="526.7" r="1.0"/><circle cx="130.5" cy="514.0" r="1.0"/><circle cx="121.9" cy="515.3" r="1.0"/><circle cx="138.1" cy="526.0" r="1.0"/><circle cx="129.5" cy="537.4" r="1.0"/><circle cx="116.1" cy="544.3" r="1.0"/><circle cx="134.0" cy="526.1" r="1.0"/><circle cx="140.8" cy="536.7" r="1.0"/><circle cx="143.1" cy="520.9" r="1.0"/><circle cx="92.6" cy="555.7" r="1.0"/><circle cx="119.9" cy="546.0" r="1.0"/><circle cx="147.9" cy="523.6" r="1.0"/><circle cx="96.9" cy="534.4" r="1.0"/><circle cx="116.7" cy="516.3" r="1.0"/><circle cx="145.6" cy="517.8" r="1.0"/><circle cx="147.4" cy="521.3" r="1.0"/><circle cx="136.4" cy="503.1" r="1.0"/><circle cx="142.8" cy="511.2" r="1.0"/><circle cx="146.4" cy="526.0" r="1.0"/><circle cx="148.1" cy="512.1" r="1.0"/><circle cx="132.7" cy="515.8" r="1.0"/><circle cx="125.2" cy="530.6" r="1.0"/><circle cx="110.5" cy="554.6" r="1.0"/><circle cx="142.8" cy="517.8" r="1.0"/><circle cx="127.9" cy="545.8" r="1.0"/><circle cx="95.1" cy="545.1" r="1.0"/><circle cx="144.9" cy="502.2" r="1.0"/><circle cx="130.7" cy="502.5" r="1.0"/><circle cx="134.2" cy="535.5" r="1.0"/><circle cx="137.3" cy="525.8" r="1.0"/><circle cx="141.1" cy="517.6" r="1.0"/><circle cx="146.2" cy="526.3" r="1.0"/><circle cx="146.9" cy="531.5" r="1.0"/><circle cx="135.3" cy="511.9" r="1.0"/><circle cx="131.7" cy="520.4" r="1.0"/><circle cx="127.7" cy="542.8" r="1.0"/><circle cx="124.6" cy="545.8" r="1.0"/><circle cx="140.1" cy="527.0" r="1.0"/><circle cx="141.6" cy="526.4" r="1.0"/><circle cx="146.0" cy="521.6" r="1.0"/><circle cx="141.1" cy="509.4" r="1.0"/><circle cx="109.6" cy="532.1" r="1.0"/><circle cx="114.8" cy="503.5" r="1.0"/><circle cx="99.3" cy="547.2" r="1.0"/><circle cx="132.4" cy="541.8" r="1.0"/><circle cx="140.8" cy="528.2" r="1.0"/><circle cx="131.0" cy="544.3" r="1.0"/><circle cx="122.9" cy="549.1" r="1.0"/><circle cx="138.9" cy="523.8" r="1.0"/><circle cx="114.7" cy="535.3" r="1.0"/><circle cx="146.3" cy="508.6" r="1.0"/><circle cx="144.2" cy="513.2" r="1.0"/><circle cx="138.1" cy="532.0" r="1.0"/><circle cx="141.2" cy="530.4" r="1.0"/><circle cx="134.9" cy="517.2" r="1.0"/><circle cx="96.3" cy="557.1" r="1.0"/><circle cx="141.8" cy="508.0" r="1.0"/><circle cx="136.4" cy="514.5" r="1.0"/><circle cx="128.2" cy="544.5" r="1.0"/><circle cx="148.3" cy="526.8" r="1.0"/><circle cx="142.5" cy="531.2" r="1.0"/><circle cx="142.9" cy="532.6" r="1.0"/><circle cx="148.8" cy="514.4" r="1.0"/><circle cx="122.7" cy="547.2" r="1.0"/><circle cx="147.4" cy="503.2" r="1.0"/><circle cx="147.7" cy="528.2" r="1.0"/><circle cx="136.6" cy="532.4" r="1.0"/><circle cx="120.4" cy="537.3" r="1.0"/><circle cx="135.4" cy="530.8" r="1.0"/><circle cx="147.2" cy="519.5" r="1.0"/><circle cx="134.7" cy="537.9" r="1.0"/><circle cx="134.5" cy="512.9" r="1.0"/><circle cx="132.0" cy="529.5" r="1.0"/><circle cx="145.7" cy="510.5" r="1.0"/><circle cx="138.3" cy="514.0" r="1.0"/><circle cx="148.4" cy="523.3" r="1.0"/><circle cx="137.0" cy="532.4" r="1.0"/><circle cx="120.7" cy="536.4" r="1.0"/><circle cx="142.8" cy="524.4" r="1.0"/><circle cx="149.2" cy="528.9" r="1.0"/><circle cx="109.7" cy="541.7" r="1.0"/><circle cx="96.2" cy="541.9" r="1.0"/><circle cx="127.8" cy="544.6" r="1.0"/><circle cx="138.5" cy="518.0" r="1.0"/><circle cx="139.4" cy="514.8" r="1.0"/><circle cx="141.4" cy="513.1" r="1.0"/><circle cx="144.9" cy="519.0" r="1.0"/><circle cx="138.8" cy="522.1" r="1.0"/><circle cx="148.2" cy="525.0" r="1.0"/><circle cx="125.7" cy="544.7" r="1.0"/><circle cx="131.6" cy="515.0" r="1.0"/><circle cx="140.1" cy="526.4" r="1.0"/><circle cx="122.9" cy="550.2" r="1.0"/><circle cx="137.4" cy="532.6" r="1.0"/><circle cx="134.0" cy="513.3" r="1.0"/><circle cx="112.2" cy="543.4" r="1.0"/><circle cx="127.2" cy="545.7" r="1.0"/><circle cx="131.3" cy="529.5" r="1.0"/><circle cx="135.8" cy="529.1" r="1.0"/><circle cx="145.6" cy="528.4" r="1.0"/><circle cx="119.6" cy="537.5" r="1.0"/><circle cx="148.5" cy="510.0" r="1.0"/><circle cx="116.0" cy="533.1" r="1.0"/><circle cx="145.5" cy="517.7" r="1.0"/><circle cx="137.7" cy="535.3" r="1.0"/><circle cx="143.4" cy="530.3" r="1.0"/><circle cx="145.8" cy="532.0" r="1.0"/><circle cx="129.8" cy="521.4" r="1.0"/><circle cx="138.9" cy="525.0" r="1.0"/><circle cx="100.1" cy="536.0" r="1.0"/><circle cx="137.5" cy="509.3" r="1.0"/><circle cx="124.0" cy="541.9" r="1.0"/><circle cx="147.9" cy="502.5" r="1.0"/><circle cx="123.4" cy="530.3" r="1.0"/><circle cx="146.9" cy="502.2" r="1.0"/><circle cx="131.0" cy="522.3" r="1.0"/><circle cx="147.8" cy="521.5" r="1.0"/><circle cx="124.5" cy="547.0" r="1.0"/><circle cx="148.5" cy="519.2" r="1.0"/><circle cx="113.3" cy="536.5" r="1.0"/><circle cx="144.4" cy="532.2" r="1.0"/><circle cx="115.2" cy="516.3" r="1.0"/><circle cx="126.6" cy="542.8" r="1.0"/><circle cx="123.2" cy="550.4" r="1.0"/><circle cx="145.7" cy="524.6" r="1.0"/><circle cx="90.3" cy="558.1" r="1.0"/><circle cx="146.0" cy="503.8" r="1.0"/><circle cx="122.3" cy="544.4" r="1.0"/><circle cx="133.6" cy="540.5" r="1.0"/><circle cx="124.0" cy="527.0" r="1.0"/><circle cx="115.9" cy="525.1" r="1.0"/><circle cx="137.6" cy="526.4" r="1.0"/><circle cx="130.2" cy="511.1" r="1.0"/><circle cx="109.8" cy="549.6" r="1.0"/><circle cx="148.7" cy="510.6" r="1.0"/><circle cx="133.9" cy="514.0" r="1.0"/><circle cx="122.5" cy="547.0" r="1.0"/><circle cx="128.6" cy="533.7" r="1.0"/><circle cx="144.7" cy="526.8" r="1.0"/><circle cx="140.8" cy="507.8" r="1.0"/><circle cx="134.2" cy="533.5" r="1.0"/><circle cx="123.0" cy="511.1" r="1.0"/><circle cx="120.3" cy="551.4" r="1.0"/><circle cx="143.1" cy="521.5" r="1.0"/><circle cx="145.0" cy="533.3" r="1.0"/><circle cx="138.0" cy="537.9" r="1.0"/><circle cx="148.7" cy="510.3" r="1.0"/><circle cx="131.9" cy="526.7" r="1.0"/><circle cx="147.9" cy="513.3" r="1.0"/><circle cx="135.4" cy="533.1" r="1.0"/><circle cx="144.5" cy="530.3" r="1.0"/><circle cx="136.9" cy="529.9" r="1.0"/><circle cx="132.7" cy="518.6" r="1.0"/><circle cx="143.2" cy="514.5" r="1.0"/><circle cx="143.6" cy="504.7" r="1.0"/><circle cx="145.0" cy="513.9" r="1.0"/><circle cx="124.3" cy="514.6" r="1.0"/><circle cx="140.9" cy="530.0" r="1.0"/><circle cx="130.8" cy="541.7" r="1.0"/><circle cx="145.6" cy="531.0" r="1.0"/><circle cx="129.5" cy="534.9" r="1.0"/><circle cx="101.5" cy="522.9" r="1.0"/><circle cx="135.0" cy="532.2" r="1.0"/><circle cx="142.0" cy="534.7" r="1.0"/><circle cx="142.6" cy="535.3" r="1.0"/><circle cx="121.3" cy="538.8" r="1.0"/><circle cx="137.2" cy="516.8" r="1.0"/><circle cx="141.5" cy="511.5" r="1.0"/><circle cx="147.7" cy="529.7" r="1.0"/><circle cx="95.8" cy="504.7" r="1.0"/><circle cx="135.1" cy="539.2" r="1.0"/><circle cx="121.1" cy="536.7" r="1.0"/><circle cx="120.6" cy="530.5" r="1.0"/><circle cx="133.6" cy="538.4" r="1.0"/><circle cx="146.4" cy="530.7" r="1.0"/><circle cx="138.6" cy="531.1" r="1.0"/><circle cx="91.4" cy="557.8" r="1.0"/><circle cx="122.6" cy="548.3" r="1.0"/><circle cx="144.6" cy="514.1" r="1.0"/><circle cx="132.8" cy="532.0" r="1.0"/><circle cx="141.2" cy="533.3" r="1.0"/><circle cx="126.9" cy="537.5" r="1.0"/><circle cx="132.0" cy="506.3" r="1.0"/><circle cx="147.8" cy="519.4" r="1.0"/><circle cx="131.1" cy="539.6" r="1.0"/><circle cx="137.7" cy="538.9" r="1.0"/><circle cx="135.7" cy="539.2" r="1.0"/><circle cx="146.5" cy="516.9" r="1.0"/><circle cx="134.8" cy="536.3" r="1.0"/><circle cx="132.8" cy="534.9" r="1.0"/><circle cx="126.5" cy="546.8" r="1.0"/><circle cx="114.7" cy="544.1" r="1.0"/><circle cx="145.7" cy="525.5" r="1.0"/><circle cx="130.7" cy="542.5" r="1.0"/><circle cx="103.6" cy="553.4" r="1.0"/><circle cx="139.3" cy="536.4" r="1.0"/><circle cx="145.4" cy="529.0" r="1.0"/><circle cx="134.4" cy="519.5" r="1.0"/><circle cx="146.4" cy="527.1" r="1.0"/><circle cx="131.9" cy="537.8" r="1.0"/><circle cx="148.7" cy="504.7" r="1.0"/><circle cx="111.2" cy="523.0" r="1.0"/><circle cx="113.0" cy="553.3" r="1.0"/><circle cx="142.3" cy="515.6" r="1.0"/><circle cx="131.3" cy="522.7" r="1.0"/><circle cx="134.1" cy="536.2" r="1.0"/><circle cx="144.1" cy="532.3" r="1.0"/><circle cx="148.1" cy="512.1" r="1.0"/><circle cx="149.1" cy="519.8" r="1.0"/><circle cx="140.9" cy="528.7" r="1.0"/><circle cx="147.9" cy="525.2" r="1.0"/><circle cx="148.9" cy="517.5" r="1.0"/><circle cx="136.9" cy="534.1" r="1.0"/><circle cx="100.9" cy="511.4" r="1.0"/><circle cx="136.3" cy="505.0" r="1.0"/><circle cx="141.1" cy="506.0" r="1.0"/><circle cx="121.0" cy="542.7" r="1.0"/><circle cx="124.0" cy="540.5" r="1.0"/><circle cx="145.7" cy="521.2" r="1.0"/><circle cx="147.0" cy="504.3" r="1.0"/><circle cx="143.8" cy="519.4" r="1.0"/><circle cx="118.2" cy="534.5" r="1.0"/><circle cx="104.3" cy="530.6" r="1.0"/><circle cx="127.1" cy="517.9" r="1.0"/><circle cx="132.3" cy="519.8" r="1.0"/><circle cx="134.3" cy="525.2" r="1.0"/><circle cx="96.1" cy="551.1" r="1.0"/><circle cx="145.3" cy="518.1" r="1.0"/><circle cx="142.2" cy="508.3" r="1.0"/><circle cx="130.3" cy="545.0" r="1.0"/><circle cx="144.9" cy="512.6" r="1.0"/><circle cx="139.8" cy="512.7" r="1.0"/><circle cx="137.4" cy="537.0" r="1.0"/><circle cx="147.4" cy="510.7" r="1.0"/><circle cx="131.4" cy="523.4" r="1.0"/><circle cx="136.0" cy="525.1" r="1.0"/><circle cx="128.6" cy="510.5" r="1.0"/><circle cx="144.8" cy="528.0" r="1.0"/><circle cx="144.4" cy="519.5" r="1.0"/><circle cx="107.9" cy="530.8" r="1.0"/><circle cx="101.0" cy="556.8" r="1.0"/><circle cx="131.4" cy="513.6" r="1.0"/><circle cx="142.7" cy="527.4" r="1.0"/><circle cx="105.0" cy="524.6" r="1.0"/><circle cx="130.8" cy="515.2" r="1.0"/><circle cx="90.5" cy="530.6" r="1.0"/><circle cx="143.1" cy="532.8" r="1.0"/><circle cx="145.7" cy="526.5" r="1.0"/><circle cx="133.4" cy="534.1" r="1.0"/><circle cx="146.2" cy="530.6" r="1.0"/><circle cx="127.6" cy="510.3" r="1.0"/><circle cx="146.8" cy="516.4" r="1.0"/><circle cx="134.9" cy="505.0" r="1.0"/><circle cx="121.3" cy="522.8" r="1.0"/><circle cx="141.4" cy="521.6" r="1.0"/><circle cx="96.3" cy="557.5" r="1.0"/></g><g fill="#8e44b4" stroke="#5a2a80" stroke-width="0.45"><circle cx="194.0" cy="578.5" r="1.0"/><circle cx="187.9" cy="559.9" r="1.0"/><circle cx="184.7" cy="571.1" r="1.0"/><circle cx="191.6" cy="564.2" r="1.0"/><circle cx="178.0" cy="567.7" r="1.0"/><circle cx="176.9" cy="572.8" r="1.0"/><circle cx="179.2" cy="566.0" r="1.0"/><circle cx="175.1" cy="570.9" r="1.0"/><circle cx="171.3" cy="572.7" r="1.0"/><circle cx="185.2" cy="561.2" r="1.0"/><circle cx="163.0" cy="584.5" r="1.0"/><circle cx="157.9" cy="598.1" r="1.0"/><circle cx="190.9" cy="561.8" r="1.0"/><circle cx="191.1" cy="571.0" r="1.0"/><circle cx="167.4" cy="590.4" r="1.0"/><circle cx="171.0" cy="591.8" r="1.0"/><circle cx="187.9" cy="559.5" r="1.0"/><circle cx="189.2" cy="564.2" r="1.0"/><circle cx="182.8" cy="565.4" r="1.0"/><circle cx="197.2" cy="559.0" r="1.0"/><circle cx="184.5" cy="563.3" r="1.0"/><circle cx="176.2" cy="572.4" r="1.0"/><circle cx="198.1" cy="567.0" r="1.0"/><circle cx="186.8" cy="560.3" r="1.0"/><circle cx="175.7" cy="572.9" r="1.0"/><circle cx="175.9" cy="568.5" r="1.0"/><circle cx="177.6" cy="571.7" r="1.0"/><circle cx="192.1" cy="565.7" r="1.0"/><circle cx="189.1" cy="561.7" r="1.0"/><circle cx="175.5" cy="569.8" r="1.0"/><circle cx="179.2" cy="566.9" r="1.0"/><circle cx="169.3" cy="574.5" r="1.0"/><circle cx="161.2" cy="583.1" r="1.0"/><circle cx="190.2" cy="569.7" r="1.0"/><circle cx="165.4" cy="578.0" r="1.0"/><circle cx="182.6" cy="566.1" r="1.0"/><circle cx="179.2" cy="569.2" r="1.0"/><circle cx="175.3" cy="570.2" r="1.0"/><circle cx="177.4" cy="568.2" r="1.0"/><circle cx="189.9" cy="564.4" r="1.0"/><circle cx="188.0" cy="560.9" r="1.0"/><circle cx="182.1" cy="564.4" r="1.0"/><circle cx="188.7" cy="572.9" r="1.0"/><circle cx="165.2" cy="577.2" r="1.0"/><circle cx="183.7" cy="566.4" r="1.0"/><circle cx="189.0" cy="570.4" r="1.0"/><circle cx="191.3" cy="559.0" r="1.0"/><circle cx="160.8" cy="579.9" r="1.0"/><circle cx="173.8" cy="569.6" r="1.0"/><circle cx="190.2" cy="561.7" r="1.0"/><circle cx="195.9" cy="560.4" r="1.0"/><circle cx="196.5" cy="561.4" r="1.0"/><circle cx="189.9" cy="559.7" r="1.0"/><circle cx="199.5" cy="562.6" r="1.0"/><circle cx="181.6" cy="597.0" r="1.0"/><circle cx="188.3" cy="566.9" r="1.0"/><circle cx="179.1" cy="589.8" r="1.0"/><circle cx="169.5" cy="594.5" r="1.0"/><circle cx="174.7" cy="569.2" r="1.0"/><circle cx="173.9" cy="574.5" r="1.0"/><circle cx="157.7" cy="623.3" r="1.0"/><circle cx="181.9" cy="574.2" r="1.0"/><circle cx="181.6" cy="569.6" r="1.0"/><circle cx="212.5" cy="559.1" r="1.0"/><circle cx="187.4" cy="569.2" r="1.0"/><circle cx="207.4" cy="567.6" r="1.0"/><circle cx="178.7" cy="583.5" r="1.0"/><circle cx="177.9" cy="568.6" r="1.0"/><circle cx="181.9" cy="567.6" r="1.0"/><circle cx="166.1" cy="580.3" r="1.0"/><circle cx="198.6" cy="562.1" r="1.0"/><circle cx="169.5" cy="585.2" r="1.0"/></g><circle cx="242" cy="532" r="1.1" fill="#3568ae" stroke="#555" stroke-width="0.3"/><circle cx="195" cy="463.5" r="1.1" fill="#ee8a2a" stroke="#555" stroke-width="0.3"/><circle cx="200" cy="471" r="1.1" fill="#ee8a2a" stroke="#555" stroke-width="0.3"/><line x1="39.00" y1="613.40" x2="245.00" y2="454.50" stroke="#222" stroke-width="1.45" stroke-dasharray="0.1 3.9" stroke-linecap="round"/><line x1="38.50" y1="675.60" x2="273.00" y2="495.00" stroke="#222" stroke-width="1.45" stroke-dasharray="0.1 3.9" stroke-linecap="round"/><line x1="38.50" y1="500.50" x2="273.00" y2="500.50" stroke="#222" stroke-width="1.45" stroke-dasharray="0.1 3.9" stroke-linecap="round"/><line x1="38.50" y1="558.90" x2="273.00" y2="558.90" stroke="#222" stroke-width="1.45" stroke-dasharray="0.1 3.9" stroke-linecap="round"/><line x1="150.00" y1="457.00" x2="150.00" y2="676.50" stroke="#222" stroke-width="1.45" stroke-dasharray="0.1 3.9" stroke-linecap="round"/><line x1="225.00" y1="457.00" x2="225.00" y2="676.50" stroke="#222" stroke-width="1.45" stroke-dasharray="0.1 3.9" stroke-linecap="round"/><text x="187.10" y="457.82" font-size="4.5" fill="#e35a5a" font-weight="normal" text-anchor="start" >177</text><text x="197.30" y="462.82" font-size="4.5" fill="#3568ae" font-weight="normal" text-anchor="start" stroke="#3568ae" stroke-width="0.08">MORC2</text><text x="199.60" y="470.82" font-size="4.5" fill="#3568ae" font-weight="normal" text-anchor="start" stroke="#3568ae" stroke-width="0.08">DEFB136B</text><text x="166.50" y="475.62" font-size="4.5" fill="#3568ae" font-weight="normal" text-anchor="start" stroke="#3568ae" stroke-width="0.08">FAM209A</text><text x="189.00" y="477.02" font-size="4.5" fill="#3568ae" font-weight="normal" text-anchor="start" stroke="#3568ae" stroke-width="0.08">COBE1</text><text x="179.40" y="484.62" font-size="4.5" fill="#0a0a0a" font-weight="normal" text-anchor="start" stroke="#0a0a0a" stroke-width="0.18">RAE1 BMP1</text><text x="260.00" y="497.02" font-size="4.5" fill="#555" font-weight="normal" text-anchor="start" >PTEN</text><text x="242.30" y="530.62" font-size="4.5" fill="#3568ae" font-weight="normal" text-anchor="start" stroke="#3568ae" stroke-width="0.08">CSK</text><text x="272.50" y="530.62" font-size="4.5" fill="#e35a5a" font-weight="normal" text-anchor="start" >1</text><text x="40.00" y="530.42" font-size="4.5" fill="#e35a5a" font-weight="normal" text-anchor="start" >395</text><text x="55.40" y="526.22" font-size="4.5" fill="#3568ae" font-weight="normal" text-anchor="start" stroke="#3568ae" stroke-width="0.08">RAD51</text><text x="72.70" y="530.12" font-size="4.5" fill="#3568ae" font-weight="normal" text-anchor="start" stroke="#3568ae" stroke-width="0.08">WASH1</text><text x="65.00" y="536.22" font-size="4.5" fill="#3568ae" font-weight="normal" text-anchor="start" stroke="#3568ae" stroke-width="0.08">AARS</text><text x="50.60" y="543.92" font-size="4.5" fill="#3568ae" font-weight="normal" text-anchor="start" stroke="#3568ae" stroke-width="0.08">CDC20</text><text x="56.30" y="556.42" font-size="4.5" fill="#3568ae" font-weight="normal" text-anchor="start" stroke="#3568ae" stroke-width="0.08">BUD31</text><text x="97.50" y="563.62" font-size="4.5" fill="#0a0a0a" font-weight="normal" text-anchor="start" stroke="#0a0a0a" stroke-width="0.18">CCNE2</text><text x="125.40" y="566.42" font-size="4.5" fill="#0a0a0a" font-weight="normal" text-anchor="start" stroke="#0a0a0a" stroke-width="0.18">RRM2</text><text x="142.70" y="565.42" font-size="4.5" fill="#0a0a0a" font-weight="normal" text-anchor="start" stroke="#0a0a0a" stroke-width="0.18">ERBB2</text><text x="133.00" y="559.92" font-size="4.5" fill="#0a0a0a" font-weight="normal" text-anchor="start" stroke="#0a0a0a" stroke-width="0.18">AKT1</text><text x="158.80" y="562.42" font-size="4.5" fill="#0a0a0a" font-weight="normal" text-anchor="start" stroke="#0a0a0a" stroke-width="0.18">CCND2</text><text x="112.90" y="573.12" font-size="4.5" fill="#0a0a0a" font-weight="normal" text-anchor="start" stroke="#0a0a0a" stroke-width="0.18">AURKB</text><text x="140.80" y="572.02" font-size="4.5" fill="#0a0a0a" font-weight="normal" text-anchor="start" stroke="#0a0a0a" stroke-width="0.18">MYC</text><text x="99.40" y="581.25" font-size="6.8" fill="#111" font-weight="bold" text-anchor="start" stroke="#111" stroke-width="0.18">CDK7</text><text x="130.20" y="580.82" font-size="4.5" fill="#0a0a0a" font-weight="normal" text-anchor="start" stroke="#0a0a0a" stroke-width="0.18">CDK4</text><text x="92.70" y="588.92" font-size="4.5" fill="#0a0a0a" font-weight="normal" text-anchor="start" stroke="#0a0a0a" stroke-width="0.18">CDK12</text><text x="112.00" y="589.52" font-size="4.5" fill="#0a0a0a" font-weight="normal" text-anchor="start" stroke="#0a0a0a" stroke-width="0.18">CDK1</text><text x="95.60" y="598.12" font-size="4.5" fill="#0a0a0a" font-weight="normal" text-anchor="start" stroke="#0a0a0a" stroke-width="0.18">PIK3CA</text><text x="82.00" y="611.22" font-size="4.5" fill="#333" font-weight="normal" text-anchor="start" stroke="#333" stroke-width="0.18">MCM5</text><text x="195.40" y="559.92" font-size="4.5" fill="#3568ae" font-weight="normal" text-anchor="start" stroke="#3568ae" stroke-width="0.08">KANMA</text><text x="185.80" y="590.62" font-size="4.5" fill="#3568ae" font-weight="normal" text-anchor="start" stroke="#3568ae" stroke-width="0.08">SAFB2</text><text x="150.20" y="599.32" font-size="4.5" fill="#3568ae" font-weight="normal" text-anchor="start" stroke="#3568ae" stroke-width="0.08">RNF3</text><text x="138.70" y="607.42" font-size="4.5" fill="#3568ae" font-weight="normal" text-anchor="start" stroke="#3568ae" stroke-width="0.08">MKI67</text><text x="159.80" y="611.22" font-size="4.5" fill="#3568ae" font-weight="normal" text-anchor="start" stroke="#3568ae" stroke-width="0.08">HJURP</text><text x="147.30" y="618.62" font-size="4.5" fill="#3568ae" font-weight="normal" text-anchor="start" stroke="#3568ae" stroke-width="0.08">CMPS</text><text x="141.50" y="634.92" font-size="4.5" fill="#3568ae" font-weight="normal" text-anchor="start" stroke="#3568ae" stroke-width="0.08">FRDY4B</text><text x="186.50" y="674.92" font-size="4.5" fill="#e35a5a" font-weight="normal" text-anchor="start" >91</text><text x="195.40" y="507.12" font-size="4.5" fill="#9a9a9a" font-weight="normal" text-anchor="start" >CCND2</text><text x="166.00" y="511.12" font-size="4.5" fill="#9a9a9a" font-weight="normal" text-anchor="start" >CCNB1</text><text x="167.70" y="519.22" font-size="4.5" fill="#9a9a9a" font-weight="normal" text-anchor="start" >FAM122A</text><text x="172.00" y="526.32" font-size="4.5" fill="#9a9a9a" font-weight="normal" text-anchor="start" >CCNF</text><text x="195.40" y="521.82" font-size="4.5" fill="#9a9a9a" font-weight="normal" text-anchor="start" >CUL3</text><text x="160.80" y="533.32" font-size="4.5" fill="#9a9a9a" font-weight="normal" text-anchor="start" >CDK6</text><text x="184.10" y="534.12" font-size="4.5" fill="#9a9a9a" font-weight="normal" text-anchor="start" >CCND3</text><text x="190.20" y="540.92" font-size="4.5" fill="#9a9a9a" font-weight="normal" text-anchor="start" >TP53</text><text x="178.00" y="553.82" font-size="4.5" fill="#9a9a9a" font-weight="normal" text-anchor="start" >RPRD</text><line x1="37.50" y1="455.00" x2="37.50" y2="677.50" stroke="#1a1a1a" stroke-width="1.0" /><line x1="37.50" y1="677.50" x2="273.00" y2="677.50" stroke="#333" stroke-width="1.0" /><line x1="35.50" y1="456.70" x2="37.50" y2="456.70" stroke="#333" stroke-width="0.8" /><text x="35.10" y="459.00" font-size="6.4" fill="#4a4a4a" font-weight="normal" text-anchor="end" >2.5</text><line x1="35.50" y1="529.70" x2="37.50" y2="529.70" stroke="#333" stroke-width="0.8" /><text x="35.10" y="532.00" font-size="6.4" fill="#4a4a4a" font-weight="normal" text-anchor="end" >0.0</text><line x1="35.50" y1="602.70" x2="37.50" y2="602.70" stroke="#333" stroke-width="0.8" /><text x="35.10" y="605.00" font-size="6.4" fill="#4a4a4a" font-weight="normal" text-anchor="end" >−2.5</text><line x1="35.50" y1="675.70" x2="37.50" y2="675.70" stroke="#333" stroke-width="0.8" /><text x="35.10" y="678.00" font-size="6.4" fill="#4a4a4a" font-weight="normal" text-anchor="end" >−5.0</text><line x1="112.50" y1="677.50" x2="112.50" y2="679.50" stroke="#333" stroke-width="0.8" /><text x="113.50" y="686.00" font-size="6.4" fill="#4a4a4a" font-weight="normal" text-anchor="middle" >−2</text><line x1="187.50" y1="677.50" x2="187.50" y2="679.50" stroke="#333" stroke-width="0.8" /><text x="187.50" y="686.00" font-size="6.4" fill="#4a4a4a" font-weight="normal" text-anchor="middle" >0</text><line x1="262.50" y1="677.50" x2="262.50" y2="679.50" stroke="#333" stroke-width="0.8" /><text x="262.50" y="686.00" font-size="6.4" fill="#4a4a4a" font-weight="normal" text-anchor="middle" >2</text><text x="149.00" y="697.30" font-size="6.45" fill="#333" font-weight="normal" text-anchor="middle" >β-score, T47D PalboS CTR</text><text x="0" y="0" font-size="6.4" fill="#333" text-anchor="middle" xml:space="preserve" transform="translate(16.5,547.5) rotate(-90)">β-score,  T47D PalboR Palbo 1 μmol/L</text><text x="326.00" y="164.20" font-size="14" fill="#111" font-weight="bold" text-anchor="start" >C</text><text x="383.80" y="164.10" font-size="7.3" fill="#222" font-weight="bold" text-anchor="start" >Essentiality of genes of interest</text><text x="453.70" y="176.43" font-size="5.5" fill="#222" font-weight="normal" text-anchor="start" stroke="#222" stroke-width="0.12">PTEN</text><text x="453.70" y="183.70" font-size="5.5" fill="#222" font-weight="normal" text-anchor="start" stroke="#222" stroke-width="0.12">TP53</text><text x="453.70" y="190.96" font-size="5.5" fill="#222" font-weight="normal" text-anchor="start" stroke="#222" stroke-width="0.12">RB1</text><text x="453.70" y="198.23" font-size="5.5" fill="#222" font-weight="normal" text-anchor="start" stroke="#222" stroke-width="0.12">CDK1</text><text x="453.70" y="205.49" font-size="5.5" fill="#222" font-weight="normal" text-anchor="start" stroke="#222" stroke-width="0.12">CDK2</text><text x="453.70" y="212.75" font-size="5.5" fill="#222" font-weight="normal" text-anchor="start" stroke="#222" stroke-width="0.12">CDK4</text><text x="453.70" y="220.02" font-size="5.5" fill="#222" font-weight="normal" text-anchor="start" stroke="#222" stroke-width="0.12">CDK6</text><text x="453.70" y="227.28" font-size="5.5" fill="#222" font-weight="normal" text-anchor="start" stroke="#222" stroke-width="0.12">CDK7</text><text x="453.70" y="234.55" font-size="5.5" fill="#222" font-weight="normal" text-anchor="start" stroke="#222" stroke-width="0.12">CDK9</text><text x="453.70" y="241.81" font-size="5.5" fill="#222" font-weight="normal" text-anchor="start" stroke="#222" stroke-width="0.12">CDK12</text><text x="453.70" y="249.08" font-size="5.5" fill="#222" font-weight="normal" text-anchor="start" stroke="#222" stroke-width="0.12">CCND1</text><text x="453.70" y="256.34" font-size="5.5" fill="#222" font-weight="normal" text-anchor="start" stroke="#222" stroke-width="0.12">CCND2</text><text x="453.70" y="263.60" font-size="5.5" fill="#222" font-weight="normal" text-anchor="start" stroke="#222" stroke-width="0.12">CCND3</text><text x="453.70" y="270.87" font-size="5.5" fill="#222" font-weight="normal" text-anchor="start" stroke="#222" stroke-width="0.12">CCNE1</text><text x="453.70" y="278.13" font-size="5.5" fill="#222" font-weight="normal" text-anchor="start" stroke="#222" stroke-width="0.12">CCNE2</text><text x="453.70" y="285.40" font-size="5.5" fill="#222" font-weight="normal" text-anchor="start" stroke="#222" stroke-width="0.12">CCNA2</text><text x="453.70" y="292.66" font-size="5.5" fill="#222" font-weight="normal" text-anchor="start" stroke="#222" stroke-width="0.12">CDKN1A</text><text x="453.70" y="299.93" font-size="5.5" fill="#222" font-weight="normal" text-anchor="start" stroke="#222" stroke-width="0.12">CDKN1B</text><text x="453.70" y="307.19" font-size="5.5" fill="#222" font-weight="normal" text-anchor="start" stroke="#222" stroke-width="0.12">CDKN2A</text><text x="453.70" y="314.45" font-size="5.5" fill="#222" font-weight="normal" text-anchor="start" stroke="#222" stroke-width="0.12">AURKA</text><text x="453.70" y="321.72" font-size="5.5" fill="#222" font-weight="normal" text-anchor="start" stroke="#222" stroke-width="0.12">AURKB</text><text x="453.70" y="328.98" font-size="5.5" fill="#222" font-weight="normal" text-anchor="start" stroke="#222" stroke-width="0.12">MYC</text><text x="453.70" y="336.25" font-size="5.5" fill="#222" font-weight="normal" text-anchor="start" stroke="#222" stroke-width="0.12">MCM5</text><text x="453.70" y="343.51" font-size="5.5" fill="#222" font-weight="normal" text-anchor="start" stroke="#222" stroke-width="0.12">RRM2</text><text x="453.70" y="350.77" font-size="5.5" fill="#222" font-weight="normal" text-anchor="start" stroke="#222" stroke-width="0.12">PIK3CA</text><text x="453.70" y="358.04" font-size="5.5" fill="#222" font-weight="normal" text-anchor="start" stroke="#222" stroke-width="0.12">AKT1</text><text x="453.70" y="365.30" font-size="5.5" fill="#222" font-weight="normal" text-anchor="start" stroke="#222" stroke-width="0.12">ESR1</text><text x="453.70" y="372.57" font-size="5.5" fill="#222" font-weight="normal" text-anchor="start" stroke="#222" stroke-width="0.12">ERBB2</text><rect x="384.90" y="171.10" width="21.60" height="6.66" fill="#f7b890" stroke="#674d3c" stroke-width="0.9"/><rect x="407.10" y="171.10" width="21.60" height="6.66" fill="#f5821e" stroke="#66360c" stroke-width="0.9"/><rect x="429.30" y="171.10" width="21.60" height="6.66" fill="#fde0d0" stroke="#e3c9bb" stroke-width="0.9"/><rect x="384.90" y="178.36" width="21.60" height="6.66" fill="#fde6dc" stroke="#6a605c" stroke-width="0.9"/><rect x="407.10" y="178.36" width="21.60" height="6.66" fill="#f8b07a" stroke="#684933" stroke-width="0.9"/><rect x="429.30" y="178.36" width="21.60" height="6.66" fill="#fde8de" stroke="#e3d0c7" stroke-width="0.9"/><rect x="384.90" y="185.63" width="21.60" height="6.66" fill="#fde8de" stroke="#6a615d" stroke-width="0.9"/><rect x="407.10" y="185.63" width="21.60" height="6.66" fill="#f5821e" stroke="#66360c" stroke-width="0.9"/><rect x="429.30" y="185.63" width="21.60" height="6.66" fill="#fff6f2" stroke="#e5ddd9" stroke-width="0.9"/><rect x="384.90" y="192.89" width="21.60" height="6.66" fill="#2e4fa8" stroke="#132146" stroke-width="0.9"/><rect x="407.10" y="192.89" width="21.60" height="6.66" fill="#1430b0" stroke="#081449" stroke-width="0.9"/><rect x="429.30" y="192.89" width="21.60" height="6.66" fill="#2c4ea6" stroke="#122045" stroke-width="0.9"/><rect x="384.90" y="200.16" width="21.60" height="6.66" fill="#5a84c8" stroke="#253754" stroke-width="0.9"/><rect x="407.10" y="200.16" width="21.60" height="6.66" fill="#1e3aa8" stroke="#0c1846" stroke-width="0.9"/><rect x="429.30" y="200.16" width="21.60" height="6.66" fill="#a8bde0" stroke="#464f5e" stroke-width="0.9"/><rect x="384.90" y="207.42" width="21.60" height="6.66" fill="#4a6cc0" stroke="#1f2d50" stroke-width="0.9"/><rect x="407.10" y="207.42" width="21.60" height="6.66" fill="#2a48a8" stroke="#111e46" stroke-width="0.9"/><rect x="429.30" y="207.42" width="21.60" height="6.66" fill="#fcece4" stroke="#e2d4cd" stroke-width="0.9"/><rect x="384.90" y="214.69" width="21.60" height="6.66" fill="#f0e8f4" stroke="#d8d0db" stroke-width="0.9"/><rect x="407.10" y="214.69" width="21.60" height="6.66" fill="#5a78c0" stroke="#253250" stroke-width="0.9"/><rect x="429.30" y="214.69" width="21.60" height="6.66" fill="#fff8f6" stroke="#e5dfdd" stroke-width="0.9"/><rect x="384.90" y="221.95" width="21.60" height="6.66" fill="#4a78c0" stroke="#1f3250" stroke-width="0.9"/><rect x="407.10" y="221.95" width="21.60" height="6.66" fill="#6a80c0" stroke="#2c3550" stroke-width="0.9"/><rect x="429.30" y="221.95" width="21.60" height="6.66" fill="#4a7ac0" stroke="#1f3350" stroke-width="0.9"/><rect x="384.90" y="229.21" width="21.60" height="6.66" fill="#b8c8e8" stroke="#4d5461" stroke-width="0.9"/><rect x="407.10" y="229.21" width="21.60" height="6.66" fill="#6070c0" stroke="#282f50" stroke-width="0.9"/><rect x="429.30" y="229.21" width="21.60" height="6.66" fill="#b0c4e4" stroke="#49525f" stroke-width="0.9"/><rect x="384.90" y="236.48" width="21.60" height="6.66" fill="#3a5ab0" stroke="#182549" stroke-width="0.9"/><rect x="407.10" y="236.48" width="21.60" height="6.66" fill="#1028b0" stroke="#061049" stroke-width="0.9"/><rect x="429.30" y="236.48" width="21.60" height="6.66" fill="#5a80c0" stroke="#253550" stroke-width="0.9"/><rect x="384.90" y="243.74" width="21.60" height="6.66" fill="#4262b8" stroke="#1b294d" stroke-width="0.9"/><rect x="407.10" y="243.74" width="21.60" height="6.66" fill="#6a88c8" stroke="#2c3954" stroke-width="0.9"/><rect x="429.30" y="243.74" width="21.60" height="6.66" fill="#b8c8e8" stroke="#4d5461" stroke-width="0.9"/><rect x="384.90" y="251.01" width="21.60" height="6.66" fill="#fffafa" stroke="#e5e1e1" stroke-width="0.9"/><rect x="407.10" y="251.01" width="21.60" height="6.66" fill="#fffafa" stroke="#e5e1e1" stroke-width="0.9"/><rect x="429.30" y="251.01" width="21.60" height="6.66" fill="#fde8dc" stroke="#e3d0c6" stroke-width="0.9"/><rect x="384.90" y="258.27" width="21.60" height="6.66" fill="#fde4d8" stroke="#e3cdc2" stroke-width="0.9"/><rect x="407.10" y="258.27" width="21.60" height="6.66" fill="#5a80c4" stroke="#253552" stroke-width="0.9"/><rect x="429.30" y="258.27" width="21.60" height="6.66" fill="#fde6dc" stroke="#e3cfc6" stroke-width="0.9"/><rect x="384.90" y="265.54" width="21.60" height="6.66" fill="#fbf8fc" stroke="#e1dfe2" stroke-width="0.9"/><rect x="407.10" y="265.54" width="21.60" height="6.66" fill="#5a80c4" stroke="#253552" stroke-width="0.9"/><rect x="429.30" y="265.54" width="21.60" height="6.66" fill="#ffffff" stroke="#e5e5e5" stroke-width="0.9"/><rect x="384.90" y="272.80" width="21.60" height="6.66" fill="#fde0d0" stroke="#e3c9bb" stroke-width="0.9"/><rect x="407.10" y="272.80" width="21.60" height="6.66" fill="#a8bce0" stroke="#464e5e" stroke-width="0.9"/><rect x="429.30" y="272.80" width="21.60" height="6.66" fill="#98b0dc" stroke="#3f495c" stroke-width="0.9"/><rect x="384.90" y="280.06" width="21.60" height="6.66" fill="#3a5cb8" stroke="#18264d" stroke-width="0.9"/><rect x="407.10" y="280.06" width="21.60" height="6.66" fill="#a8bce0" stroke="#464e5e" stroke-width="0.9"/><rect x="429.30" y="280.06" width="21.60" height="6.66" fill="#fffafa" stroke="#e5e1e1" stroke-width="0.9"/><rect x="384.90" y="287.33" width="21.60" height="6.66" fill="#fffcfc" stroke="#e5e2e2" stroke-width="0.9"/><rect x="407.10" y="287.33" width="21.60" height="6.66" fill="#fef0ea" stroke="#e4d8d2" stroke-width="0.9"/><rect x="429.30" y="287.33" width="21.60" height="6.66" fill="#fde6da" stroke="#e3cfc4" stroke-width="0.9"/><rect x="384.90" y="294.59" width="21.60" height="6.66" fill="#fde6da" stroke="#6a605b" stroke-width="0.9"/><rect x="407.10" y="294.59" width="21.60" height="6.66" fill="#fcdccc" stroke="#695c55" stroke-width="0.9"/><rect x="429.30" y="294.59" width="21.60" height="6.66" fill="#fffafa" stroke="#e5e1e1" stroke-width="0.9"/><rect x="384.90" y="301.86" width="21.60" height="6.66" fill="#ffffff" stroke="#e5e5e5" stroke-width="0.9"/><rect x="407.10" y="301.86" width="21.60" height="6.66" fill="#fffafa" stroke="#e5e1e1" stroke-width="0.9"/><rect x="429.30" y="301.86" width="21.60" height="6.66" fill="#ffffff" stroke="#e5e5e5" stroke-width="0.9"/><rect x="384.90" y="309.12" width="21.60" height="6.66" fill="#b0c4e8" stroke="#495261" stroke-width="0.9"/><rect x="407.10" y="309.12" width="21.60" height="6.66" fill="#7888c8" stroke="#323954" stroke-width="0.9"/><rect x="429.30" y="309.12" width="21.60" height="6.66" fill="#b0c4e8" stroke="#495261" stroke-width="0.9"/><rect x="384.90" y="316.39" width="21.60" height="6.66" fill="#6a8cd0" stroke="#2c3a57" stroke-width="0.9"/><rect x="407.10" y="316.39" width="21.60" height="6.66" fill="#7890d0" stroke="#323c57" stroke-width="0.9"/><rect x="429.30" y="316.39" width="21.60" height="6.66" fill="#6a8cd0" stroke="#2c3a57" stroke-width="0.9"/><rect x="384.90" y="323.65" width="21.60" height="6.66" fill="#8aa4d8" stroke="#39445a" stroke-width="0.9"/><rect x="407.10" y="323.65" width="21.60" height="6.66" fill="#8aa4d8" stroke="#39445a" stroke-width="0.9"/><rect x="429.30" y="323.65" width="21.60" height="6.66" fill="#8aa4d8" stroke="#39445a" stroke-width="0.9"/><rect x="384.90" y="330.91" width="21.60" height="6.66" fill="#6a84c8" stroke="#2c3754" stroke-width="0.9"/><rect x="407.10" y="330.91" width="21.60" height="6.66" fill="#c8d4ee" stroke="#545963" stroke-width="0.9"/><rect x="429.30" y="330.91" width="21.60" height="6.66" fill="#3048b0" stroke="#141e49" stroke-width="0.9"/><rect x="384.90" y="338.18" width="21.60" height="6.66" fill="#c0d0ec" stroke="#505763" stroke-width="0.9"/><rect x="407.10" y="338.18" width="21.60" height="6.66" fill="#7a8cc8" stroke="#333a54" stroke-width="0.9"/><rect x="429.30" y="338.18" width="21.60" height="6.66" fill="#b8c8e8" stroke="#4d5461" stroke-width="0.9"/><rect x="384.90" y="345.44" width="21.60" height="6.66" fill="#2e48b0" stroke="#131e49" stroke-width="0.9"/><rect x="407.10" y="345.44" width="21.60" height="6.66" fill="#3050b4" stroke="#14214b" stroke-width="0.9"/><rect x="429.30" y="345.44" width="21.60" height="6.66" fill="#2e48b0" stroke="#131e49" stroke-width="0.9"/><rect x="384.90" y="352.71" width="21.60" height="6.66" fill="#6a90d0" stroke="#2c3c57" stroke-width="0.9"/><rect x="407.10" y="352.71" width="21.60" height="6.66" fill="#6a90d0" stroke="#2c3c57" stroke-width="0.9"/><rect x="429.30" y="352.71" width="21.60" height="6.66" fill="#7a98d4" stroke="#333f59" stroke-width="0.9"/><rect x="384.90" y="359.97" width="21.60" height="6.66" fill="#4a70c0" stroke="#1f2f50" stroke-width="0.9"/><rect x="407.10" y="359.97" width="21.60" height="6.66" fill="#5a78c4" stroke="#253252" stroke-width="0.9"/><rect x="429.30" y="359.97" width="21.60" height="6.66" fill="#b8c8e8" stroke="#4d5461" stroke-width="0.9"/><rect x="384.90" y="367.24" width="21.60" height="6.66" fill="#b8c8ec" stroke="#4d5463" stroke-width="0.9"/><rect x="407.10" y="367.24" width="21.60" height="6.66" fill="#2a44b0" stroke="#111c49" stroke-width="0.9"/><rect x="429.30" y="367.24" width="21.60" height="6.66" fill="#b0c4e8" stroke="#495261" stroke-width="0.9"/><defs><linearGradient id="cb" x1="0" y1="0" x2="0" y2="1"><stop offset="0" stop-color="#ee8a3e"/><stop offset="0.33" stop-color="#f8d2b8"/><stop offset="0.575" stop-color="#ffffff"/><stop offset="0.78" stop-color="#7f95d2"/><stop offset="1" stop-color="#1a2e9e"/></linearGradient></defs><rect x="487.3" y="205.4" width="7.7" height="110.6" fill="url(#cb)"/><text x="479.40" y="199.80" font-size="6.55" fill="#222" font-weight="bold" text-anchor="start" >β-score</text><text x="497.80" y="215.80" font-size="6.4" fill="#333" font-weight="normal" text-anchor="start" >4</text><text x="497.80" y="243.30" font-size="6.4" fill="#333" font-weight="normal" text-anchor="start" >2</text><text x="497.80" y="271.10" font-size="6.4" fill="#333" font-weight="normal" text-anchor="start" >0</text><text x="497.80" y="299.00" font-size="6.4" fill="#333" font-weight="normal" text-anchor="start" >−2</text><text x="0" y="0" font-size="6.3" fill="#222" text-anchor="end" transform="translate(398.7,379.3) rotate(-45)">PalboS CTR</text><text x="0" y="0" font-size="6.3" fill="#222" text-anchor="end" transform="translate(423,379.3) rotate(-45)">PalboS Palbo 100 nmol/L</text><text x="0" y="0" font-size="6.3" fill="#222" text-anchor="end" transform="translate(446,379.3) rotate(-45)">PalboR Palbo 1 μmol/L</text><text x="320.00" y="445.40" font-size="14" fill="#111" font-weight="bold" text-anchor="start" >E</text><text x="398.50" y="446.00" font-size="6.32" fill="#222" font-weight="bold" text-anchor="start" >PalboR Palbo 1 μmol/L</text><rect x="426.59999999999997" y="458.60" width="69.96" height="10.8" fill="#0b2ba6" stroke="#081f80" stroke-width="0.7"/><line x1="423.00" y1="464.00" x2="426.20" y2="464.00" stroke="#333" stroke-width="0.8" /><text x="422.00" y="466.00" font-size="5.61" fill="#222" font-weight="normal" text-anchor="end" >OXIDATIVE_PHOSPHORYLATION</text><rect x="426.59999999999997" y="475.45" width="55.50" height="10.8" fill="#0b2ba6" stroke="#081f80" stroke-width="0.7"/><line x1="423.00" y1="480.85" x2="426.20" y2="480.85" stroke="#333" stroke-width="0.8" /><text x="422" y="482.85" font-size="5.61" fill="#222" text-anchor="end">G<tspan font-size="3.6" dy="1">2</tspan><tspan dy="-1">M_CHECKPOINT</tspan></text><rect x="426.59999999999997" y="492.30" width="51.43" height="10.8" fill="#0b2ba6" stroke="#081f80" stroke-width="0.7"/><line x1="423.00" y1="497.70" x2="426.20" y2="497.70" stroke="#333" stroke-width="0.8" /><text x="422.00" y="499.70" font-size="5.61" fill="#222" font-weight="normal" text-anchor="end" >MYC_TARGETS_V2</text><rect x="426.59999999999997" y="509.15" width="46.91" height="10.8" fill="#0b2ba6" stroke="#081f80" stroke-width="0.7"/><line x1="423.00" y1="514.55" x2="426.20" y2="514.55" stroke="#333" stroke-width="0.8" /><text x="422.00" y="516.55" font-size="5.61" fill="#222" font-weight="normal" text-anchor="end" >MYC_TARGETS_V1</text><rect x="426.59999999999997" y="526.00" width="46.91" height="10.8" fill="#0b2ba6" stroke="#081f80" stroke-width="0.7"/><line x1="423.00" y1="531.40" x2="426.20" y2="531.40" stroke="#333" stroke-width="0.8" /><text x="422.00" y="533.40" font-size="5.61" fill="#222" font-weight="normal" text-anchor="end" >E2F_TARGETS</text><rect x="426.59999999999997" y="542.85" width="34.26" height="10.8" fill="#0b2ba6" stroke="#081f80" stroke-width="0.7"/><line x1="423.00" y1="548.25" x2="426.20" y2="548.25" stroke="#333" stroke-width="0.8" /><text x="422.00" y="550.25" font-size="5.61" fill="#222" font-weight="normal" text-anchor="end" >MTORC1_SIGNALING</text><rect x="426.59999999999997" y="559.70" width="17.98" height="10.8" fill="#0b2ba6" stroke="#081f80" stroke-width="0.7"/><line x1="423.00" y1="565.10" x2="426.20" y2="565.10" stroke="#333" stroke-width="0.8" /><text x="422.00" y="567.10" font-size="5.61" fill="#222" font-weight="normal" text-anchor="end" >UNFOLDED_PROTEIN_RESPONSE</text><rect x="426.59999999999997" y="576.55" width="16.18" height="10.8" fill="#0b2ba6" stroke="#081f80" stroke-width="0.7"/><line x1="423.00" y1="581.95" x2="426.20" y2="581.95" stroke="#333" stroke-width="0.8" /><text x="422.00" y="583.95" font-size="5.61" fill="#222" font-weight="normal" text-anchor="end" >ANDROGEN_RESPONSE</text><rect x="426.59999999999997" y="593.40" width="14.82" height="10.8" fill="#0b2ba6" stroke="#081f80" stroke-width="0.7"/><line x1="423.00" y1="598.80" x2="426.20" y2="598.80" stroke="#333" stroke-width="0.8" /><text x="422.00" y="600.80" font-size="5.61" fill="#222" font-weight="normal" text-anchor="end" >REACTIVE_OXYGEN_SPECIES_PATHWAY</text><rect x="426.59999999999997" y="610.25" width="13.01" height="10.8" fill="#0b2ba6" stroke="#081f80" stroke-width="0.7"/><line x1="423.00" y1="615.65" x2="426.20" y2="615.65" stroke="#333" stroke-width="0.8" /><text x="422.00" y="617.65" font-size="5.61" fill="#222" font-weight="normal" text-anchor="end" >PROTEIN_SECRETION</text><line x1="426.20" y1="452.70" x2="426.20" y2="626.50" stroke="#444" stroke-width="1.1" /><line x1="426.20" y1="626.50" x2="516.50" y2="626.50" stroke="#444" stroke-width="1.1" /><line x1="426.20" y1="626.50" x2="426.20" y2="628.50" stroke="#444" stroke-width="0.8" /><text x="426.20" y="635.60" font-size="6.0" fill="#333" font-weight="normal" text-anchor="middle" >0</text><line x1="448.80" y1="626.50" x2="448.80" y2="628.50" stroke="#444" stroke-width="0.8" /><text x="448.80" y="635.60" font-size="6.0" fill="#333" font-weight="normal" text-anchor="middle" >5</text><line x1="471.40" y1="626.50" x2="471.40" y2="628.50" stroke="#444" stroke-width="0.8" /><text x="471.40" y="635.60" font-size="6.0" fill="#333" font-weight="normal" text-anchor="middle" >10</text><line x1="494.00" y1="626.50" x2="494.00" y2="628.50" stroke="#444" stroke-width="0.8" /><text x="494.00" y="635.60" font-size="6.0" fill="#333" font-weight="normal" text-anchor="middle" >15</text><line x1="516.60" y1="626.50" x2="516.60" y2="628.50" stroke="#444" stroke-width="0.8" /><text x="516.60" y="635.60" font-size="6.0" fill="#333" font-weight="normal" text-anchor="middle" >20</text><text x="476.4" y="645.6" font-size="6.1" fill="#333" text-anchor="middle">-log<tspan font-size="4" dy="1.5">10</tspan><tspan dy="-1.5"> </tspan><tspan font-style="italic">P</tspan> value</text>
</svg></body></html>
